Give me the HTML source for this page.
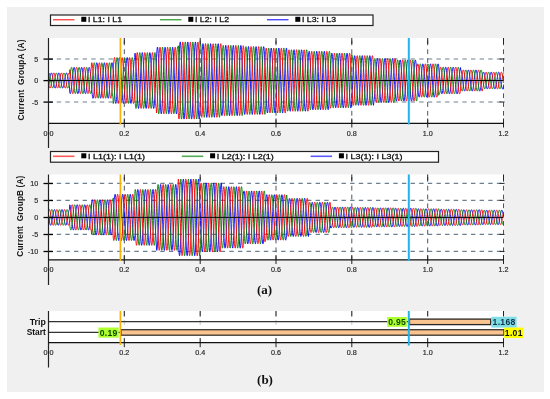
<!DOCTYPE html><html><head><meta charset="utf-8"><title>figure</title><style>html,body{margin:0;padding:0;background:#fff}svg{display:block}text{font-family:"Liberation Sans",sans-serif}</style></head><body>
<svg width="550" height="399" viewBox="0 0 550 399">
<rect x="0" y="0" width="550" height="399" fill="#fff"/>
<rect x="7" y="7" width="537" height="385" fill="#f0f0f0"/>
<rect x="48.5" y="38.0" width="455.5" height="85.0" fill="#fff"/>
<line x1="48.1" y1="59.0" x2="503.5" y2="59.0" stroke="#6d8091" stroke-width="1.1" stroke-dasharray="4.4 4.23"/>
<line x1="48.1" y1="102.0" x2="503.5" y2="102.0" stroke="#6d8091" stroke-width="1.1" stroke-dasharray="4.4 4.23"/>
<line x1="124.3" y1="40.5" x2="124.3" y2="123.0" stroke="#4c5762" stroke-width="1" stroke-dasharray="4.8 4"/>
<line x1="200.2" y1="40.5" x2="200.2" y2="123.0" stroke="#4c5762" stroke-width="1" stroke-dasharray="4.8 4"/>
<line x1="276.0" y1="40.5" x2="276.0" y2="123.0" stroke="#4c5762" stroke-width="1" stroke-dasharray="4.8 4"/>
<line x1="351.8" y1="40.5" x2="351.8" y2="123.0" stroke="#4c5762" stroke-width="1" stroke-dasharray="4.8 4"/>
<line x1="427.7" y1="40.5" x2="427.7" y2="123.0" stroke="#4c5762" stroke-width="1" stroke-dasharray="4.8 4"/>
<line x1="503.5" y1="40.5" x2="503.5" y2="123.0" stroke="#4c5762" stroke-width="1" stroke-dasharray="4.8 4"/>
<g fill="none" stroke-width="0.9" stroke-linejoin="round">
<path d="M48.50 85.76 L48.75 84.52 L49.00 83.10 L49.25 81.58 L49.50 80.01 L49.75 78.46 L50.00 77.00 L50.25 75.69 L50.50 74.58 L50.75 73.73 L51.00 73.16 L51.25 72.91 L51.50 72.99 L51.75 73.38 L52.00 74.08 L52.25 75.06 L52.50 76.26 L52.75 77.65 L53.00 79.16 L53.25 80.73 L53.50 82.28 L53.75 83.77 L54.00 85.11 L54.25 86.25 L54.50 87.15 L54.75 87.76 L55.00 88.07 L55.25 88.05 L55.50 87.71 L55.75 87.06 L56.00 86.12 L56.25 84.95 L56.50 83.59 L56.75 82.10 L57.00 80.53 L57.25 78.97 L57.50 77.47 L57.75 76.10 L58.00 74.92 L58.25 73.98 L58.50 73.32 L58.75 72.96 L59.00 72.93 L59.25 73.21 L59.50 73.82 L59.75 74.70 L60.00 75.84 L60.25 77.17 L60.50 78.65 L60.75 80.20 L61.00 81.77 L61.25 83.28 L61.50 84.68 L61.75 85.90 L62.00 86.88 L62.25 87.59 L62.50 88.00 L62.75 88.09 L63.00 87.86 L63.25 87.31 L63.50 86.46 L63.75 85.37 L64.00 84.06 L64.25 82.61 L64.50 81.06 L64.75 79.49 L65.00 77.96 L65.25 76.54 L65.50 75.29 L65.75 74.27 L66.00 73.50 L66.25 73.04 L66.50 72.90 L66.75 73.08 L67.00 73.58 L67.25 74.38 L67.50 75.43 L67.75 76.71 L68.00 78.14 L68.25 79.68 L68.50 81.25 L68.75 82.79 L69.00 84.23 L69.25 85.51 L69.50 86.58 L69.75 92.46 L70.00 93.36 L70.25 93.70 L70.50 93.47 L70.75 92.70 L71.00 91.40 L71.25 89.63 L71.50 87.48 L71.75 85.02 L72.00 82.38 L72.25 79.65 L72.50 76.96 L72.75 74.42 L73.00 72.14 L73.25 70.22 L73.50 68.74 L73.75 67.76 L74.00 67.32 L74.25 67.45 L74.50 68.14 L74.75 69.35 L75.00 71.04 L75.25 73.14 L75.50 75.55 L75.75 78.17 L76.00 80.89 L76.25 83.60 L76.50 86.17 L76.75 88.50 L77.00 90.49 L77.25 92.05 L77.50 93.12 L77.75 93.65 L78.00 93.61 L78.25 93.02 L78.50 91.89 L78.75 90.27 L79.00 88.23 L79.25 85.87 L79.50 83.27 L79.75 80.56 L80.00 77.84 L80.25 75.24 L80.50 72.86 L80.75 70.81 L81.00 69.18 L81.25 68.02 L81.50 67.40 L81.75 67.34 L82.00 67.85 L82.25 68.89 L82.50 70.43 L82.75 72.40 L83.00 74.72 L83.25 77.28 L83.50 79.98 L83.75 82.71 L84.00 85.34 L84.25 87.76 L84.50 89.87 L84.75 91.58 L85.00 92.82 L85.25 93.53 L85.50 93.69 L85.75 93.28 L86.00 92.32 L86.25 90.86 L86.50 88.95 L86.75 86.69 L87.00 84.16 L87.25 81.47 L87.50 78.74 L87.75 76.09 L88.00 73.63 L88.25 71.46 L88.50 69.67 L88.75 68.35 L89.00 67.55 L89.25 67.30 L89.50 67.62 L89.75 68.48 L90.00 69.87 L90.25 71.70 L90.50 73.91 L90.75 76.41 L91.00 79.07 L91.25 81.80 L91.50 85.86 L91.75 89.24 L92.00 92.24 L92.25 94.74 L92.50 96.63 L92.75 97.84 L93.00 98.30 L93.25 98.00 L93.50 96.95 L93.75 95.20 L94.00 92.82 L94.25 89.91 L94.50 86.60 L94.75 83.03 L95.00 79.35 L95.25 75.73 L95.50 72.30 L95.75 69.23 L96.00 66.63 L96.25 64.64 L96.50 63.31 L96.75 62.73 L97.00 62.90 L97.25 63.83 L97.50 65.47 L97.75 67.75 L98.00 70.57 L98.25 73.83 L98.50 77.36 L98.75 81.03 L99.00 84.68 L99.25 88.15 L99.50 91.29 L99.75 93.97 L100.00 96.08 L100.25 97.52 L100.50 98.23 L100.75 98.18 L101.00 97.38 L101.25 95.85 L101.50 93.67 L101.75 90.93 L102.00 87.74 L102.25 84.24 L102.50 80.58 L102.75 76.92 L103.00 73.41 L103.25 70.20 L103.50 67.44 L103.75 65.23 L104.00 63.68 L104.25 62.84 L104.50 62.76 L104.75 63.44 L105.00 64.84 L105.25 66.92 L105.50 69.58 L105.75 72.70 L106.00 76.16 L106.25 79.80 L106.50 83.48 L106.75 87.02 L107.00 90.29 L107.25 93.14 L107.50 95.45 L107.75 97.11 L108.00 98.07 L108.25 98.28 L108.50 97.73 L108.75 96.44 L109.00 94.47 L109.25 91.90 L109.50 88.84 L109.75 85.43 L110.00 81.81 L110.25 78.13 L110.50 74.55 L110.75 71.23 L111.00 68.30 L111.25 65.90 L111.50 64.12 L111.75 63.04 L112.00 62.70 L112.25 63.13 L112.50 64.30 L112.75 66.16 L113.00 68.64 L113.25 69.02 L113.50 73.37 L113.75 78.02 L114.00 82.77 L114.25 87.43 L114.50 91.79 L114.75 95.67 L115.00 98.90 L115.25 101.35 L115.50 102.90 L115.75 103.49 L116.00 103.11 L116.25 101.75 L116.50 99.49 L116.75 96.41 L117.00 92.66 L117.25 88.38 L117.50 83.77 L117.75 79.02 L118.00 74.33 L118.25 69.91 L118.50 65.93 L118.75 62.58 L119.00 60.00 L119.25 58.29 L119.50 57.54 L119.75 57.76 L120.00 58.96 L120.25 61.07 L120.50 64.02 L120.75 67.68 L121.00 71.88 L121.25 76.45 L121.50 81.19 L121.75 85.90 L122.00 90.38 L122.25 94.44 L122.50 97.91 L122.75 100.63 L123.00 102.49 L123.25 103.41 L123.50 103.34 L123.75 102.31 L124.00 100.34 L124.25 97.52 L124.50 93.98 L124.75 89.85 L125.00 85.33 L125.25 80.61 L125.50 75.87 L125.75 71.34 L126.00 67.20 L126.25 63.62 L126.50 60.77 L126.75 58.76 L127.00 57.68 L127.25 57.58 L127.50 58.45 L127.75 60.27 L128.00 62.95 L128.25 66.39 L128.50 70.43 L128.75 74.89 L129.00 79.60 L129.25 84.35 L129.50 88.93 L129.75 93.15 L130.00 96.83 L130.25 99.81 L130.50 101.97 L130.75 103.21 L131.00 103.47 L131.25 102.76 L131.50 101.09 L131.75 98.55 L132.00 95.23 L132.25 91.28 L132.50 86.87 L132.75 82.19 L133.00 77.44 L133.25 72.82 L133.50 68.52 L133.75 64.74 L134.00 61.63 L134.25 59.33 L134.50 57.93 L134.75 57.50 L135.00 53.17 L135.25 55.01 L135.50 57.94 L135.75 61.84 L136.00 66.53 L136.25 71.82 L136.50 77.48 L136.75 83.27 L137.00 88.94 L137.25 94.25 L137.50 98.97 L137.75 102.90 L138.00 105.88 L138.25 107.77 L138.50 108.49 L138.75 108.02 L139.00 106.37 L139.25 103.62 L139.50 99.87 L139.75 95.30 L140.00 90.10 L140.25 84.48 L140.50 78.70 L140.75 72.99 L141.00 67.60 L141.25 62.77 L141.50 58.69 L141.75 55.54 L142.00 53.47 L142.25 52.54 L142.50 52.82 L142.75 54.27 L143.00 56.85 L143.25 60.44 L143.50 64.89 L143.75 70.00 L144.00 75.56 L144.25 81.34 L144.50 87.08 L144.75 92.53 L145.00 97.47 L145.25 101.69 L145.50 105.00 L145.75 107.27 L146.00 108.38 L146.25 108.31 L146.50 107.05 L146.75 104.65 L147.00 101.22 L147.25 96.91 L147.50 91.89 L147.75 86.38 L148.00 80.63 L148.25 74.87 L148.50 69.35 L148.75 64.30 L149.00 59.95 L149.25 56.48 L149.50 54.03 L149.75 52.72 L150.00 52.59 L150.25 53.66 L150.50 55.87 L150.75 59.14 L151.00 63.32 L151.25 68.24 L151.50 73.67 L151.75 79.40 L152.00 85.18 L152.25 90.76 L152.50 95.90 L152.75 100.38 L153.00 104.01 L153.25 106.63 L153.50 108.14 L153.75 108.47 L154.00 107.60 L154.25 105.57 L154.50 102.47 L154.75 98.43 L155.00 93.63 L155.25 88.26 L155.50 82.56 L155.75 76.77 L156.00 71.15 L156.25 65.92 L156.50 57.61 L156.75 53.10 L157.00 49.76 L157.25 47.73 L157.50 47.10 L157.75 47.90 L158.00 50.10 L158.25 53.59 L158.50 58.24 L158.75 63.83 L159.00 70.14 L159.25 76.89 L159.50 83.80 L159.75 90.56 L160.00 96.90 L160.25 102.53 L160.50 107.22 L160.75 110.77 L161.00 113.03 L161.25 113.89 L161.50 113.33 L161.75 111.36 L162.00 108.07 L162.25 103.61 L162.50 98.16 L162.75 91.95 L163.00 85.25 L163.25 78.35 L163.50 71.54 L163.75 65.11 L164.00 59.35 L164.25 54.48 L164.50 50.73 L164.75 48.25 L165.00 47.15 L165.25 47.48 L165.50 49.22 L165.75 52.29 L166.00 56.57 L166.25 61.88 L166.50 67.98 L166.75 74.61 L167.00 81.50 L167.25 88.34 L167.50 94.85 L167.75 100.75 L168.00 105.78 L168.25 109.73 L168.50 112.43 L168.75 113.76 L169.00 113.67 L169.25 112.17 L169.50 109.31 L169.75 105.22 L170.00 100.07 L170.25 94.09 L170.50 87.52 L170.75 80.65 L171.00 73.78 L171.25 67.20 L171.50 61.18 L171.75 55.99 L172.00 51.85 L172.25 48.93 L172.50 47.36 L172.75 47.21 L173.00 48.48 L173.25 51.12 L173.50 55.02 L173.75 60.01 L174.00 65.87 L174.25 72.36 L174.50 79.19 L174.75 86.09 L175.00 92.74 L175.25 98.87 L175.50 104.21 L175.75 108.54 L176.00 111.67 L176.25 113.47 L176.50 113.86 L176.75 112.83 L177.00 110.41 L177.25 106.71 L177.50 101.89 L177.75 96.16 L178.00 89.76 L178.25 83.34 L178.50 75.36 L178.75 67.60 L179.00 60.40 L179.25 54.05 L179.50 48.83 L179.75 44.97 L180.00 42.63 L180.25 41.90 L180.50 42.83 L180.75 45.36 L181.00 49.40 L181.25 54.77 L181.50 61.24 L181.75 68.53 L182.00 76.33 L182.25 84.31 L182.50 92.13 L182.75 99.45 L183.00 105.96 L183.25 111.39 L183.50 115.49 L183.75 118.09 L184.00 119.09 L184.25 118.44 L184.50 116.17 L184.75 112.37 L185.00 107.21 L185.25 100.90 L185.50 93.73 L185.75 85.99 L186.00 78.01 L186.25 70.15 L186.50 62.72 L186.75 56.05 L187.00 50.43 L187.25 46.10 L187.50 43.23 L187.75 41.96 L188.00 42.34 L188.25 44.35 L188.50 47.90 L188.75 52.85 L189.00 58.98 L189.25 66.03 L189.50 73.70 L189.75 81.65 L190.00 89.56 L190.25 97.09 L190.50 103.90 L190.75 109.71 L191.00 114.28 L191.25 117.40 L191.50 118.94 L191.75 118.84 L192.00 117.10 L192.25 113.79 L192.50 109.07 L192.75 103.12 L193.00 96.20 L193.25 88.61 L193.50 80.68 L193.75 72.74 L194.00 65.13 L194.25 58.17 L194.50 52.17 L194.75 47.39 L195.00 44.02 L195.25 42.20 L195.50 42.03 L195.75 43.50 L196.00 46.55 L196.25 51.05 L196.50 56.82 L196.75 63.59 L197.00 71.09 L197.25 78.99 L197.50 86.95 L197.75 94.64 L198.00 101.73 L198.25 107.90 L198.50 112.91 L198.75 116.53 L199.00 118.61 L199.25 119.06 L199.50 117.86 L199.75 115.06 L200.00 109.46 L200.25 104.13 L200.50 97.80 L200.75 90.73 L201.00 83.22 L201.25 75.59 L201.50 68.17 L201.75 61.28 L202.00 55.22 L202.25 50.23 L202.50 46.54 L202.75 44.30 L203.00 43.60 L203.25 44.49 L203.50 46.91 L203.75 50.77 L204.00 55.90 L204.25 62.09 L204.50 69.06 L204.75 76.52 L205.00 84.15 L205.25 91.62 L205.50 98.62 L205.75 104.84 L206.00 110.02 L206.25 113.95 L206.50 116.44 L206.75 117.39 L207.00 116.77 L207.25 114.60 L207.50 110.96 L207.75 106.03 L208.00 100.01 L208.25 93.15 L208.50 85.75 L208.75 78.12 L209.00 70.60 L209.25 63.50 L209.50 57.13 L209.75 51.76 L210.00 47.61 L210.25 44.87 L210.50 43.66 L210.75 44.02 L211.00 45.94 L211.25 49.34 L211.50 54.06 L211.75 59.92 L212.00 66.66 L212.25 73.99 L212.50 81.60 L212.75 89.17 L213.00 96.36 L213.25 102.87 L213.50 108.43 L213.75 112.79 L214.00 115.77 L214.25 117.25 L214.50 117.15 L214.75 115.49 L215.00 112.33 L215.25 107.81 L215.50 102.12 L215.75 95.51 L216.00 88.25 L216.25 80.67 L216.50 73.08 L216.75 65.80 L217.00 59.16 L217.25 53.42 L217.50 48.85 L217.75 45.62 L218.00 43.89 L218.25 43.72 L218.50 45.13 L218.75 48.05 L219.00 52.35 L219.25 57.86 L219.50 64.34 L219.75 71.50 L220.00 79.06 L220.25 86.67 L220.50 94.02 L220.75 100.79 L221.00 106.70 L221.25 111.48 L221.50 114.94 L221.75 115.25 L222.00 115.66 L222.25 114.57 L222.50 112.02 L222.75 108.12 L223.00 103.04 L223.25 97.00 L223.50 90.25 L223.75 83.09 L224.00 75.82 L224.25 68.74 L224.50 62.17 L224.75 56.38 L225.00 51.62 L225.25 48.10 L225.50 45.96 L225.75 45.30 L226.00 46.15 L226.25 48.46 L226.50 52.14 L226.75 57.04 L227.00 62.94 L227.25 69.58 L227.50 76.70 L227.75 83.98 L228.00 91.11 L228.25 97.78 L228.50 103.72 L228.75 108.66 L229.00 112.40 L229.25 114.78 L229.50 115.69 L229.75 115.10 L230.00 113.02 L230.25 109.56 L230.50 104.85 L230.75 99.11 L231.00 92.56 L231.25 85.51 L231.50 78.23 L231.75 71.06 L232.00 64.29 L232.25 58.21 L232.50 53.08 L232.75 49.13 L233.00 46.52 L233.25 45.36 L233.50 45.70 L233.75 47.53 L234.00 50.77 L234.25 55.28 L234.50 60.87 L234.75 67.30 L235.00 74.29 L235.25 81.55 L235.50 88.77 L235.75 95.63 L236.00 101.84 L236.25 107.14 L236.50 111.30 L236.75 114.15 L237.00 115.55 L237.25 115.46 L237.50 113.88 L237.75 110.86 L238.00 106.55 L238.25 101.12 L238.50 94.82 L238.75 87.90 L239.00 80.66 L239.25 73.42 L239.50 66.48 L239.75 60.14 L240.00 54.67 L240.25 50.30 L240.50 47.23 L240.75 45.58 L241.00 45.42 L241.25 46.76 L241.50 49.54 L241.75 53.65 L242.00 58.90 L242.25 65.08 L242.50 71.92 L242.75 79.12 L243.00 86.39 L243.25 93.40 L243.50 99.20 L243.75 104.64 L244.00 109.05 L244.25 112.23 L244.50 114.07 L244.75 114.46 L245.00 113.41 L245.25 110.94 L245.50 107.18 L245.75 102.27 L246.00 96.44 L246.25 89.92 L246.50 83.00 L246.75 75.97 L247.00 69.14 L247.25 62.79 L247.50 57.20 L247.75 52.61 L248.00 49.21 L248.25 47.14 L248.50 46.50 L248.75 47.32 L249.00 49.55 L249.25 53.11 L249.50 57.84 L249.75 63.53 L250.00 69.96 L250.25 76.83 L250.50 83.86 L250.75 90.75 L251.00 97.19 L251.25 102.93 L251.50 107.70 L251.75 111.32 L252.00 113.61 L252.25 114.49 L252.50 113.92 L252.75 111.92 L253.00 108.57 L253.25 104.02 L253.50 98.47 L253.75 92.15 L254.00 85.34 L254.25 78.31 L254.50 71.38 L254.75 64.84 L255.00 58.97 L255.25 54.02 L255.50 50.20 L255.75 47.67 L256.00 46.55 L256.25 46.89 L256.50 48.65 L256.75 51.78 L257.00 56.14 L257.25 61.54 L257.50 67.75 L257.75 74.51 L258.00 81.52 L258.25 88.48 L258.50 95.11 L258.75 101.11 L259.00 106.23 L259.25 110.25 L259.50 113.00 L259.75 114.36 L260.00 114.27 L260.25 112.74 L260.50 109.83 L260.75 105.66 L261.00 100.42 L261.25 94.33 L261.50 87.65 L261.75 80.66 L262.00 73.66 L262.25 66.96 L262.50 60.83 L262.75 55.55 L263.00 51.33 L263.25 48.36 L263.50 46.77 L263.75 46.61 L264.00 47.91 L264.25 50.60 L264.50 54.56 L264.75 59.64 L265.00 65.61 L265.25 72.58 L265.50 79.23 L265.75 85.93 L266.00 92.41 L266.25 98.37 L266.50 103.57 L266.75 107.79 L267.00 110.83 L267.25 112.59 L267.50 112.96 L267.75 111.95 L268.00 109.60 L268.25 106.00 L268.50 101.31 L268.75 95.74 L269.00 89.51 L269.25 82.89 L269.50 76.17 L269.75 69.64 L270.00 63.57 L270.25 58.23 L270.50 53.84 L270.75 50.59 L271.00 48.61 L271.25 48.00 L271.50 48.78 L271.75 50.92 L272.00 54.32 L272.25 58.84 L272.50 64.28 L272.75 70.42 L273.00 76.99 L273.25 83.71 L273.50 90.29 L273.75 96.46 L274.00 101.94 L274.25 106.50 L274.50 109.96 L274.75 112.15 L275.00 112.99 L275.25 112.44 L275.50 110.53 L275.75 107.33 L276.00 102.99 L276.25 97.68 L276.50 91.64 L276.75 85.12 L277.00 78.41 L277.25 71.78 L277.50 65.53 L277.75 59.92 L278.00 55.18 L278.25 51.53 L278.50 49.12 L278.75 48.05 L279.00 48.37 L279.25 50.06 L279.50 53.05 L279.75 57.22 L280.00 62.38 L280.25 68.31 L280.50 74.77 L280.75 81.47 L281.00 88.13 L281.25 94.47 L281.50 100.20 L281.75 105.10 L282.00 108.94 L282.25 111.57 L282.50 112.87 L282.75 112.78 L283.00 111.32 L283.25 108.53 L283.50 104.55 L283.75 99.54 L284.00 93.72 L284.25 87.33 L284.50 80.65 L284.75 73.96 L285.00 67.55 L285.25 61.70 L285.50 56.65 L285.75 52.62 L286.00 49.78 L286.25 48.26 L286.50 48.11 L286.75 49.35 L287.00 53.41 L287.25 57.00 L287.50 61.60 L287.75 67.01 L288.00 72.99 L288.25 79.30 L288.50 85.65 L288.75 91.79 L289.00 97.44 L289.25 102.37 L289.50 106.36 L289.75 109.25 L290.00 110.91 L290.25 111.27 L290.50 110.31 L290.75 108.08 L291.00 104.67 L291.25 100.23 L291.50 94.94 L291.75 89.04 L292.00 82.77 L292.25 76.40 L292.50 70.21 L292.75 64.46 L293.00 59.40 L293.25 55.23 L293.50 52.15 L293.75 50.28 L294.00 49.70 L294.25 50.44 L294.50 52.46 L294.75 55.69 L295.00 59.97 L295.25 65.13 L295.50 70.95 L295.75 77.17 L296.00 83.54 L296.25 89.78 L296.50 95.62 L296.75 100.82 L297.00 105.14 L297.25 108.42 L297.50 110.50 L297.75 111.29 L298.00 110.77 L298.25 108.96 L298.50 105.93 L298.75 101.81 L299.00 96.78 L299.25 91.06 L299.50 84.88 L299.75 78.52 L300.00 72.24 L300.25 66.31 L300.50 60.99 L300.75 56.51 L301.00 53.05 L301.25 50.76 L301.50 49.75 L301.75 50.05 L302.00 51.65 L302.25 54.49 L302.50 58.43 L302.75 63.33 L303.00 68.95 L303.25 75.07 L303.50 81.42 L303.75 87.73 L304.00 93.74 L304.25 99.17 L304.50 103.81 L304.75 107.45 L305.00 109.94 L305.25 111.17 L305.50 111.09 L305.75 109.70 L306.00 107.07 L306.25 103.29 L306.50 98.55 L306.75 93.03 L307.00 86.97 L307.25 80.64 L307.50 74.30 L307.75 68.23 L308.00 62.68 L308.25 57.90 L308.50 54.08 L308.75 52.81 L309.00 51.43 L309.25 51.30 L309.50 52.41 L309.75 54.73 L310.00 58.15 L310.25 62.52 L310.50 67.67 L310.75 73.36 L311.00 79.35 L311.25 85.40 L311.50 91.24 L311.75 96.61 L312.00 101.30 L312.25 105.10 L312.50 107.85 L312.75 109.43 L313.00 109.77 L313.25 108.86 L313.50 106.74 L313.75 103.49 L314.00 99.26 L314.25 94.24 L314.50 88.62 L314.75 82.66 L315.00 76.60 L315.25 70.71 L315.50 65.24 L315.75 60.42 L316.00 56.46 L316.25 53.53 L316.50 51.75 L316.75 51.20 L317.00 51.90 L317.25 53.83 L317.50 56.90 L317.75 60.97 L318.00 65.88 L318.25 71.41 L318.50 77.34 L318.75 83.39 L319.00 89.33 L319.25 94.89 L319.50 99.83 L319.75 103.94 L320.00 107.06 L320.25 109.04 L320.50 109.79 L320.75 109.30 L321.00 107.57 L321.25 104.69 L321.50 100.77 L321.75 95.99 L322.00 90.54 L322.25 84.67 L322.50 78.61 L322.75 72.64 L323.00 67.00 L323.25 61.94 L323.50 57.68 L323.75 54.39 L324.00 52.21 L324.25 51.25 L324.50 51.53 L324.75 53.06 L325.00 55.75 L325.25 59.51 L325.50 64.16 L325.75 69.51 L326.00 75.33 L326.25 81.38 L326.50 87.38 L326.75 93.09 L327.00 98.26 L327.25 102.68 L327.50 106.14 L327.75 108.51 L328.00 109.68 L328.25 109.60 L328.50 108.28 L328.75 105.77 L329.00 102.18 L329.25 97.67 L329.50 92.42 L329.75 86.66 L330.00 80.63 L330.25 74.61 L330.50 69.59 L330.75 64.65 L331.00 60.39 L331.25 56.99 L331.50 54.60 L331.75 53.32 L332.00 53.19 L332.25 54.24 L332.50 56.40 L332.75 59.60 L333.00 63.69 L333.25 68.50 L333.50 73.82 L333.75 79.43 L334.00 85.08 L334.25 90.54 L334.50 95.57 L334.75 99.95 L335.00 103.51 L335.25 106.07 L335.50 107.55 L335.75 107.87 L336.00 107.02 L336.25 105.03 L336.50 102.00 L336.75 98.05 L337.00 93.34 L337.25 88.09 L337.50 82.52 L337.75 76.85 L338.00 71.35 L338.25 66.23 L338.50 61.73 L338.75 58.02 L339.00 55.28 L339.25 53.62 L339.50 53.10 L339.75 53.76 L340.00 55.56 L340.25 58.43 L340.50 62.24 L340.75 66.83 L341.00 72.00 L341.25 77.54 L341.50 83.21 L341.75 88.76 L342.00 93.95 L342.25 98.57 L342.50 102.42 L342.75 105.34 L343.00 107.18 L343.25 107.89 L343.50 107.43 L343.75 105.82 L344.00 103.12 L344.25 99.46 L344.50 94.98 L344.75 89.89 L345.00 84.40 L345.25 78.74 L345.50 73.15 L345.75 67.88 L346.00 63.15 L346.25 59.16 L346.50 56.08 L346.75 54.05 L347.00 53.14 L347.25 53.41 L347.50 54.84 L347.75 57.36 L348.00 60.87 L348.25 65.22 L348.50 70.23 L348.75 75.67 L349.00 81.32 L349.25 86.93 L349.50 92.27 L349.75 97.11 L350.00 101.24 L350.25 104.48 L350.50 106.69 L350.75 107.79 L351.00 107.72 L351.25 106.48 L351.50 104.13 L351.75 100.78 L352.00 95.09 L352.25 90.63 L352.50 85.73 L352.75 80.61 L353.00 75.49 L353.25 70.58 L353.50 66.10 L353.75 62.23 L354.00 59.14 L354.25 56.96 L354.50 55.80 L354.75 55.68 L355.00 56.63 L355.25 58.60 L355.50 61.51 L355.75 65.22 L356.00 69.59 L356.25 74.43 L356.50 79.53 L356.75 84.66 L357.00 89.62 L357.25 94.19 L357.50 98.18 L357.75 101.41 L358.00 103.74 L358.25 105.08 L358.50 105.37 L358.75 104.60 L359.00 102.80 L359.25 100.04 L359.50 96.45 L359.75 92.17 L360.00 87.40 L360.25 82.33 L360.50 77.19 L360.75 72.18 L361.00 67.53 L361.25 63.44 L361.50 60.07 L361.75 57.58 L362.00 56.07 L362.25 55.60 L362.50 56.20 L362.75 57.84 L363.00 60.44 L363.25 63.90 L363.50 68.07 L363.75 72.78 L364.00 77.81 L364.25 82.96 L364.50 88.00 L364.75 92.73 L365.00 96.93 L365.25 100.42 L365.50 103.07 L365.75 104.75 L366.00 105.39 L366.25 104.97 L366.50 103.51 L366.75 101.06 L367.00 97.73 L367.25 93.66 L367.50 89.03 L367.75 84.04 L368.00 78.90 L368.25 73.82 L368.50 69.03 L368.75 64.73 L369.00 61.10 L369.25 58.31 L369.50 56.46 L369.75 55.64 L370.00 55.88 L370.25 57.18 L370.50 59.47 L370.75 62.66 L371.00 66.62 L371.25 71.16 L371.50 76.11 L371.75 81.24 L372.00 86.35 L372.25 91.20 L372.50 95.60 L372.75 99.35 L373.00 102.29 L373.25 104.30 L373.50 105.30 L373.75 102.45 L374.00 101.45 L374.25 99.56 L374.50 96.86 L374.75 93.45 L375.00 89.49 L375.25 85.14 L375.50 80.60 L375.75 76.05 L376.00 71.70 L376.25 67.72 L376.50 64.28 L376.75 61.54 L377.00 59.61 L377.25 58.57 L377.50 58.47 L377.75 59.32 L378.00 61.06 L378.25 63.64 L378.50 66.94 L378.75 70.82 L379.00 75.11 L379.25 79.64 L379.50 84.20 L379.75 88.60 L380.00 92.65 L380.25 96.19 L380.50 99.06 L380.75 101.13 L381.00 102.32 L381.25 102.58 L381.50 101.89 L381.75 100.29 L382.00 97.84 L382.25 94.65 L382.50 90.86 L382.75 86.62 L383.00 82.13 L383.25 77.56 L383.50 73.12 L383.75 68.99 L384.00 65.36 L384.25 62.37 L384.50 60.16 L384.75 58.82 L385.00 58.40 L385.25 58.93 L385.50 60.38 L385.75 62.70 L386.00 65.77 L386.25 69.47 L386.50 73.65 L386.75 78.11 L387.00 82.68 L387.25 87.16 L387.50 91.35 L387.75 95.08 L388.00 98.18 L388.25 100.53 L388.50 102.02 L388.75 102.59 L389.00 102.22 L389.25 100.92 L389.50 98.75 L389.75 95.79 L390.00 92.18 L390.25 88.07 L390.50 83.64 L390.75 79.08 L391.00 74.57 L391.25 70.32 L391.50 66.50 L391.75 63.29 L392.00 60.80 L392.25 59.16 L392.50 58.44 L392.75 58.65 L393.00 59.80 L393.25 61.83 L393.50 64.67 L393.75 68.18 L394.00 72.21 L394.25 76.60 L394.50 81.16 L394.75 85.69 L395.00 90.00 L395.25 93.90 L395.50 96.09 L395.75 98.53 L396.00 100.19 L396.25 101.01 L396.50 100.96 L396.75 100.03 L397.00 98.27 L397.25 95.75 L397.50 92.57 L397.75 88.88 L398.00 84.83 L398.25 80.59 L398.50 76.36 L398.75 72.29 L399.00 68.58 L399.25 65.38 L399.50 62.83 L399.75 61.03 L400.00 60.06 L400.25 59.97 L400.50 60.75 L400.75 62.38 L401.00 64.79 L401.25 67.86 L401.50 71.48 L401.75 75.48 L402.00 79.69 L402.25 83.94 L402.50 88.05 L402.75 91.83 L403.00 95.12 L403.25 97.80 L403.50 99.73 L403.75 100.84 L404.00 101.08 L404.25 100.44 L404.50 98.95 L404.75 96.66 L405.00 93.69 L405.25 90.16 L405.50 86.21 L405.75 82.02 L406.00 77.76 L406.25 73.62 L406.50 69.77 L406.75 66.38 L407.00 63.60 L407.25 61.54 L407.50 60.29 L407.75 59.90 L408.00 60.40 L408.25 61.75 L408.50 63.90 L408.75 66.77 L409.00 70.22 L409.25 74.11 L409.50 78.28 L409.75 82.54 L410.00 86.71 L410.25 90.61 L410.50 94.09 L410.75 96.98 L411.00 99.17 L411.25 100.56 L411.50 101.10 L411.75 100.75 L412.00 99.53 L412.25 97.51 L412.50 94.75 L412.75 91.39 L413.00 87.56 L413.25 83.43 L413.50 79.17 L413.75 74.97 L414.00 71.01 L414.25 67.45 L414.50 64.45 L414.75 62.14 L415.00 60.61 L415.25 59.93 L415.50 60.13 L415.75 61.21 L416.00 63.10 L416.25 65.74 L416.50 69.01 L416.75 72.78 L417.00 76.87 L417.25 81.00 L417.50 84.42 L417.75 87.68 L418.00 90.62 L418.25 93.14 L418.50 95.11 L418.75 96.46 L419.00 97.13 L419.25 97.09 L419.50 96.33 L419.75 94.90 L420.00 92.86 L420.25 90.28 L420.50 87.29 L420.75 84.01 L421.00 80.58 L421.25 77.14 L421.50 73.85 L421.75 70.84 L422.00 68.24 L422.25 66.17 L422.50 64.72 L422.75 63.93 L423.00 63.86 L423.25 64.49 L423.50 65.81 L423.75 67.76 L424.00 70.25 L424.25 73.18 L424.50 76.43 L424.75 79.85 L425.00 83.29 L425.25 86.62 L425.50 89.68 L425.75 92.36 L426.00 94.52 L426.25 96.09 L426.50 96.99 L426.75 97.18 L427.00 96.66 L427.25 95.45 L427.50 93.60 L427.75 91.20 L428.00 88.33 L428.25 85.13 L428.50 81.73 L428.75 78.28 L429.00 74.92 L429.25 71.80 L429.50 69.06 L429.75 66.80 L430.00 65.13 L430.25 64.11 L430.50 63.80 L430.75 64.20 L431.00 65.30 L431.25 67.05 L431.50 69.37 L431.75 72.17 L432.00 75.32 L432.25 78.70 L432.50 82.15 L432.75 85.53 L433.00 88.70 L433.25 91.52 L433.50 93.86 L433.75 95.64 L434.00 96.76 L434.25 97.20 L434.50 96.91 L434.75 95.93 L435.00 94.29 L435.25 92.05 L435.50 89.33 L435.75 86.22 L436.00 82.87 L436.25 79.42 L436.50 76.02 L436.75 72.81 L437.00 69.92 L437.25 67.49 L437.50 65.62 L437.75 64.38 L438.00 63.83 L438.25 63.99 L438.50 64.86 L438.75 66.40 L439.00 70.90 L439.25 73.03 L439.50 75.48 L439.75 78.14 L440.00 80.90 L440.25 83.65 L440.50 86.26 L440.75 88.62 L441.00 90.64 L441.25 92.23 L441.50 93.31 L441.75 93.84 L442.00 93.81 L442.25 93.21 L442.50 92.06 L442.75 90.42 L443.00 88.35 L443.25 85.95 L443.50 83.32 L443.75 80.56 L444.00 77.80 L444.25 75.16 L444.50 72.75 L444.75 70.67 L445.00 69.00 L445.25 67.83 L445.50 67.21 L445.75 67.14 L446.00 67.66 L446.25 68.71 L446.50 70.28 L446.75 72.28 L447.00 74.63 L447.25 77.23 L447.50 79.98 L447.75 82.74 L448.00 85.41 L448.25 87.87 L448.50 90.01 L448.75 91.75 L449.00 93.01 L449.25 93.73 L449.50 93.89 L449.75 93.47 L450.00 92.50 L450.25 91.01 L450.50 89.08 L450.75 86.78 L451.00 84.21 L451.25 81.49 L451.50 78.72 L451.75 76.02 L452.00 73.52 L452.25 71.32 L452.50 69.51 L452.75 68.17 L453.00 67.35 L453.25 67.10 L453.50 67.42 L453.75 68.30 L454.00 69.70 L454.25 71.57 L454.50 73.81 L454.75 76.34 L455.00 79.05 L455.25 81.82 L455.50 84.54 L455.75 87.08 L456.00 89.34 L456.25 91.22 L456.50 92.65 L456.75 93.55 L457.00 93.90 L457.25 93.67 L457.50 92.88 L457.75 91.56 L458.00 89.77 L458.25 87.58 L458.50 85.09 L458.75 82.41 L459.00 79.64 L459.25 76.91 L459.50 74.33 L459.75 72.01 L460.00 70.06 L460.25 68.56 L460.50 67.56 L460.75 69.92 L461.00 70.02 L461.25 70.57 L461.50 71.55 L461.75 72.91 L462.00 74.59 L462.25 76.53 L462.50 78.63 L462.75 80.82 L463.00 82.99 L463.25 85.06 L463.50 86.93 L463.75 88.52 L464.00 89.78 L464.25 90.63 L464.50 91.06 L464.75 91.03 L465.00 90.55 L465.25 89.64 L465.50 88.34 L465.75 86.71 L466.00 84.81 L466.25 82.73 L466.50 80.55 L466.75 78.37 L467.00 76.28 L467.25 74.37 L467.50 72.72 L467.75 71.41 L468.00 70.48 L468.25 69.98 L468.50 69.94 L468.75 70.34 L469.00 71.18 L469.25 72.41 L469.50 74.00 L469.75 75.86 L470.00 77.92 L470.25 80.09 L470.50 82.27 L470.75 84.38 L471.00 86.33 L471.25 88.03 L471.50 89.40 L471.75 90.39 L472.00 90.96 L472.25 91.09 L472.50 90.76 L472.75 89.99 L473.00 88.82 L473.25 87.29 L473.50 85.47 L473.75 83.44 L474.00 81.28 L474.25 79.09 L474.50 76.96 L474.75 74.98 L475.00 73.24 L475.25 71.80 L475.50 70.74 L475.75 70.10 L476.00 69.90 L476.25 70.16 L476.50 70.85 L476.75 71.96 L477.00 73.43 L477.25 75.21 L477.50 77.21 L477.75 79.36 L478.00 81.55 L478.25 83.69 L478.50 85.70 L478.75 87.49 L479.00 88.98 L479.25 90.11 L479.50 90.82 L479.75 91.10 L480.00 90.92 L480.25 90.29 L480.50 89.25 L480.75 87.83 L481.00 86.10 L481.25 84.13 L481.50 82.01 L481.75 79.82 L482.00 77.66 L482.25 75.62 L482.50 75.18 L482.75 73.96 L483.00 73.01 L483.25 72.39 L483.50 72.11 L483.75 72.20 L484.00 72.63 L484.25 73.41 L484.50 74.48 L484.75 75.82 L485.00 77.35 L485.25 79.02 L485.50 80.75 L485.75 82.47 L486.00 84.11 L486.25 85.59 L486.50 86.86 L486.75 87.85 L487.00 88.53 L487.25 88.87 L487.50 88.84 L487.75 88.46 L488.00 87.75 L488.25 86.72 L488.50 85.42 L488.75 83.92 L489.00 82.27 L489.25 80.54 L489.50 78.81 L489.75 77.15 L490.00 75.64 L490.25 74.34 L490.50 73.29 L490.75 72.56 L491.00 72.17 L491.25 72.13 L491.50 72.45 L491.75 73.11 L492.00 74.09 L492.25 75.35 L492.50 76.82 L492.75 78.45 L493.00 80.17 L493.25 81.90 L493.50 83.58 L493.75 85.12 L494.00 86.46 L494.25 87.55 L494.50 88.34 L494.75 88.79 L495.00 88.89 L495.25 88.63 L495.50 88.02 L495.75 87.09 L496.00 85.88 L496.25 84.44 L496.50 82.83 L496.75 81.12 L497.00 79.38 L497.25 77.69 L497.50 76.13 L497.75 74.74 L498.00 73.61 L498.25 72.77 L498.50 72.26 L498.75 72.10 L499.00 72.30 L499.25 72.85 L499.50 73.73 L499.75 74.90 L500.00 76.31 L500.25 77.90 L500.50 79.59 L500.75 81.33 L501.00 83.03 L501.25 84.62 L501.50 86.04 L501.75 87.22 L502.00 88.11 L502.25 88.68 L502.50 88.90 L502.75 88.76 L503.00 88.26 L503.25 87.43 L503.50 86.31" stroke="#0000ff"/>
<path d="M48.50 73.12 L48.75 72.90 L49.00 73.01 L49.25 73.44 L49.50 74.18 L49.75 75.18 L50.00 76.41 L50.25 77.81 L50.50 79.33 L50.75 80.90 L51.00 82.45 L51.25 83.92 L51.50 85.25 L51.75 86.36 L52.00 87.23 L52.25 87.81 L52.50 88.08 L52.75 88.03 L53.00 87.65 L53.25 86.97 L53.50 86.01 L53.75 84.81 L54.00 83.43 L54.25 81.93 L54.50 80.36 L54.75 78.80 L55.00 77.31 L55.25 75.96 L55.50 74.81 L55.75 73.89 L56.00 73.26 L56.25 72.94 L56.50 72.94 L56.75 73.27 L57.00 73.90 L57.25 74.82 L57.50 75.98 L57.75 77.33 L58.00 78.82 L58.25 80.38 L58.50 81.94 L58.75 83.45 L59.00 84.82 L59.25 86.02 L59.50 86.97 L59.75 87.65 L60.00 88.03 L60.25 88.08 L60.50 87.81 L60.75 87.23 L61.00 86.35 L61.25 85.23 L61.50 83.91 L61.75 82.44 L62.00 80.88 L62.25 79.32 L62.50 77.80 L62.75 76.39 L63.00 75.17 L63.25 74.17 L63.50 73.44 L63.75 73.01 L64.00 72.90 L64.25 73.12 L64.50 73.66 L64.75 74.48 L65.00 75.57 L65.25 76.86 L65.50 78.31 L65.75 79.85 L66.00 81.42 L66.25 82.96 L66.50 84.38 L66.75 85.64 L67.00 86.68 L67.25 87.46 L67.50 87.94 L67.75 88.10 L68.00 87.94 L68.25 87.45 L68.50 86.67 L68.75 85.63 L69.00 84.37 L69.25 82.94 L69.50 81.41 L69.75 79.35 L70.00 76.67 L70.25 74.15 L70.50 71.91 L70.75 70.03 L71.00 68.60 L71.25 67.68 L71.50 67.31 L71.75 67.50 L72.00 68.25 L72.25 69.52 L72.50 71.26 L72.75 73.39 L73.00 75.83 L73.25 78.47 L73.50 81.20 L73.75 83.89 L74.00 86.45 L74.25 88.74 L74.50 90.69 L74.75 92.20 L75.00 93.20 L75.25 93.67 L75.50 93.57 L75.75 92.92 L76.00 91.73 L76.25 90.06 L76.50 87.99 L76.75 85.59 L77.00 82.98 L77.25 80.26 L77.50 77.55 L77.75 74.97 L78.00 72.62 L78.25 70.61 L78.50 69.02 L78.75 67.93 L79.00 67.37 L79.25 67.37 L79.50 67.94 L79.75 69.04 L80.00 70.63 L80.25 72.64 L80.50 74.99 L80.75 77.58 L81.00 80.29 L81.25 83.01 L81.50 85.62 L81.75 88.01 L82.00 90.08 L82.25 91.74 L82.50 92.93 L82.75 93.58 L83.00 93.67 L83.25 93.20 L83.50 92.18 L83.75 90.67 L84.00 88.72 L84.25 86.42 L84.50 83.87 L84.75 81.17 L85.00 78.44 L85.25 75.81 L85.50 73.37 L85.75 71.24 L86.00 69.50 L86.25 68.23 L86.50 67.49 L86.75 67.31 L87.00 67.69 L87.25 68.61 L87.50 70.05 L87.75 71.93 L88.00 74.18 L88.25 76.70 L88.50 79.38 L88.75 82.11 L89.00 84.77 L89.25 87.24 L89.50 89.43 L89.75 91.24 L90.00 92.59 L90.25 93.42 L90.50 93.70 L90.75 93.41 L91.00 92.58 L91.25 91.22 L91.50 92.52 L91.75 89.56 L92.00 86.21 L92.25 82.63 L92.50 78.95 L92.75 75.33 L93.00 71.94 L93.25 68.91 L93.50 66.38 L93.75 64.45 L94.00 63.21 L94.25 62.71 L94.50 62.97 L94.75 63.98 L95.00 65.69 L95.25 68.04 L95.50 70.92 L95.75 74.21 L96.00 77.77 L96.25 81.44 L96.50 85.08 L96.75 88.52 L97.00 91.61 L97.25 94.24 L97.50 96.27 L97.75 97.63 L98.00 98.26 L98.25 98.13 L98.50 97.24 L98.75 95.64 L99.00 93.39 L99.25 90.59 L99.50 87.36 L99.75 83.84 L100.00 80.17 L100.25 76.52 L100.50 73.04 L100.75 69.87 L101.00 67.16 L101.25 65.02 L101.50 63.55 L101.75 62.79 L102.00 62.80 L102.25 63.56 L102.50 65.04 L102.75 67.19 L103.00 69.91 L103.25 73.07 L103.50 76.56 L103.75 80.21 L104.00 83.88 L104.25 87.40 L104.50 90.63 L104.75 93.42 L105.00 95.66 L105.25 97.26 L105.50 98.13 L105.75 98.26 L106.00 97.62 L106.25 96.25 L106.50 94.21 L106.75 91.58 L107.00 88.48 L107.25 85.04 L107.50 81.40 L107.75 77.73 L108.00 74.17 L108.25 70.88 L108.50 68.01 L108.75 65.67 L109.00 63.96 L109.25 62.96 L109.50 62.71 L109.75 63.22 L110.00 64.47 L110.25 66.41 L110.50 68.94 L110.75 71.98 L111.00 75.37 L111.25 78.99 L111.50 82.67 L111.75 86.25 L112.00 89.59 L112.25 92.55 L112.50 94.98 L112.75 96.80 L113.00 97.92 L113.25 103.50 L113.50 103.00 L113.75 101.54 L114.00 99.18 L114.25 96.03 L114.50 92.21 L114.75 87.88 L115.00 83.25 L115.25 78.49 L115.50 73.82 L115.75 69.44 L116.00 65.53 L116.25 62.26 L116.50 59.77 L116.75 58.16 L117.00 57.51 L117.25 57.85 L117.50 59.15 L117.75 61.36 L118.00 64.40 L118.25 68.12 L118.50 72.37 L118.75 76.97 L119.00 81.72 L119.25 86.41 L119.50 90.86 L119.75 94.86 L120.00 98.25 L120.25 100.88 L120.50 102.64 L120.75 103.45 L121.00 103.28 L121.25 102.13 L121.50 100.07 L121.75 97.16 L122.00 93.54 L122.25 89.37 L122.50 84.81 L122.75 80.08 L123.00 75.36 L123.25 70.86 L123.50 66.77 L123.75 63.27 L124.00 60.50 L124.25 58.59 L124.50 57.62 L124.75 57.63 L125.00 58.61 L125.25 60.53 L125.50 63.30 L125.75 66.81 L126.00 70.90 L126.25 75.41 L126.50 80.13 L126.75 84.87 L127.00 89.42 L127.25 93.59 L127.50 97.20 L127.75 100.09 L128.00 102.15 L128.25 103.28 L128.50 103.44 L128.75 102.62 L129.00 100.85 L129.25 98.22 L129.50 94.82 L129.75 90.81 L130.00 86.36 L130.25 81.66 L130.50 76.92 L130.75 72.32 L131.00 68.07 L131.25 64.36 L131.50 61.33 L131.75 59.13 L132.00 57.84 L132.25 57.51 L132.50 58.17 L132.75 59.79 L133.00 62.29 L133.25 65.57 L133.50 69.48 L133.75 73.87 L134.00 78.54 L134.25 83.30 L134.50 87.93 L134.75 92.25 L135.00 99.45 L135.25 103.28 L135.50 106.14 L135.75 107.91 L136.00 108.50 L136.25 107.89 L136.50 106.12 L136.75 103.25 L137.00 99.40 L137.25 94.75 L137.50 89.49 L137.75 83.84 L138.00 78.05 L138.25 72.37 L138.50 67.03 L138.75 62.27 L139.00 58.29 L139.25 55.26 L139.50 53.31 L139.75 52.52 L140.00 52.92 L140.25 54.51 L140.50 57.20 L140.75 60.90 L141.00 65.43 L141.25 70.60 L141.50 76.20 L141.75 81.98 L142.00 87.70 L142.25 93.11 L142.50 97.98 L142.75 102.11 L143.00 105.31 L143.25 107.45 L143.50 108.44 L143.75 108.23 L144.00 106.84 L144.25 104.32 L144.50 100.78 L144.75 96.38 L145.00 91.30 L145.25 85.75 L145.50 79.98 L145.75 74.24 L146.00 68.76 L146.25 63.78 L146.50 59.52 L146.75 56.16 L147.00 53.83 L147.25 52.65 L147.50 52.65 L147.75 53.85 L148.00 56.19 L148.25 59.56 L148.50 63.83 L148.75 68.82 L149.00 74.30 L149.25 80.05 L149.50 85.82 L149.75 91.36 L150.00 96.43 L150.25 100.83 L150.50 104.35 L150.75 106.86 L151.00 108.24 L151.25 108.43 L151.50 107.43 L151.75 105.28 L152.00 102.07 L152.25 97.93 L152.50 93.05 L152.75 87.64 L153.00 81.92 L153.25 76.14 L153.50 70.54 L153.75 65.37 L154.00 60.85 L154.25 57.17 L154.50 54.48 L154.75 52.91 L155.00 52.52 L155.25 53.32 L155.50 55.29 L155.75 58.33 L156.00 62.32 L156.25 67.09 L156.50 70.88 L156.75 77.66 L157.00 84.56 L157.25 91.30 L157.50 97.56 L157.75 103.10 L158.00 107.68 L158.25 111.09 L158.50 113.19 L158.75 113.90 L159.00 113.18 L159.25 111.06 L159.50 107.63 L159.75 103.05 L160.00 97.50 L160.25 91.22 L160.50 84.49 L160.75 77.58 L161.00 70.80 L161.25 64.44 L161.50 58.76 L161.75 54.01 L162.00 50.39 L162.25 48.06 L162.50 47.12 L162.75 47.60 L163.00 49.49 L163.25 52.71 L163.50 57.11 L163.75 62.52 L164.00 68.69 L164.25 75.37 L164.50 82.27 L164.75 89.09 L165.00 95.54 L165.25 101.35 L165.50 106.27 L165.75 110.09 L166.00 112.64 L166.25 113.82 L166.50 113.58 L166.75 111.92 L167.00 108.91 L167.25 104.69 L167.50 99.44 L167.75 93.38 L168.00 86.77 L168.25 79.89 L168.50 73.03 L168.75 66.49 L169.00 60.56 L169.25 55.47 L169.50 51.46 L169.75 48.69 L170.00 47.28 L170.25 47.28 L170.50 48.71 L170.75 51.50 L171.00 55.53 L171.25 60.62 L171.50 66.56 L171.75 73.11 L172.00 79.96 L172.25 86.84 L172.50 93.45 L172.75 99.50 L173.00 104.75 L173.25 108.95 L173.50 111.94 L173.75 113.59 L174.00 113.82 L174.25 112.62 L174.50 110.06 L174.75 106.23 L175.00 101.29 L175.25 95.47 L175.50 89.01 L175.75 82.19 L176.00 75.29 L176.25 68.62 L176.50 62.45 L176.75 57.06 L177.00 52.67 L177.25 49.47 L177.50 47.59 L177.75 47.12 L178.00 48.08 L178.25 45.74 L178.50 49.94 L178.75 55.44 L179.00 62.01 L179.25 69.38 L179.50 77.22 L179.75 85.20 L180.00 92.98 L180.25 100.22 L180.50 106.62 L180.75 111.91 L181.00 115.85 L181.25 118.28 L181.50 119.10 L181.75 118.27 L182.00 115.82 L182.25 111.86 L182.50 106.56 L182.75 100.15 L183.00 92.89 L183.25 85.11 L183.50 77.13 L183.75 69.29 L184.00 61.94 L184.25 55.37 L184.50 49.88 L184.75 45.70 L185.00 43.01 L185.25 41.92 L185.50 42.48 L185.75 44.67 L186.00 48.38 L186.25 53.47 L186.50 59.72 L186.75 66.85 L187.00 74.57 L187.25 82.54 L187.50 90.43 L187.75 97.89 L188.00 104.60 L188.25 110.29 L188.50 114.70 L188.75 117.65 L189.00 119.01 L189.25 118.73 L189.50 116.81 L189.75 113.34 L190.00 108.46 L190.25 102.39 L190.50 95.38 L190.75 87.74 L191.00 79.79 L191.25 71.87 L191.50 64.31 L191.75 57.45 L192.00 51.58 L192.25 46.94 L192.50 43.73 L192.75 42.10 L193.00 42.11 L193.25 43.76 L193.50 46.98 L193.75 51.64 L194.00 57.52 L194.25 64.40 L194.50 71.95 L194.75 79.88 L195.00 87.83 L195.25 95.47 L195.50 102.46 L195.75 108.52 L196.00 113.38 L196.25 116.84 L196.50 118.74 L196.75 119.00 L197.00 117.63 L197.25 114.66 L197.50 110.23 L197.75 104.53 L198.00 97.81 L198.25 90.34 L198.50 82.45 L198.75 74.48 L199.00 66.77 L199.25 59.64 L199.50 53.41 L199.75 48.33 L200.00 46.21 L200.25 44.14 L200.50 43.62 L200.75 44.68 L201.00 47.27 L201.25 51.28 L201.50 56.54 L201.75 62.83 L202.00 69.87 L202.25 77.36 L202.50 84.99 L202.75 92.43 L203.00 99.35 L203.25 105.47 L203.50 110.53 L203.75 114.30 L204.00 116.62 L204.25 117.40 L204.50 116.60 L204.75 114.26 L205.00 110.48 L205.25 105.41 L205.50 99.28 L205.75 92.35 L206.00 84.91 L206.25 77.28 L206.50 69.79 L206.75 62.75 L207.00 56.48 L207.25 51.23 L207.50 47.24 L207.75 44.66 L208.00 43.62 L208.25 44.16 L208.50 46.24 L208.75 49.80 L209.00 54.66 L209.25 60.63 L209.50 67.45 L209.75 74.83 L210.00 82.45 L210.25 89.99 L210.50 97.12 L210.75 103.54 L211.00 108.98 L211.25 113.19 L211.50 116.01 L211.75 117.31 L212.00 117.04 L212.25 115.21 L212.50 111.89 L212.75 107.23 L213.00 101.43 L213.25 94.73 L213.50 87.42 L213.75 79.82 L214.00 72.25 L214.25 65.03 L214.50 58.47 L214.75 52.85 L215.00 48.42 L215.25 45.35 L215.50 43.79 L215.75 43.80 L216.00 45.38 L216.25 48.46 L216.50 52.91 L216.75 58.54 L217.00 65.10 L217.25 72.33 L217.50 79.91 L217.75 87.51 L218.00 94.81 L218.25 101.50 L218.50 107.29 L218.75 111.93 L219.00 115.24 L219.25 117.05 L219.50 117.31 L219.75 115.99 L220.00 113.15 L220.25 108.92 L220.50 103.47 L220.75 97.04 L221.00 89.91 L221.25 82.37 L221.50 74.75 L221.75 67.98 L222.00 61.48 L222.25 55.80 L222.50 51.17 L222.75 47.79 L223.00 45.82 L223.25 45.32 L223.50 46.33 L223.75 48.80 L224.00 52.63 L224.25 57.65 L224.50 63.64 L224.75 70.36 L225.00 77.51 L225.25 84.78 L225.50 91.88 L225.75 98.48 L226.00 104.32 L226.25 109.14 L226.50 112.74 L226.75 114.96 L227.00 115.70 L227.25 114.94 L227.50 112.71 L227.75 109.10 L228.00 104.26 L228.25 98.41 L228.50 91.80 L228.75 84.70 L229.00 77.43 L229.25 70.28 L229.50 63.57 L229.75 57.59 L230.00 52.58 L230.25 48.77 L230.50 46.31 L230.75 45.32 L231.00 45.83 L231.25 47.82 L231.50 51.21 L231.75 55.85 L232.00 61.55 L232.25 68.06 L232.50 75.09 L232.75 82.36 L233.00 89.55 L233.25 96.35 L233.50 102.48 L233.75 107.66 L234.00 111.69 L234.25 114.38 L234.50 115.62 L234.75 115.36 L235.00 113.61 L235.25 110.44 L235.50 106.00 L235.75 100.46 L236.00 94.07 L236.25 87.10 L236.50 79.85 L236.75 72.63 L237.00 65.74 L237.25 59.48 L237.50 54.13 L237.75 49.90 L238.00 46.97 L238.25 45.48 L238.50 45.49 L238.75 47.00 L239.00 49.94 L239.25 54.18 L239.50 59.55 L239.75 65.81 L240.00 72.71 L240.25 79.93 L240.50 87.18 L240.75 94.15 L241.00 100.53 L241.25 106.05 L241.50 110.49 L241.75 113.64 L242.00 115.37 L242.25 115.61 L242.50 114.35 L242.75 111.65 L243.00 107.61 L243.25 102.42 L243.50 95.74 L243.75 89.17 L244.00 82.22 L244.25 75.20 L244.50 68.41 L244.75 62.13 L245.00 56.64 L245.25 52.17 L245.50 48.91 L245.75 47.00 L246.00 46.52 L246.25 47.50 L246.50 49.88 L246.75 53.58 L247.00 58.43 L247.25 64.22 L247.50 70.70 L247.75 77.61 L248.00 84.64 L248.25 91.49 L248.50 97.87 L248.75 103.51 L249.00 108.17 L249.25 111.64 L249.50 113.78 L249.75 114.50 L250.00 113.77 L250.25 111.61 L250.50 108.12 L250.75 103.45 L251.00 97.80 L251.25 91.42 L251.50 84.56 L251.75 77.53 L252.00 70.63 L252.25 64.15 L252.50 58.37 L252.75 53.53 L253.00 49.85 L253.25 47.48 L253.50 46.52 L253.75 47.01 L254.00 48.94 L254.25 52.21 L254.50 56.69 L254.75 62.20 L255.00 68.48 L255.25 75.28 L255.50 82.30 L255.75 89.24 L256.00 95.81 L256.25 101.73 L256.50 106.74 L256.75 110.62 L257.00 113.22 L257.25 114.42 L257.50 114.17 L257.75 112.48 L258.00 109.42 L258.25 105.13 L258.50 99.78 L258.75 93.61 L259.00 86.88 L259.25 79.87 L259.50 72.90 L259.75 66.24 L260.00 60.20 L260.25 55.02 L260.50 50.94 L260.75 48.12 L261.00 46.68 L261.25 46.69 L261.50 48.14 L261.75 50.98 L262.00 55.08 L262.25 60.26 L262.50 66.31 L262.75 72.97 L263.00 79.95 L263.25 86.96 L263.50 93.68 L263.75 99.85 L264.00 105.18 L264.25 109.46 L264.50 112.51 L264.75 114.18 L265.00 114.42 L265.25 111.76 L265.50 109.26 L265.75 105.53 L266.00 100.73 L266.25 95.07 L266.50 88.79 L266.75 82.14 L267.00 75.43 L267.25 68.94 L267.50 62.94 L267.75 57.69 L268.00 53.42 L268.25 50.30 L268.50 48.48 L268.75 48.02 L269.00 48.95 L269.25 51.23 L269.50 54.77 L269.75 59.40 L270.00 64.93 L270.25 71.14 L270.50 77.74 L270.75 84.45 L271.00 91.00 L271.25 97.10 L271.50 102.50 L271.75 106.95 L272.00 110.27 L272.25 112.31 L272.50 113.00 L272.75 112.30 L273.00 110.24 L273.25 106.90 L273.50 102.44 L273.75 97.04 L274.00 90.93 L274.25 84.38 L274.50 77.66 L274.75 71.06 L275.00 64.87 L275.25 59.34 L275.50 54.72 L275.75 51.20 L276.00 48.94 L276.25 48.02 L276.50 48.49 L276.75 50.33 L277.00 53.46 L277.25 57.74 L277.50 63.00 L277.75 69.01 L278.00 75.51 L278.25 82.22 L278.50 88.86 L278.75 95.14 L279.00 100.79 L279.25 105.58 L279.50 109.29 L279.75 111.78 L280.00 112.93 L280.25 112.69 L280.50 111.07 L280.75 108.15 L281.00 104.04 L281.25 98.93 L281.50 93.03 L281.75 86.60 L282.00 79.90 L282.25 73.23 L282.50 66.87 L282.75 61.10 L283.00 56.15 L283.25 52.24 L283.50 49.54 L283.75 48.17 L284.00 48.18 L284.25 49.57 L284.50 52.28 L284.75 56.20 L285.00 61.16 L285.25 66.94 L285.50 73.30 L285.75 79.98 L286.00 86.67 L286.25 93.10 L286.50 98.99 L286.75 104.09 L287.00 106.74 L287.25 109.49 L287.50 111.01 L287.75 111.22 L288.00 110.12 L288.25 107.76 L288.50 104.22 L288.75 99.68 L289.00 94.31 L289.25 88.35 L289.50 82.06 L289.75 75.70 L290.00 69.55 L290.25 63.86 L290.50 58.88 L290.75 54.83 L291.00 51.88 L291.25 50.15 L291.50 49.72 L291.75 50.60 L292.00 52.77 L292.25 56.11 L292.50 60.50 L292.75 65.75 L293.00 71.62 L293.25 77.88 L293.50 84.25 L293.75 90.45 L294.00 96.24 L294.25 101.35 L294.50 105.56 L294.75 108.71 L295.00 110.65 L295.25 111.30 L295.50 110.63 L295.75 108.68 L296.00 105.52 L296.25 101.29 L296.50 96.18 L296.75 90.39 L297.00 84.18 L297.25 77.81 L297.50 71.56 L297.75 65.69 L298.00 60.45 L298.25 56.07 L298.50 52.73 L298.75 50.59 L299.00 49.72 L299.25 50.16 L299.50 51.91 L299.75 54.87 L300.00 58.94 L300.25 63.92 L300.50 69.61 L300.75 75.77 L301.00 82.13 L301.25 88.42 L301.50 94.37 L301.75 99.73 L302.00 104.27 L302.25 107.79 L302.50 110.14 L302.75 111.23 L303.00 111.00 L303.25 109.47 L303.50 106.70 L303.75 102.81 L304.00 97.97 L304.25 92.38 L304.50 86.28 L304.75 79.93 L305.00 73.61 L305.25 67.59 L305.50 62.11 L305.75 57.42 L306.00 53.72 L306.25 51.16 L306.50 49.86 L306.75 49.87 L307.00 51.19 L307.25 53.76 L307.50 57.47 L307.75 62.17 L308.00 67.65 L308.25 73.68 L308.50 80.00 L308.75 86.06 L309.00 91.86 L309.25 97.17 L309.50 101.77 L309.75 105.46 L310.00 108.08 L310.25 109.53 L310.50 109.73 L310.75 108.68 L311.00 106.43 L311.25 103.07 L311.50 98.74 L311.75 93.64 L312.00 87.97 L312.25 81.98 L312.50 75.93 L312.75 70.08 L313.00 64.67 L313.25 59.94 L313.50 56.08 L313.75 53.27 L314.00 51.63 L314.25 51.22 L314.50 52.06 L314.75 54.12 L315.00 57.30 L315.25 61.48 L315.50 66.47 L315.75 72.06 L316.00 78.01 L316.25 84.07 L316.50 89.97 L316.75 95.47 L317.00 100.33 L317.25 104.34 L317.50 107.34 L317.75 109.18 L318.00 109.80 L318.25 109.17 L318.50 107.31 L318.75 104.30 L319.00 100.28 L319.25 95.41 L319.50 89.91 L319.75 84.00 L320.00 77.94 L320.25 71.99 L320.50 66.41 L320.75 61.43 L321.00 57.26 L321.25 54.09 L321.50 52.04 L321.75 51.22 L322.00 51.64 L322.25 53.30 L322.50 56.12 L322.75 59.99 L323.00 64.73 L323.25 70.14 L323.50 76.00 L323.75 82.05 L324.00 88.03 L324.25 93.70 L324.50 98.79 L324.75 103.11 L325.00 106.46 L325.25 108.70 L325.50 109.73 L325.75 109.52 L326.00 108.06 L326.25 105.42 L326.50 101.72 L326.75 97.12 L327.00 91.80 L327.25 86.00 L327.50 79.96 L327.75 73.95 L328.00 68.21 L328.25 63.01 L328.50 58.55 L328.75 55.02 L329.00 52.59 L329.25 51.35 L329.50 51.36 L329.75 52.61 L330.00 55.06 L330.25 58.59 L330.50 64.19 L330.75 69.07 L331.00 74.43 L331.25 80.06 L331.50 85.70 L331.75 91.12 L332.00 96.09 L332.25 100.39 L332.50 103.84 L332.75 106.29 L333.00 107.64 L333.25 107.83 L333.50 106.85 L333.75 104.75 L334.00 101.60 L334.25 97.56 L334.50 92.78 L334.75 87.48 L335.00 81.89 L335.25 76.23 L335.50 70.75 L335.75 65.70 L336.00 61.27 L336.25 57.67 L336.50 55.04 L336.75 53.50 L337.00 53.12 L337.25 53.90 L337.50 55.83 L337.75 58.81 L338.00 62.71 L338.25 67.38 L338.50 72.60 L338.75 78.17 L339.00 83.83 L339.25 89.36 L339.50 94.50 L339.75 99.04 L340.00 102.80 L340.25 105.59 L340.50 107.32 L340.75 107.90 L341.00 107.31 L341.25 105.57 L341.50 102.76 L341.75 99.00 L342.00 94.45 L342.25 89.30 L342.50 83.77 L342.75 78.11 L343.00 72.54 L343.25 67.32 L343.50 62.66 L343.75 58.77 L344.00 55.80 L344.25 53.89 L344.50 53.12 L344.75 53.51 L345.00 55.06 L345.25 57.70 L345.50 61.32 L345.75 65.75 L346.00 70.81 L346.25 76.29 L346.50 81.95 L346.75 87.55 L347.00 92.84 L347.25 97.61 L347.50 101.64 L347.75 104.78 L348.00 106.87 L348.25 107.84 L348.50 107.63 L348.75 106.27 L349.00 103.81 L349.25 100.35 L349.50 96.04 L349.75 91.07 L350.00 85.64 L350.25 80.00 L350.50 74.37 L350.75 69.01 L351.00 64.14 L351.25 59.97 L351.50 56.68 L351.75 54.40 L352.00 55.73 L352.25 55.74 L352.50 56.80 L352.75 58.88 L353.00 61.88 L353.25 65.68 L353.50 70.11 L353.75 74.99 L354.00 80.10 L354.25 85.23 L354.50 90.15 L354.75 94.67 L355.00 98.58 L355.25 101.71 L355.50 103.94 L355.75 105.17 L356.00 105.34 L356.25 104.45 L356.50 102.53 L356.75 99.68 L357.00 96.00 L357.25 91.66 L357.50 86.85 L357.75 81.76 L358.00 76.62 L358.25 71.64 L358.50 67.05 L358.75 63.03 L359.00 59.75 L359.25 57.36 L359.50 55.97 L359.75 55.62 L360.00 56.33 L360.25 58.08 L360.50 60.78 L360.75 64.33 L361.00 68.57 L361.25 73.33 L361.50 78.38 L361.75 83.53 L362.00 88.55 L362.25 93.22 L362.50 97.35 L362.75 100.76 L363.00 103.31 L363.25 104.87 L363.50 105.40 L363.75 104.86 L364.00 103.28 L364.25 100.73 L364.50 97.31 L364.75 93.17 L365.00 88.49 L365.25 83.47 L365.50 78.33 L365.75 73.27 L366.00 68.52 L366.25 64.29 L366.50 60.75 L366.75 58.05 L367.00 56.32 L367.25 55.61 L367.50 55.97 L367.75 57.38 L368.00 59.78 L368.25 63.07 L368.50 67.10 L368.75 71.70 L369.00 76.68 L369.25 81.82 L369.50 86.90 L369.75 91.71 L370.00 96.05 L370.25 99.71 L370.50 102.56 L370.75 104.46 L371.00 105.34 L371.25 105.16 L371.50 103.92 L371.75 101.68 L372.00 98.54 L372.25 94.62 L372.50 90.10 L372.75 85.17 L373.00 80.04 L373.25 74.93 L373.50 70.06 L373.75 67.31 L374.00 63.94 L374.25 61.28 L374.50 59.45 L374.75 58.52 L375.00 58.52 L375.25 59.47 L375.50 61.31 L375.75 63.97 L376.00 67.35 L376.25 71.28 L376.50 75.61 L376.75 80.14 L377.00 84.70 L377.25 89.07 L377.50 93.08 L377.75 96.54 L378.00 99.33 L378.25 101.30 L378.50 102.39 L378.75 102.55 L379.00 101.76 L379.25 100.06 L379.50 97.52 L379.75 94.26 L380.00 90.41 L380.25 86.13 L380.50 81.62 L380.75 77.06 L381.00 72.64 L381.25 68.56 L381.50 64.99 L381.75 62.08 L382.00 59.97 L382.25 58.72 L382.50 58.41 L382.75 59.05 L383.00 60.60 L383.25 63.00 L383.50 66.15 L383.75 69.92 L384.00 74.13 L384.25 78.62 L384.50 83.19 L384.75 87.64 L385.00 91.79 L385.25 95.46 L385.50 98.48 L385.75 100.74 L386.00 102.13 L386.25 102.60 L386.50 102.12 L386.75 100.72 L387.00 98.45 L387.25 95.42 L387.50 91.75 L387.75 87.59 L388.00 83.14 L388.25 78.57 L388.50 74.08 L388.75 69.87 L389.00 66.11 L389.25 62.97 L389.50 60.58 L389.75 59.04 L390.00 58.41 L390.25 58.73 L390.50 59.98 L390.75 62.11 L391.00 65.03 L391.25 68.60 L391.50 72.69 L391.75 77.11 L392.00 81.67 L392.25 86.18 L392.50 90.45 L392.75 94.30 L393.00 97.55 L393.25 100.08 L393.50 101.77 L393.75 102.55 L394.00 102.39 L394.25 101.29 L394.50 99.30 L394.75 96.51 L395.00 93.03 L395.25 89.02 L395.50 84.36 L395.75 80.12 L396.00 75.89 L396.25 71.86 L396.50 68.20 L396.75 65.06 L397.00 62.59 L397.25 60.88 L397.50 60.01 L397.75 60.01 L398.00 60.89 L398.25 62.61 L398.50 65.10 L398.75 68.24 L399.00 71.91 L399.25 75.94 L399.50 80.17 L399.75 84.41 L400.00 88.49 L400.25 92.22 L400.50 95.45 L400.75 98.05 L401.00 99.89 L401.25 100.91 L401.50 101.05 L401.75 100.31 L402.00 98.73 L402.25 96.37 L402.50 93.33 L402.75 89.74 L403.00 85.75 L403.25 81.54 L403.50 77.29 L403.75 73.17 L404.00 69.37 L404.25 66.04 L404.50 63.33 L404.75 61.36 L405.00 60.20 L405.25 59.91 L405.50 60.50 L405.75 61.95 L406.00 64.19 L406.25 67.13 L406.50 70.63 L406.75 74.56 L407.00 78.75 L407.25 83.01 L407.50 87.16 L407.75 91.02 L408.00 94.44 L408.25 97.26 L408.50 99.37 L408.75 100.66 L409.00 101.10 L409.25 100.65 L409.50 99.35 L409.75 97.24 L410.00 94.41 L410.25 90.98 L410.50 87.11 L410.75 82.96 L411.00 78.70 L411.25 74.52 L411.50 70.59 L411.75 67.09 L412.00 64.16 L412.25 61.93 L412.50 60.49 L412.75 59.91 L413.00 60.21 L413.25 61.38 L413.50 63.36 L413.75 66.08 L414.00 69.41 L414.25 73.22 L414.50 77.34 L414.75 81.59 L415.00 85.80 L415.25 89.78 L415.50 93.36 L415.75 96.40 L416.00 98.75 L416.25 100.33 L416.50 101.05 L416.75 100.90 L417.00 99.88 L417.25 94.71 L417.50 92.60 L417.75 89.97 L418.00 86.94 L418.25 83.63 L418.50 80.19 L418.75 76.77 L419.00 73.50 L419.25 70.53 L419.50 67.99 L419.75 65.98 L420.00 64.59 L420.25 63.89 L420.50 63.89 L420.75 64.61 L421.00 66.00 L421.25 68.01 L421.50 70.56 L421.75 73.53 L422.00 76.80 L422.25 80.23 L422.50 83.67 L422.75 86.98 L423.00 90.00 L423.25 92.62 L423.50 94.73 L423.75 96.22 L424.00 97.04 L424.25 97.16 L424.50 96.56 L424.75 95.28 L425.00 93.36 L425.25 90.90 L425.50 87.99 L425.75 84.76 L426.00 81.35 L426.25 77.90 L426.50 74.56 L426.75 71.48 L427.00 68.78 L427.25 66.58 L427.50 64.98 L427.75 64.04 L428.00 63.81 L428.25 64.29 L428.50 65.46 L428.75 67.28 L429.00 69.66 L429.25 72.50 L429.50 75.69 L429.75 79.08 L430.00 82.53 L430.25 85.90 L430.50 89.03 L430.75 91.80 L431.00 94.09 L431.25 95.80 L431.50 96.85 L431.75 97.20 L432.00 96.84 L432.25 95.78 L432.50 94.07 L432.75 91.77 L433.00 89.00 L433.25 85.86 L433.50 82.49 L433.75 79.04 L434.00 75.65 L434.25 72.47 L434.50 69.63 L434.75 67.25 L435.00 65.45 L435.25 64.28 L435.50 63.81 L435.75 64.05 L436.00 65.00 L436.25 66.61 L436.50 68.81 L436.75 71.51 L437.00 74.60 L437.25 77.94 L437.50 81.38 L437.75 84.79 L438.00 88.02 L438.25 90.93 L438.50 93.39 L438.75 95.30 L439.00 93.40 L439.25 93.87 L439.50 93.77 L439.75 93.10 L440.00 91.90 L440.25 90.21 L440.50 88.10 L440.75 85.67 L441.00 83.01 L441.25 80.25 L441.50 77.50 L441.75 74.88 L442.00 72.50 L442.25 70.46 L442.50 68.85 L442.75 67.74 L443.00 67.17 L443.25 67.17 L443.50 67.75 L443.75 68.86 L444.00 70.48 L444.25 72.52 L444.50 74.91 L444.75 77.53 L445.00 80.28 L445.25 83.04 L445.50 85.70 L445.75 88.12 L446.00 90.23 L446.25 91.92 L446.50 93.11 L446.75 93.77 L447.00 93.87 L447.25 93.39 L447.50 92.36 L447.75 90.82 L448.00 88.84 L448.25 86.51 L448.50 83.92 L448.75 81.18 L449.00 78.41 L449.25 75.73 L449.50 73.26 L449.75 71.10 L450.00 69.33 L450.25 68.05 L450.50 67.30 L450.75 67.11 L451.00 67.49 L451.25 68.43 L451.50 69.89 L451.75 71.80 L452.00 74.08 L452.25 76.64 L452.50 79.36 L452.75 82.13 L453.00 84.83 L453.25 87.35 L453.50 89.57 L453.75 91.40 L454.00 92.77 L454.25 93.62 L454.50 93.90 L454.75 93.61 L455.00 92.76 L455.25 91.39 L455.50 89.55 L455.75 87.32 L456.00 84.80 L456.25 82.10 L456.50 79.33 L456.75 76.61 L457.00 74.06 L457.25 71.78 L457.50 69.87 L457.75 68.42 L458.00 67.49 L458.25 67.11 L458.50 67.30 L458.75 68.06 L459.00 69.35 L459.25 71.12 L459.50 73.29 L459.75 75.76 L460.00 78.44 L460.25 81.21 L460.50 83.95 L460.75 85.27 L461.00 87.12 L461.25 88.68 L461.50 89.89 L461.75 90.70 L462.00 91.08 L462.25 91.00 L462.50 90.47 L462.75 89.52 L463.00 88.18 L463.25 86.51 L463.50 84.59 L463.75 82.49 L464.00 80.30 L464.25 78.13 L464.50 76.06 L464.75 74.17 L465.00 72.56 L465.25 71.28 L465.50 70.40 L465.75 69.96 L466.00 69.96 L466.25 70.41 L466.50 71.30 L466.75 72.57 L467.00 74.19 L467.25 76.08 L467.50 78.15 L467.75 80.33 L468.00 82.51 L468.25 84.61 L468.50 86.53 L468.75 88.20 L469.00 89.53 L469.25 90.48 L469.50 91.00 L469.75 91.07 L470.00 90.69 L470.25 89.88 L470.50 88.66 L470.75 87.10 L471.00 85.25 L471.25 83.20 L471.50 81.04 L471.75 78.85 L472.00 76.73 L472.25 74.77 L472.50 73.06 L472.75 71.67 L473.00 70.65 L473.25 70.06 L473.50 69.91 L473.75 70.21 L474.00 70.96 L474.25 72.11 L474.50 73.62 L474.75 75.42 L475.00 77.45 L475.25 79.60 L475.50 81.79 L475.75 83.93 L476.00 85.92 L476.25 87.67 L476.50 89.13 L476.75 90.21 L477.00 90.88 L477.25 91.10 L477.50 90.87 L477.75 90.20 L478.00 89.11 L478.25 87.66 L478.50 85.89 L478.75 83.90 L479.00 81.77 L479.25 79.57 L479.50 77.42 L479.75 75.40 L480.00 73.60 L480.25 72.09 L480.50 70.94 L480.75 70.21 L481.00 69.91 L481.25 70.06 L481.50 70.66 L481.75 71.68 L482.00 73.08 L482.25 74.79 L482.50 77.53 L482.75 79.21 L483.00 80.94 L483.25 82.66 L483.50 84.28 L483.75 85.74 L484.00 86.98 L484.25 87.94 L484.50 88.58 L484.75 88.88 L485.00 88.82 L485.25 88.40 L485.50 87.65 L485.75 86.58 L486.00 85.26 L486.25 83.74 L486.50 82.08 L486.75 80.35 L487.00 78.62 L487.25 76.98 L487.50 75.48 L487.75 74.21 L488.00 73.20 L488.25 72.50 L488.50 72.14 L488.75 72.15 L489.00 72.51 L489.25 73.21 L489.50 74.22 L489.75 75.50 L490.00 77.00 L490.25 78.64 L490.50 80.36 L490.75 82.09 L491.00 83.76 L491.25 85.28 L491.50 86.60 L491.75 87.66 L492.00 88.41 L492.25 88.82 L492.50 88.88 L492.75 88.58 L493.00 87.93 L493.25 86.97 L493.50 85.73 L493.75 84.27 L494.00 82.64 L494.25 80.93 L494.50 79.19 L494.75 77.51 L495.00 75.96 L495.25 74.60 L495.50 73.50 L495.75 72.69 L496.00 72.22 L496.25 72.11 L496.50 72.35 L496.75 72.94 L497.00 73.85 L497.25 75.05 L497.50 76.48 L497.75 78.08 L498.00 79.79 L498.25 81.52 L498.50 83.21 L498.75 84.79 L499.00 86.19 L499.25 87.34 L499.50 88.19 L499.75 88.72 L500.00 88.90 L500.25 88.72 L500.50 88.19 L500.75 87.32 L501.00 86.17 L501.25 84.78 L501.50 83.20 L501.75 81.50 L502.00 79.77 L502.25 78.06 L502.50 76.46 L502.75 75.03 L503.00 73.84 L503.25 72.93 L503.50 72.34" stroke="#008000"/>
<path d="M48.50 82.62 L48.75 84.08 L49.00 85.38 L49.25 86.47 L49.50 87.31 L49.75 87.86 L50.00 88.09 L50.25 88.00 L50.50 87.59 L50.75 86.87 L51.00 85.88 L51.25 84.66 L51.50 83.27 L51.75 81.75 L52.00 80.19 L52.25 78.63 L52.50 77.16 L52.75 75.82 L53.00 74.69 L53.25 73.81 L53.50 73.21 L53.75 72.92 L54.00 72.96 L54.25 73.32 L54.50 73.99 L54.75 74.93 L55.00 76.12 L55.25 77.49 L55.50 78.99 L55.75 80.55 L56.00 82.11 L56.25 83.61 L56.50 84.97 L56.75 86.14 L57.00 87.06 L57.25 87.71 L57.50 88.05 L57.75 88.07 L58.00 87.76 L58.25 87.14 L58.50 86.24 L58.75 85.09 L59.00 83.75 L59.25 82.27 L59.50 80.71 L59.75 79.14 L60.00 77.63 L60.25 76.25 L60.50 75.04 L60.75 74.07 L61.00 73.38 L61.25 72.98 L61.50 72.91 L61.75 73.17 L62.00 73.73 L62.25 74.59 L62.50 75.70 L62.75 77.01 L63.00 78.48 L63.25 80.03 L63.50 81.60 L63.75 83.12 L64.00 84.53 L64.25 85.77 L64.50 86.78 L64.75 87.53 L65.00 87.97 L65.25 88.10 L65.50 87.90 L65.75 87.38 L66.00 86.57 L66.25 85.50 L66.50 84.22 L66.75 82.77 L67.00 81.23 L67.25 79.66 L67.50 78.13 L67.75 76.69 L68.00 75.42 L68.25 74.37 L68.50 73.57 L68.75 73.08 L69.00 72.90 L69.25 73.05 L69.50 73.51 L69.75 69.69 L70.00 71.48 L70.25 73.65 L70.50 76.12 L70.75 78.77 L71.00 81.50 L71.25 84.19 L71.50 86.71 L71.75 88.98 L72.00 90.88 L72.25 92.33 L72.50 93.28 L72.75 93.69 L73.00 93.53 L73.25 92.81 L73.50 91.57 L73.75 89.85 L74.00 87.73 L74.25 85.31 L74.50 82.68 L74.75 79.95 L75.00 77.25 L75.25 74.69 L75.50 72.38 L75.75 70.41 L76.00 68.88 L76.25 67.84 L76.50 67.34 L76.75 67.41 L77.00 68.03 L77.25 69.19 L77.50 70.83 L77.75 72.89 L78.00 75.27 L78.25 77.87 L78.50 80.59 L78.75 83.30 L79.00 85.90 L79.25 88.26 L79.50 90.29 L79.75 91.90 L80.00 93.03 L80.25 93.61 L80.50 93.64 L80.75 93.11 L81.00 92.04 L81.25 90.47 L81.50 88.48 L81.75 86.15 L82.00 83.57 L82.25 80.86 L82.50 78.14 L82.75 75.52 L83.00 73.11 L83.25 71.02 L83.50 69.34 L83.75 68.13 L84.00 67.45 L84.25 67.32 L84.50 67.76 L84.75 68.75 L85.00 70.24 L85.25 72.16 L85.50 74.45 L85.75 76.99 L86.00 79.68 L86.25 82.41 L86.50 85.05 L86.75 87.50 L87.00 89.65 L87.25 91.41 L87.50 92.71 L87.75 93.48 L88.00 93.70 L88.25 93.35 L88.50 92.45 L88.75 91.04 L89.00 89.18 L89.25 86.95 L89.50 84.45 L89.75 81.77 L90.00 79.04 L90.25 76.38 L90.50 73.89 L90.75 71.68 L91.00 69.85 L91.25 68.47 L91.50 63.12 L91.75 62.70 L92.00 63.04 L92.25 64.13 L92.50 65.92 L92.75 68.33 L93.00 71.27 L93.25 74.59 L93.50 78.17 L93.75 81.85 L94.00 85.47 L94.25 88.88 L94.50 91.93 L94.75 94.49 L95.00 96.46 L95.25 97.74 L95.50 98.28 L95.75 98.07 L96.00 97.10 L96.25 95.42 L96.50 93.11 L96.75 90.25 L97.00 86.98 L97.25 83.44 L97.50 79.76 L97.75 76.12 L98.00 72.67 L98.25 69.55 L98.50 66.90 L98.75 64.83 L99.00 63.43 L99.25 62.76 L99.50 62.85 L99.75 63.69 L100.00 65.25 L100.25 67.47 L100.50 70.24 L100.75 73.45 L101.00 76.96 L101.25 80.62 L101.50 84.28 L101.75 87.78 L102.00 90.96 L102.25 93.70 L102.50 95.87 L102.75 97.39 L103.00 98.18 L103.25 98.22 L103.50 97.50 L103.75 96.06 L104.00 93.95 L104.25 91.26 L104.50 88.11 L104.75 84.64 L105.00 80.99 L105.25 77.32 L105.50 73.79 L105.75 70.54 L106.00 67.72 L106.25 65.44 L106.50 63.81 L106.75 62.90 L107.00 62.73 L107.25 63.33 L107.50 64.65 L107.75 66.66 L108.00 69.26 L108.25 72.34 L108.50 75.76 L108.75 79.39 L109.00 83.07 L109.25 86.64 L109.50 89.94 L109.75 92.85 L110.00 95.22 L110.25 96.96 L110.50 98.00 L110.75 98.29 L111.00 97.83 L111.25 96.62 L111.50 94.72 L111.75 92.21 L112.00 89.20 L112.25 85.82 L112.50 82.22 L112.75 78.54 L113.00 74.94 L113.25 68.98 L113.50 65.13 L113.75 61.94 L114.00 59.54 L114.25 58.04 L114.50 57.50 L114.75 57.94 L115.00 59.35 L115.25 61.66 L115.50 64.78 L115.75 68.57 L116.00 72.87 L116.25 77.49 L116.50 82.25 L116.75 86.92 L117.00 91.33 L117.25 95.27 L117.50 98.58 L117.75 101.12 L118.00 102.77 L118.25 103.48 L118.50 103.20 L118.75 101.95 L119.00 99.78 L119.25 96.79 L119.50 93.10 L119.75 88.88 L120.00 84.29 L120.25 79.55 L120.50 74.84 L120.75 70.38 L121.00 66.35 L121.25 62.92 L121.50 60.25 L121.75 58.44 L122.00 57.57 L122.25 57.69 L122.50 58.78 L122.75 60.80 L123.00 63.66 L123.25 67.24 L123.50 71.39 L123.75 75.93 L124.00 80.66 L124.25 85.39 L124.50 89.90 L124.75 94.02 L125.00 97.56 L125.25 100.37 L125.50 102.32 L125.75 103.35 L126.00 103.40 L126.25 102.47 L126.50 100.60 L126.75 97.87 L127.00 94.40 L127.25 90.34 L127.50 85.85 L127.75 81.14 L128.00 76.39 L128.25 71.83 L128.50 67.63 L128.75 63.99 L129.00 61.05 L129.25 58.94 L129.50 57.75 L129.75 57.54 L130.00 58.31 L130.25 60.02 L130.50 62.62 L130.75 65.97 L131.00 69.95 L131.25 74.38 L131.50 79.07 L131.75 83.82 L132.00 88.43 L132.25 92.70 L132.50 96.45 L132.75 99.52 L133.00 101.77 L133.25 103.12 L133.50 103.49 L133.75 102.89 L134.00 101.32 L134.25 98.87 L134.50 95.63 L134.75 91.75 L135.00 88.88 L135.25 83.20 L135.50 77.41 L135.75 71.76 L136.00 66.47 L136.25 61.79 L136.50 57.90 L136.75 54.99 L137.00 53.16 L137.25 52.50 L137.50 53.04 L137.75 54.75 L138.00 57.57 L138.25 61.36 L138.50 65.97 L138.75 71.21 L139.00 76.84 L139.25 82.62 L139.50 88.32 L139.75 93.68 L140.00 98.48 L140.25 102.51 L140.50 105.60 L140.75 107.62 L141.00 108.47 L141.25 108.13 L141.50 106.61 L141.75 103.97 L142.00 100.33 L142.25 95.84 L142.50 90.70 L142.75 85.12 L143.00 79.34 L143.25 73.61 L143.50 68.18 L143.75 63.27 L144.00 59.10 L144.25 55.84 L144.50 53.64 L144.75 52.59 L145.00 52.73 L145.25 54.06 L145.50 56.51 L145.75 60.00 L146.00 64.36 L146.25 69.41 L146.50 74.93 L146.75 80.69 L147.00 86.45 L147.25 91.95 L147.50 96.96 L147.75 101.26 L148.00 104.68 L148.25 107.07 L148.50 108.32 L148.75 108.38 L149.00 107.25 L149.25 104.97 L149.50 101.65 L149.75 97.42 L150.00 92.47 L150.25 87.01 L150.50 81.27 L150.75 75.50 L151.00 69.94 L151.25 64.83 L151.50 60.40 L151.75 56.82 L152.00 54.25 L152.25 52.81 L152.50 52.55 L152.75 53.48 L153.00 55.57 L153.25 58.73 L153.50 62.82 L153.75 67.66 L154.00 73.05 L154.25 78.76 L154.50 84.55 L154.75 90.16 L155.00 95.36 L155.25 99.92 L155.50 103.65 L155.75 106.40 L156.00 108.03 L156.25 108.49 L156.50 113.01 L156.75 110.74 L157.00 107.18 L157.25 102.48 L157.50 96.83 L157.75 90.49 L158.00 83.72 L158.25 76.82 L158.50 70.07 L158.75 63.77 L159.00 58.18 L159.25 53.55 L159.50 50.07 L159.75 47.89 L160.00 47.10 L160.25 47.74 L160.50 49.79 L160.75 53.14 L161.00 57.67 L161.25 63.17 L161.50 69.41 L161.75 76.13 L162.00 83.03 L162.25 89.83 L162.50 96.23 L162.75 101.95 L163.00 106.76 L163.25 110.44 L163.50 112.84 L163.75 113.87 L164.00 113.46 L164.25 111.65 L164.50 108.50 L164.75 104.16 L165.00 98.80 L165.25 92.67 L165.50 86.01 L165.75 79.12 L166.00 72.28 L166.25 65.80 L166.50 59.95 L166.75 54.97 L167.00 51.09 L167.25 48.46 L167.50 47.21 L167.75 47.37 L168.00 48.96 L168.25 51.89 L168.50 56.04 L168.75 61.24 L169.00 67.27 L169.25 73.86 L169.50 80.73 L169.75 87.59 L170.00 94.16 L170.25 100.13 L170.50 105.27 L170.75 109.35 L171.00 112.19 L171.25 113.68 L171.50 113.76 L171.75 112.40 L172.00 109.69 L172.25 105.73 L172.50 100.69 L172.75 94.78 L173.00 88.27 L173.25 81.42 L173.50 74.54 L173.75 67.91 L174.00 61.81 L174.25 56.52 L174.50 52.25 L174.75 49.19 L175.00 47.47 L175.25 47.16 L175.50 48.27 L175.75 50.77 L176.00 54.53 L176.25 59.41 L176.50 65.18 L176.75 71.61 L177.00 78.43 L177.25 85.33 L177.50 92.02 L177.75 98.22 L178.00 103.66 L178.25 112.42 L178.50 116.20 L178.75 118.46 L179.00 119.09 L179.25 118.07 L179.50 115.45 L179.75 111.33 L180.00 105.90 L180.25 99.38 L180.50 92.05 L180.75 84.23 L181.00 76.24 L181.25 68.45 L181.50 61.16 L181.75 54.70 L182.00 49.35 L182.25 45.33 L182.50 42.81 L182.75 41.90 L183.00 42.64 L183.25 45.01 L183.50 48.88 L183.75 54.12 L184.00 60.47 L184.25 67.69 L184.50 75.45 L184.75 83.43 L185.00 91.28 L185.25 98.67 L185.50 105.29 L185.75 110.84 L186.00 115.10 L186.25 117.88 L186.50 119.06 L186.75 118.59 L187.00 116.50 L187.25 112.86 L187.50 107.84 L187.75 101.65 L188.00 94.56 L188.25 86.87 L188.50 78.90 L188.75 71.00 L189.00 63.51 L189.25 56.75 L189.50 51.00 L189.75 46.51 L190.00 43.47 L190.25 42.02 L190.50 42.21 L190.75 44.04 L191.00 47.43 L191.25 52.23 L191.50 58.24 L191.75 65.21 L192.00 72.82 L192.25 80.77 L192.50 88.70 L192.75 96.28 L193.00 103.19 L193.25 109.13 L193.50 113.84 L193.75 117.13 L194.00 118.85 L194.25 118.93 L194.50 117.37 L194.75 114.24 L195.00 109.66 L195.25 103.83 L195.50 97.01 L195.75 89.48 L196.00 81.57 L196.25 73.61 L196.50 65.94 L196.75 58.90 L197.00 52.78 L197.25 47.85 L197.50 44.31 L197.75 42.32 L198.00 41.97 L198.25 43.26 L198.50 46.14 L198.75 50.49 L199.00 56.12 L199.25 62.80 L199.50 70.23 L199.75 78.10 L200.00 85.83 L200.25 93.23 L200.50 100.08 L200.75 106.09 L201.00 111.01 L201.25 114.63 L201.50 116.78 L201.75 117.39 L202.00 116.42 L202.25 113.91 L202.50 109.97 L202.75 104.78 L203.00 98.54 L203.25 91.54 L203.50 84.06 L203.75 76.43 L204.00 68.98 L204.25 62.01 L204.50 55.84 L204.75 50.72 L205.00 46.88 L205.25 44.47 L205.50 43.60 L205.75 44.31 L206.00 46.57 L206.25 50.28 L206.50 55.28 L206.75 61.36 L207.00 68.25 L207.25 75.67 L207.50 83.30 L207.75 90.81 L208.00 97.87 L208.25 104.20 L208.50 109.51 L208.75 113.58 L209.00 116.23 L209.25 117.36 L209.50 116.92 L209.75 114.91 L210.00 111.44 L210.25 106.64 L210.50 100.72 L210.75 93.94 L211.00 86.59 L211.25 78.97 L211.50 71.42 L211.75 64.26 L212.00 57.79 L212.25 52.30 L212.50 48.01 L212.75 45.10 L213.00 43.72 L213.25 43.90 L213.50 45.65 L213.75 48.89 L214.00 53.48 L214.25 59.23 L214.50 65.88 L214.75 73.16 L215.00 80.75 L215.25 88.34 L215.50 95.59 L215.75 102.19 L216.00 107.87 L216.25 112.37 L216.50 115.51 L216.75 117.16 L217.00 117.24 L217.25 115.75 L217.50 112.75 L217.75 108.37 L218.00 102.80 L218.25 96.28 L218.50 89.08 L218.75 81.52 L219.00 73.91 L219.25 66.59 L219.50 59.85 L219.75 54.01 L220.00 49.29 L220.25 45.91 L220.50 44.01 L220.75 43.66 L221.00 44.90 L221.25 47.65 L221.50 51.81 L221.75 58.27 L222.00 64.36 L222.25 71.14 L222.50 78.31 L222.75 85.59 L223.00 92.64 L223.25 99.18 L223.50 104.91 L223.75 109.61 L224.00 113.06 L224.25 115.11 L224.50 115.69 L224.75 114.76 L225.00 112.37 L225.25 108.62 L225.50 103.66 L225.75 97.71 L226.00 91.03 L226.25 83.90 L226.50 76.62 L226.75 69.51 L227.00 62.86 L227.25 56.98 L227.50 52.09 L227.75 48.43 L228.00 46.13 L228.25 45.30 L228.50 45.98 L228.75 48.13 L229.00 51.67 L229.25 56.44 L229.50 62.24 L229.75 68.82 L230.00 75.90 L230.25 83.17 L230.50 90.33 L230.75 97.07 L231.00 103.11 L231.25 108.17 L231.50 112.05 L231.75 114.59 L232.00 115.66 L232.25 115.24 L232.50 113.33 L232.75 110.01 L233.00 105.43 L233.25 99.79 L233.50 93.32 L233.75 86.31 L234.00 79.04 L234.25 71.84 L234.50 65.01 L234.75 58.84 L235.00 53.60 L235.25 49.50 L235.50 46.74 L235.75 45.41 L236.00 45.59 L236.25 47.26 L236.50 50.35 L236.75 54.72 L237.00 60.21 L237.25 66.55 L237.50 73.50 L237.75 80.74 L238.00 87.98 L238.25 94.89 L238.50 101.19 L238.75 106.60 L239.00 110.90 L239.25 113.90 L239.50 115.47 L239.75 115.55 L240.00 114.12 L240.25 111.26 L240.50 107.09 L240.75 101.78 L241.00 95.55 L241.25 88.69 L241.50 81.47 L241.75 74.21 L242.00 67.23 L242.25 60.81 L242.50 55.23 L242.75 50.73 L243.00 47.50 L243.25 45.69 L243.50 46.56 L243.75 47.69 L244.00 50.23 L244.25 54.06 L244.50 59.03 L244.75 64.91 L245.00 71.45 L245.25 78.39 L245.50 85.41 L245.75 92.23 L246.00 98.54 L246.25 104.08 L246.50 108.61 L246.75 111.95 L247.00 113.93 L247.25 114.49 L247.50 113.59 L247.75 111.28 L248.00 107.66 L248.25 102.87 L248.50 97.13 L248.75 90.67 L249.00 83.78 L249.25 76.75 L249.50 69.88 L249.75 63.47 L250.00 57.78 L250.25 53.06 L250.50 49.52 L250.75 47.30 L251.00 46.50 L251.25 47.16 L251.50 49.24 L251.75 52.65 L252.00 57.26 L252.25 62.86 L252.50 69.22 L252.75 76.05 L253.00 83.08 L253.25 90.00 L253.50 96.51 L253.75 102.33 L254.00 107.23 L254.25 110.98 L254.50 113.43 L254.75 114.47 L255.00 114.05 L255.25 112.21 L255.50 109.00 L255.75 104.58 L256.00 99.13 L256.25 92.89 L256.50 86.11 L256.75 79.09 L257.00 72.14 L257.25 65.54 L257.50 59.58 L257.75 54.51 L258.00 50.56 L258.25 47.89 L258.50 46.61 L258.75 46.78 L259.00 48.39 L259.25 51.37 L259.50 55.60 L259.75 60.90 L260.00 67.03 L260.25 73.74 L260.50 80.73 L260.75 87.72 L261.00 94.40 L261.25 100.48 L261.50 105.71 L261.75 109.87 L262.00 112.76 L262.25 114.28 L262.50 114.35 L262.75 112.98 L263.00 110.21 L263.25 106.18 L263.50 101.05 L263.75 95.04 L264.00 88.41 L264.25 81.44 L264.50 74.43 L264.75 67.68 L265.00 61.48 L265.25 57.16 L265.50 53.01 L265.75 50.03 L266.00 48.36 L266.25 48.06 L266.50 49.14 L266.75 51.57 L267.00 55.23 L267.25 59.97 L267.50 65.60 L267.75 71.85 L268.00 78.48 L268.25 85.20 L268.50 91.71 L268.75 97.74 L269.00 103.04 L269.25 107.37 L269.50 110.56 L269.75 112.46 L270.00 112.99 L270.25 112.13 L270.50 109.93 L270.75 106.46 L271.00 101.88 L271.25 96.39 L271.50 90.22 L271.75 83.64 L272.00 76.92 L272.25 70.35 L272.50 64.22 L272.75 58.78 L273.00 54.27 L273.25 50.89 L273.50 48.77 L273.75 48.00 L274.00 48.63 L274.25 50.62 L274.50 53.88 L274.75 58.28 L275.00 63.64 L275.25 69.71 L275.50 76.25 L275.75 82.97 L276.00 89.58 L276.25 95.80 L276.50 101.37 L276.75 106.05 L277.00 109.63 L277.25 111.97 L277.50 112.97 L277.75 112.57 L278.00 110.81 L278.25 107.75 L278.50 103.52 L278.75 98.31 L279.00 92.34 L279.25 85.86 L279.50 79.15 L279.75 72.50 L280.00 66.20 L280.25 60.50 L280.50 55.66 L280.75 51.88 L281.00 49.33 L281.25 48.10 L281.50 48.26 L281.75 49.81 L282.00 52.66 L282.25 56.70 L282.50 61.76 L282.75 67.62 L283.00 74.04 L283.25 80.72 L283.50 87.40 L283.75 93.79 L284.00 99.60 L284.25 104.60 L284.50 108.57 L284.75 111.34 L285.00 112.79 L285.25 112.86 L285.50 111.55 L285.75 108.90 L286.00 105.05 L286.25 100.14 L286.50 94.40 L286.75 88.06 L287.00 81.35 L287.25 75.00 L287.50 68.89 L287.75 63.27 L288.00 58.39 L288.25 54.45 L288.50 51.63 L288.75 50.04 L289.00 49.75 L289.25 50.78 L289.50 53.08 L289.75 56.55 L290.00 61.05 L290.25 66.38 L290.50 72.31 L290.75 78.59 L291.00 84.95 L291.25 91.12 L291.50 96.84 L291.75 101.86 L292.00 105.97 L292.25 108.99 L292.50 110.79 L292.75 111.29 L293.00 110.48 L293.25 108.39 L293.50 105.10 L293.75 100.76 L294.00 95.56 L294.25 89.71 L294.50 83.47 L294.75 77.10 L295.00 70.88 L295.25 65.07 L295.50 59.92 L295.75 55.64 L296.00 52.44 L296.25 50.43 L296.50 49.70 L296.75 50.29 L297.00 52.18 L297.25 55.27 L297.50 59.45 L297.75 64.52 L298.00 70.28 L298.25 76.47 L298.50 82.84 L298.75 89.10 L299.00 95.00 L299.25 100.28 L299.50 104.71 L299.75 108.11 L300.00 110.33 L300.25 111.27 L300.50 110.90 L300.75 109.22 L301.00 106.32 L301.25 102.32 L301.50 97.38 L301.75 91.72 L302.00 85.58 L302.25 79.22 L302.50 72.92 L302.75 66.95 L303.00 61.55 L303.25 56.96 L303.50 53.38 L303.75 50.96 L304.00 49.80 L304.25 49.95 L304.50 51.41 L304.75 54.11 L305.00 57.95 L305.25 62.74 L305.50 68.30 L305.75 74.37 L306.00 80.71 L306.25 87.04 L306.50 93.09 L306.75 98.60 L307.00 103.34 L307.25 107.10 L307.50 109.73 L307.75 111.10 L308.00 111.17 L308.25 109.92 L308.50 107.42 L308.75 102.63 L309.00 98.21 L309.25 93.03 L309.50 87.32 L309.75 81.31 L310.00 75.27 L310.25 69.45 L310.50 64.11 L310.75 59.46 L311.00 55.72 L311.25 53.03 L311.50 51.52 L311.75 51.25 L312.00 52.23 L312.25 54.42 L312.50 57.72 L312.75 62.00 L313.00 67.06 L313.25 72.71 L313.50 78.68 L313.75 84.73 L314.00 90.61 L314.25 96.05 L314.50 100.82 L314.75 104.73 L315.00 107.60 L315.25 109.31 L315.50 109.79 L315.75 109.02 L316.00 107.03 L316.25 103.90 L316.50 99.78 L316.75 94.83 L317.00 89.27 L317.25 83.33 L317.50 77.27 L317.75 71.35 L318.00 65.82 L318.25 60.92 L318.50 56.86 L318.75 53.80 L319.00 51.89 L319.25 51.20 L319.50 51.77 L319.75 53.56 L320.00 56.50 L320.25 60.47 L320.50 65.30 L320.75 70.78 L321.00 76.67 L321.25 82.72 L321.50 88.68 L321.75 94.30 L322.00 99.32 L322.25 103.53 L322.50 106.77 L322.75 108.87 L323.00 109.77 L323.25 109.42 L323.50 107.82 L323.75 105.06 L324.00 101.25 L324.25 96.56 L324.50 91.17 L324.75 85.33 L325.00 79.29 L325.25 73.29 L325.50 67.61 L325.75 62.47 L326.00 58.11 L326.25 54.70 L326.50 52.39 L326.75 51.29 L327.00 51.44 L327.25 52.83 L327.50 55.40 L327.75 59.04 L328.00 63.61 L328.25 68.89 L328.50 74.67 L328.75 80.70 L329.00 86.72 L329.25 92.48 L329.50 97.72 L329.75 102.23 L330.00 105.81 L330.25 108.30 L330.50 107.72 L330.75 107.78 L331.00 106.67 L331.25 104.45 L331.50 101.20 L331.75 97.06 L332.00 92.22 L332.25 86.87 L332.50 81.26 L332.75 75.61 L333.00 70.17 L333.25 65.17 L333.50 60.83 L333.75 57.32 L334.00 54.81 L334.25 53.40 L334.50 53.15 L334.75 54.06 L335.00 56.11 L335.25 59.20 L335.50 63.20 L335.75 67.93 L336.00 73.21 L336.25 78.80 L336.50 84.46 L336.75 89.95 L337.00 95.04 L337.25 99.50 L337.50 103.16 L337.75 105.84 L338.00 107.44 L338.25 107.89 L338.50 107.17 L338.75 105.31 L339.00 102.39 L339.25 98.53 L339.50 93.90 L339.75 88.70 L340.00 83.14 L340.25 77.48 L340.50 71.94 L340.75 66.77 L341.00 62.19 L341.25 58.39 L341.50 55.53 L341.75 53.75 L342.00 53.10 L342.25 53.63 L342.50 55.30 L342.75 58.06 L343.00 61.77 L343.25 66.28 L343.50 71.41 L343.75 76.92 L344.00 82.58 L344.25 88.15 L344.50 93.40 L344.75 98.10 L345.00 102.04 L345.25 105.06 L345.50 107.03 L345.75 107.87 L346.00 107.54 L346.25 106.05 L346.50 103.47 L346.75 99.91 L347.00 95.52 L347.25 90.48 L347.50 85.02 L347.75 79.37 L348.00 73.76 L348.25 68.44 L348.50 63.64 L348.75 59.56 L349.00 56.37 L349.25 54.22 L349.50 53.19 L349.75 53.32 L350.00 54.62 L350.25 57.03 L350.50 60.44 L350.75 64.70 L351.00 69.64 L351.25 75.05 L351.50 80.69 L351.75 86.32 L352.00 90.68 L352.25 95.14 L352.50 98.97 L352.75 102.01 L353.00 104.13 L353.25 105.24 L353.50 105.29 L353.75 104.29 L354.00 102.26 L354.25 99.31 L354.50 95.55 L354.75 91.15 L355.00 86.29 L355.25 81.19 L355.50 76.05 L355.75 71.11 L356.00 66.57 L356.25 62.62 L356.50 59.44 L356.75 57.16 L357.00 55.87 L357.25 55.64 L357.50 56.47 L357.75 58.33 L358.00 61.14 L358.25 64.77 L358.50 69.08 L358.75 73.88 L359.00 78.95 L359.25 84.10 L359.50 89.09 L359.75 93.71 L360.00 97.77 L360.25 101.09 L360.50 103.53 L360.75 104.98 L361.00 105.39 L361.25 104.74 L361.50 103.04 L361.75 100.39 L362.00 96.88 L362.25 92.68 L362.50 87.95 L362.75 82.90 L363.00 77.75 L363.25 72.72 L363.50 68.03 L363.75 63.86 L364.00 60.41 L364.25 57.81 L364.50 56.19 L364.75 55.60 L365.00 56.08 L365.25 57.60 L365.50 60.11 L365.75 63.48 L366.00 67.58 L366.25 72.24 L366.50 77.24 L366.75 82.39 L367.00 87.46 L367.25 92.22 L367.50 96.49 L367.75 100.07 L368.00 102.82 L368.25 104.61 L368.50 105.37 L368.75 105.07 L369.00 103.72 L369.25 101.38 L369.50 98.14 L369.75 94.15 L370.00 89.57 L370.25 84.61 L370.50 79.47 L370.75 74.37 L371.00 69.54 L371.25 65.18 L371.50 61.47 L371.75 58.57 L372.00 56.62 L372.25 55.68 L372.50 55.80 L372.75 56.98 L373.00 59.17 L373.25 62.27 L373.50 66.14 L373.75 71.74 L374.00 76.10 L374.25 80.65 L374.50 85.19 L374.75 89.54 L375.00 93.49 L375.25 96.89 L375.50 99.59 L375.75 101.47 L376.00 102.46 L376.25 102.50 L376.50 101.61 L376.75 99.81 L377.00 97.19 L377.25 93.86 L377.50 89.95 L377.75 85.64 L378.00 81.11 L378.25 76.55 L378.50 72.17 L378.75 68.13 L379.00 64.63 L379.25 61.81 L379.50 59.78 L379.75 58.64 L380.00 58.44 L380.25 59.18 L380.50 60.83 L380.75 63.32 L381.00 66.54 L381.25 70.36 L381.50 74.62 L381.75 79.13 L382.00 83.69 L382.25 88.12 L382.50 92.23 L382.75 95.83 L383.00 98.77 L383.25 100.94 L383.50 102.23 L383.75 102.59 L384.00 102.01 L384.25 100.51 L384.50 98.15 L384.75 95.04 L385.00 91.31 L385.25 87.11 L385.50 82.63 L385.75 78.06 L386.00 73.60 L386.25 69.43 L386.50 65.73 L386.75 62.67 L387.00 60.36 L387.25 58.92 L387.50 58.40 L387.75 58.83 L388.00 60.18 L388.25 62.40 L388.50 65.39 L388.75 69.03 L389.00 73.16 L389.25 77.61 L389.50 82.18 L389.75 86.67 L390.00 90.91 L390.25 94.69 L390.50 97.87 L390.75 100.31 L391.00 101.90 L391.25 102.58 L391.50 102.31 L391.75 101.11 L392.00 99.03 L392.25 96.15 L392.50 92.61 L392.75 88.55 L393.00 84.15 L393.25 79.58 L393.50 75.06 L393.75 70.77 L394.00 66.90 L394.25 63.61 L394.50 61.04 L394.75 59.30 L395.00 58.47 L395.25 58.58 L395.50 61.04 L395.75 62.85 L396.00 65.42 L396.25 68.62 L396.50 72.34 L396.75 76.40 L397.00 80.64 L397.25 84.88 L397.50 88.92 L397.75 92.61 L398.00 95.78 L398.25 98.29 L398.50 100.05 L398.75 100.97 L399.00 101.01 L399.25 100.18 L399.50 98.50 L399.75 96.06 L400.00 92.95 L400.25 89.31 L400.50 85.29 L400.75 81.07 L401.00 76.82 L401.25 72.73 L401.50 68.97 L401.75 65.71 L402.00 63.08 L402.25 61.19 L402.50 60.13 L402.75 59.94 L403.00 60.62 L403.25 62.16 L403.50 64.48 L403.75 67.49 L404.00 71.05 L404.25 75.02 L404.50 79.22 L404.75 83.48 L405.00 87.60 L405.25 91.43 L405.50 94.79 L405.75 97.53 L406.00 99.55 L406.25 100.76 L406.50 101.09 L406.75 100.55 L407.00 99.15 L407.25 96.95 L407.50 94.05 L407.75 90.57 L408.00 86.66 L408.25 82.49 L408.50 78.23 L408.75 74.07 L409.00 70.18 L409.25 66.73 L409.50 63.88 L409.75 61.73 L410.00 60.39 L410.25 59.90 L410.50 60.30 L410.75 61.56 L411.00 63.63 L411.25 66.42 L411.50 69.81 L411.75 73.66 L412.00 77.81 L412.25 82.06 L412.50 86.25 L412.75 90.20 L413.00 93.73 L413.25 96.69 L413.50 98.97 L413.75 100.45 L414.00 101.08 L414.25 100.83 L414.50 99.71 L414.75 97.77 L415.00 95.09 L415.25 91.79 L415.50 88.00 L415.75 83.90 L416.00 79.65 L416.25 75.43 L416.50 71.43 L416.75 67.82 L417.00 64.76 L417.25 65.79 L417.50 64.48 L417.75 63.85 L418.00 63.94 L418.25 64.73 L418.50 66.19 L418.75 68.27 L419.00 70.87 L419.25 73.88 L419.50 77.18 L419.75 80.62 L420.00 84.05 L420.25 87.33 L420.50 90.32 L420.75 92.88 L421.00 94.92 L421.25 96.35 L421.50 97.09 L421.75 97.13 L422.00 96.45 L422.25 95.10 L422.50 93.11 L422.75 90.59 L423.00 87.64 L423.25 84.38 L423.50 80.96 L423.75 77.52 L424.00 74.20 L424.25 71.16 L424.50 68.51 L424.75 66.38 L425.00 64.84 L425.25 63.98 L425.50 63.83 L425.75 64.39 L426.00 65.63 L426.25 67.52 L426.50 69.95 L426.75 72.84 L427.00 76.06 L427.25 79.46 L427.50 82.91 L427.75 86.26 L428.00 89.36 L428.25 92.08 L428.50 94.31 L428.75 95.95 L429.00 96.92 L429.25 97.20 L429.50 96.76 L429.75 95.62 L430.00 93.84 L430.25 91.49 L430.50 88.67 L430.75 85.50 L431.00 82.11 L431.25 78.66 L431.50 75.28 L431.75 72.13 L432.00 69.34 L432.25 67.02 L432.50 65.28 L432.75 64.19 L433.00 63.80 L433.25 64.12 L433.50 65.14 L433.75 66.82 L434.00 69.08 L434.25 71.84 L434.50 74.96 L434.75 78.32 L435.00 81.77 L435.25 85.16 L435.50 88.36 L435.75 91.22 L436.00 93.63 L436.25 95.47 L436.50 96.67 L436.75 97.18 L437.00 96.98 L437.25 96.07 L437.50 94.50 L437.75 92.33 L438.00 89.65 L438.25 86.58 L438.50 83.25 L438.75 79.81 L439.00 77.20 L439.25 74.60 L439.50 72.25 L439.75 70.26 L440.00 68.70 L440.25 67.65 L440.50 67.14 L440.75 67.21 L441.00 67.84 L441.25 69.02 L441.50 70.69 L441.75 72.77 L442.00 75.19 L442.25 77.83 L442.50 80.59 L442.75 83.35 L443.00 85.98 L443.25 88.38 L443.50 90.44 L443.75 92.07 L444.00 93.22 L444.25 93.81 L444.50 93.84 L444.75 93.30 L445.00 92.21 L445.25 90.62 L445.50 88.60 L445.75 86.23 L446.00 83.62 L446.25 80.87 L446.50 78.11 L446.75 75.45 L447.00 73.00 L447.25 70.88 L447.50 69.17 L447.75 67.94 L448.00 67.25 L448.25 67.12 L448.50 67.57 L448.75 68.57 L449.00 70.08 L449.25 72.04 L449.50 74.35 L449.75 76.94 L450.00 79.67 L450.25 82.44 L450.50 85.12 L450.75 87.61 L451.00 89.79 L451.25 91.58 L451.50 92.89 L451.75 93.68 L452.00 93.90 L452.25 93.54 L452.50 92.63 L452.75 91.20 L453.00 89.32 L453.25 87.05 L453.50 84.51 L453.75 81.79 L454.00 79.02 L454.25 76.32 L454.50 73.79 L454.75 71.55 L455.00 69.69 L455.25 68.29 L455.50 67.42 L455.75 67.10 L456.00 67.36 L456.25 68.18 L456.50 69.52 L456.75 71.34 L457.00 73.55 L457.25 76.05 L457.50 78.75 L457.75 81.52 L458.00 84.24 L458.25 86.81 L458.50 89.11 L458.75 91.03 L459.00 92.51 L459.25 93.48 L459.50 93.89 L459.75 93.72 L460.00 93.00 L460.25 91.73 L460.50 89.99 L460.75 86.31 L461.00 84.36 L461.25 82.25 L461.50 80.06 L461.75 77.89 L462.00 75.84 L462.25 73.98 L462.50 72.40 L462.75 71.17 L463.00 70.33 L463.25 69.93 L463.50 69.99 L463.75 70.49 L464.00 71.42 L464.25 72.74 L464.50 74.39 L464.75 76.30 L465.00 78.39 L465.25 80.57 L465.50 82.75 L465.75 84.83 L466.00 86.73 L466.25 88.36 L466.50 89.66 L466.75 90.56 L467.00 91.03 L467.25 91.05 L467.50 90.63 L467.75 89.76 L468.00 88.51 L468.25 86.91 L468.50 85.03 L468.75 82.97 L469.00 80.79 L469.25 78.61 L469.50 76.50 L469.75 74.57 L470.00 72.89 L470.25 71.53 L470.50 70.56 L470.75 70.02 L471.00 69.92 L471.25 70.27 L471.50 71.06 L471.75 72.26 L472.00 73.81 L472.25 75.64 L472.50 77.68 L472.75 79.84 L473.00 82.03 L473.25 84.16 L473.50 86.12 L473.75 87.85 L474.00 89.26 L474.25 90.30 L474.50 90.92 L474.75 91.10 L475.00 90.82 L475.25 90.10 L475.50 88.97 L475.75 87.47 L476.00 85.68 L476.25 83.67 L476.50 81.52 L476.75 79.33 L477.00 77.19 L477.25 75.19 L477.50 73.42 L477.75 71.95 L478.00 70.84 L478.25 70.15 L478.50 69.90 L478.75 70.10 L479.00 70.75 L479.25 71.82 L479.50 73.25 L479.75 75.00 L480.00 76.98 L480.25 79.11 L480.50 81.30 L480.75 83.46 L481.00 85.49 L481.25 87.31 L481.50 88.83 L481.75 90.00 L482.00 90.77 L482.25 91.09 L482.50 88.79 L482.75 88.33 L483.00 87.54 L483.25 86.45 L483.50 85.10 L483.75 83.56 L484.00 81.89 L484.25 80.15 L484.50 78.43 L484.75 76.80 L485.00 75.33 L485.25 74.08 L485.50 73.10 L485.75 72.44 L486.00 72.13 L486.25 72.17 L486.50 72.57 L486.75 73.30 L487.00 74.35 L487.25 75.66 L487.50 77.17 L487.75 78.83 L488.00 80.56 L488.25 82.28 L488.50 83.93 L488.75 85.44 L489.00 86.73 L489.25 87.76 L489.50 88.47 L489.75 88.85 L490.00 88.86 L490.25 88.52 L490.50 87.84 L490.75 86.84 L491.00 85.58 L491.25 84.09 L491.50 82.45 L491.75 80.73 L492.00 79.00 L492.25 77.33 L492.50 75.80 L492.75 74.47 L493.00 73.40 L493.25 72.63 L493.50 72.19 L493.75 72.11 L494.00 72.40 L494.25 73.02 L494.50 73.97 L494.75 75.19 L495.00 76.65 L495.25 78.27 L495.50 79.98 L495.75 81.71 L496.00 83.40 L496.25 84.96 L496.50 86.33 L496.75 87.45 L497.00 88.27 L497.25 88.76 L497.50 88.90 L497.75 88.68 L498.00 88.11 L498.25 87.21 L498.50 86.03 L498.75 84.61 L499.00 83.01 L499.25 81.31 L499.50 79.57 L499.75 77.88 L500.00 76.29 L500.25 74.89 L500.50 73.72 L500.75 72.85 L501.00 72.30 L501.25 72.10 L501.50 72.26 L501.75 72.78 L502.00 73.62 L502.25 74.76 L502.50 76.14 L502.75 77.71 L503.00 79.40 L503.25 81.14 L503.50 82.85" stroke="#ff0000"/>
</g>
<line x1="48.5" y1="80.5" x2="503.5" y2="80.5" stroke="#0a0a0a" stroke-width="1"/>
<line x1="124.3" y1="38.0" x2="124.3" y2="44.0" stroke="#222" stroke-width="1"/>
<line x1="124.3" y1="118.5" x2="124.3" y2="127.5" stroke="#222" stroke-width="1"/>
<line x1="200.2" y1="38.0" x2="200.2" y2="44.0" stroke="#222" stroke-width="1"/>
<line x1="200.2" y1="118.5" x2="200.2" y2="127.5" stroke="#222" stroke-width="1"/>
<line x1="276.0" y1="38.0" x2="276.0" y2="44.0" stroke="#222" stroke-width="1"/>
<line x1="276.0" y1="118.5" x2="276.0" y2="127.5" stroke="#222" stroke-width="1"/>
<line x1="351.8" y1="38.0" x2="351.8" y2="44.0" stroke="#222" stroke-width="1"/>
<line x1="351.8" y1="118.5" x2="351.8" y2="127.5" stroke="#222" stroke-width="1"/>
<line x1="427.7" y1="38.0" x2="427.7" y2="44.0" stroke="#222" stroke-width="1"/>
<line x1="427.7" y1="118.5" x2="427.7" y2="127.5" stroke="#222" stroke-width="1"/>
<line x1="503.5" y1="38.0" x2="503.5" y2="44.0" stroke="#222" stroke-width="1"/>
<line x1="503.5" y1="118.5" x2="503.5" y2="127.5" stroke="#222" stroke-width="1"/>
<line x1="43.5" y1="59.1" x2="53" y2="59.1" stroke="#000" stroke-width="1.3"/>
<line x1="499.5" y1="59.0" x2="504.5" y2="59.0" stroke="#222" stroke-width="1"/>
<text x="38.2" y="61.6" font-size="7.2" fill="#2a2a2a" stroke="#2a2a2a" stroke-width="0.18" text-anchor="end">5</text>
<line x1="43.5" y1="80.6" x2="53" y2="80.6" stroke="#000" stroke-width="1.3"/>
<text x="38.2" y="83.1" font-size="7.2" fill="#2a2a2a" stroke="#2a2a2a" stroke-width="0.18" text-anchor="end">0</text>
<line x1="43.5" y1="102.1" x2="53" y2="102.1" stroke="#000" stroke-width="1.3"/>
<line x1="499.5" y1="102.0" x2="504.5" y2="102.0" stroke="#222" stroke-width="1"/>
<text x="38.2" y="104.6" font-size="7.2" fill="#2a2a2a" stroke="#2a2a2a" stroke-width="0.18" text-anchor="end">-5</text>
<line x1="48.5" y1="38.0" x2="48.5" y2="148.0" stroke="#222" stroke-width="1.2"/>
<line x1="48.5" y1="123.3" x2="504.0" y2="123.3" stroke="#111" stroke-width="1.3"/>
<text x="48.5" y="135.8" font-size="7.2" fill="#2a2a2a" stroke="#2a2a2a" stroke-width="0.18" text-anchor="middle">0.0</text>
<text x="124.3" y="135.8" font-size="7.2" fill="#2a2a2a" stroke="#2a2a2a" stroke-width="0.18" text-anchor="middle">0.2</text>
<text x="200.2" y="135.8" font-size="7.2" fill="#2a2a2a" stroke="#2a2a2a" stroke-width="0.18" text-anchor="middle">0.4</text>
<text x="276.0" y="135.8" font-size="7.2" fill="#2a2a2a" stroke="#2a2a2a" stroke-width="0.18" text-anchor="middle">0.6</text>
<text x="351.8" y="135.8" font-size="7.2" fill="#2a2a2a" stroke="#2a2a2a" stroke-width="0.18" text-anchor="middle">0.8</text>
<text x="427.7" y="135.8" font-size="7.2" fill="#2a2a2a" stroke="#2a2a2a" stroke-width="0.18" text-anchor="middle">1.0</text>
<text x="503.5" y="135.8" font-size="7.2" fill="#2a2a2a" stroke="#2a2a2a" stroke-width="0.18" text-anchor="middle">1.2</text>
<line x1="120.4" y1="38.0" x2="120.4" y2="124.5" stroke="#f7b10a" stroke-width="1.7"/>
<line x1="408.8" y1="38.0" x2="408.8" y2="124.5" stroke="#1fb4ee" stroke-width="2"/>
<text transform="translate(24.3 80.0) rotate(-90)" font-size="8.3" font-weight="bold" fill="#1a1a1a" text-anchor="middle" textLength="81" lengthAdjust="spacing" xml:space="preserve">Current  GroupA (A)</text>
<rect x="48.5" y="174.5" width="455.5" height="85.0" fill="#fff"/>
<line x1="48.1" y1="183.4" x2="503.5" y2="183.4" stroke="#6d8091" stroke-width="1.1" stroke-dasharray="4.4 4.23"/>
<line x1="48.1" y1="200.4" x2="503.5" y2="200.4" stroke="#6d8091" stroke-width="1.1" stroke-dasharray="4.4 4.23"/>
<line x1="48.1" y1="234.4" x2="503.5" y2="234.4" stroke="#6d8091" stroke-width="1.1" stroke-dasharray="4.4 4.23"/>
<line x1="48.1" y1="251.4" x2="503.5" y2="251.4" stroke="#6d8091" stroke-width="1.1" stroke-dasharray="4.4 4.23"/>
<line x1="124.3" y1="177.0" x2="124.3" y2="259.5" stroke="#4c5762" stroke-width="1" stroke-dasharray="4.8 4"/>
<line x1="200.2" y1="177.0" x2="200.2" y2="259.5" stroke="#4c5762" stroke-width="1" stroke-dasharray="4.8 4"/>
<line x1="276.0" y1="177.0" x2="276.0" y2="259.5" stroke="#4c5762" stroke-width="1" stroke-dasharray="4.8 4"/>
<line x1="351.8" y1="177.0" x2="351.8" y2="259.5" stroke="#4c5762" stroke-width="1" stroke-dasharray="4.8 4"/>
<line x1="427.7" y1="177.0" x2="427.7" y2="259.5" stroke="#4c5762" stroke-width="1" stroke-dasharray="4.8 4"/>
<line x1="503.5" y1="177.0" x2="503.5" y2="259.5" stroke="#4c5762" stroke-width="1" stroke-dasharray="4.8 4"/>
<g fill="none" stroke-width="0.9" stroke-linejoin="round">
<path d="M48.50 215.90 L48.75 217.53 L49.00 219.15 L49.25 220.70 L49.50 222.10 L49.75 223.31 L50.00 224.26 L50.25 224.92 L50.50 225.26 L50.75 225.26 L51.00 224.92 L51.25 224.27 L51.50 223.32 L51.75 222.12 L52.00 220.71 L52.25 219.17 L52.50 217.55 L52.75 215.92 L53.00 214.35 L53.25 212.92 L53.50 211.68 L53.75 210.68 L54.00 209.97 L54.25 209.58 L54.50 209.52 L54.75 209.80 L55.00 210.40 L55.25 211.30 L55.50 212.47 L55.75 213.84 L56.00 215.37 L56.25 216.98 L56.50 218.61 L56.75 220.19 L57.00 221.65 L57.25 222.93 L57.50 223.97 L57.75 224.73 L58.00 225.18 L58.25 225.30 L58.50 225.07 L58.75 224.52 L59.00 223.67 L59.25 222.54 L59.50 221.20 L59.75 219.69 L60.00 218.09 L60.25 216.46 L60.50 214.86 L60.75 213.38 L61.00 212.07 L61.25 210.98 L61.50 210.17 L61.75 209.67 L62.00 209.50 L62.25 209.67 L62.50 210.16 L62.75 210.97 L63.00 212.05 L63.25 213.36 L63.50 214.85 L63.75 216.44 L64.00 218.07 L64.25 219.68 L64.50 221.18 L64.75 222.53 L65.00 223.66 L65.25 224.51 L65.50 225.07 L65.75 225.29 L66.00 225.18 L66.25 224.74 L66.50 223.98 L66.75 222.94 L67.00 221.67 L67.25 220.21 L67.50 218.63 L67.75 217.00 L68.00 215.39 L68.25 213.86 L68.50 212.48 L68.75 211.32 L69.00 210.41 L69.25 209.80 L69.50 209.52 L69.75 204.82 L70.00 205.44 L70.25 206.58 L70.50 208.18 L70.75 210.17 L71.00 212.48 L71.25 214.99 L71.50 217.60 L71.75 220.21 L72.00 222.70 L72.25 224.96 L72.50 226.90 L72.75 228.43 L73.00 229.49 L73.25 230.03 L73.50 230.03 L73.75 229.50 L74.00 228.44 L74.25 226.92 L74.50 224.98 L74.75 222.73 L75.00 220.24 L75.25 217.63 L75.50 215.02 L75.75 212.50 L76.00 210.20 L76.25 208.20 L76.50 206.60 L76.75 205.45 L77.00 204.82 L77.25 204.73 L77.50 205.18 L77.75 206.15 L78.00 207.60 L78.25 209.47 L78.50 211.68 L78.75 214.13 L79.00 216.73 L79.25 219.35 L79.50 221.89 L79.75 224.24 L80.00 226.29 L80.25 227.97 L80.50 229.19 L80.75 229.91 L81.00 230.09 L81.25 229.73 L81.50 228.85 L81.75 227.47 L82.00 225.67 L82.25 223.51 L82.50 221.09 L82.75 218.51 L83.00 215.88 L83.25 213.32 L83.50 210.94 L83.75 208.83 L84.00 207.08 L84.25 205.78 L84.50 204.97 L84.75 204.70 L85.00 204.97 L85.25 205.77 L85.50 207.07 L85.75 208.80 L86.00 210.91 L86.25 213.30 L86.50 215.85 L86.75 218.48 L87.00 221.06 L87.25 223.48 L87.50 225.65 L87.75 227.46 L88.00 228.84 L88.25 229.73 L88.50 230.09 L88.75 229.91 L89.00 229.20 L89.25 227.98 L89.50 226.31 L89.75 224.26 L90.00 221.92 L90.25 219.38 L90.50 216.76 L90.75 214.16 L91.00 211.71 L91.25 209.49 L91.50 203.77 L91.75 201.74 L92.00 200.38 L92.25 199.74 L92.50 199.87 L92.75 200.74 L93.00 202.32 L93.25 204.55 L93.50 207.33 L93.75 210.54 L94.00 214.04 L94.25 217.69 L94.50 221.32 L94.75 224.78 L95.00 227.94 L95.25 230.64 L95.50 232.77 L95.75 234.25 L96.00 235.00 L96.25 235.01 L96.50 234.26 L96.75 232.79 L97.00 230.66 L97.25 227.97 L97.50 224.82 L97.75 221.36 L98.00 217.73 L98.25 214.08 L98.50 210.57 L98.75 207.36 L99.00 204.58 L99.25 202.34 L99.50 200.75 L99.75 199.87 L100.00 199.74 L100.25 200.37 L100.50 201.72 L100.75 203.74 L101.00 206.35 L101.25 209.43 L101.50 212.85 L101.75 216.46 L102.00 220.12 L102.25 223.66 L102.50 226.93 L102.75 229.79 L103.00 232.13 L103.25 233.83 L103.50 234.83 L103.75 235.09 L104.00 234.59 L104.25 233.36 L104.50 231.44 L104.75 228.92 L105.00 225.91 L105.25 222.54 L105.50 218.95 L105.75 215.29 L106.00 211.72 L106.25 208.39 L106.50 205.45 L106.75 203.02 L107.00 201.21 L107.25 200.08 L107.50 199.70 L107.75 200.07 L108.00 201.19 L108.25 203.00 L108.50 205.42 L108.75 208.36 L109.00 211.68 L109.25 215.25 L109.50 218.91 L109.75 222.50 L110.00 225.88 L110.25 228.89 L110.50 231.41 L110.75 233.34 L111.00 234.58 L111.25 235.09 L111.50 234.84 L111.75 233.85 L112.00 232.15 L112.25 229.82 L112.50 226.96 L112.75 223.70 L113.00 220.16 L113.25 216.23 L113.50 211.49 L113.75 207.00 L114.00 202.96 L114.25 199.53 L114.50 196.87 L114.75 195.09 L115.00 194.26 L115.25 194.42 L115.50 195.56 L115.75 197.64 L116.00 200.56 L116.25 204.20 L116.50 208.40 L116.75 213.00 L117.00 217.77 L117.25 222.54 L117.50 227.08 L117.75 231.21 L118.00 234.75 L118.25 237.54 L118.50 239.48 L118.75 240.47 L119.00 240.48 L119.25 239.50 L119.50 237.57 L119.75 234.78 L120.00 231.25 L120.25 227.13 L120.50 222.59 L120.75 217.83 L121.00 213.05 L121.25 208.45 L121.50 204.24 L121.75 200.59 L122.00 197.66 L122.25 195.58 L122.50 194.42 L122.75 194.25 L123.00 195.07 L123.25 196.85 L123.50 199.50 L123.75 202.91 L124.00 206.95 L124.25 211.43 L124.50 216.17 L124.75 220.96 L125.00 225.60 L125.25 229.89 L125.50 233.64 L125.75 236.70 L126.00 238.94 L126.25 240.25 L126.50 240.59 L126.75 239.93 L127.00 238.31 L127.25 235.80 L127.50 232.50 L127.75 228.56 L128.00 224.14 L128.25 219.43 L128.50 214.63 L128.75 209.95 L129.00 205.59 L129.25 201.74 L129.50 198.55 L129.75 196.17 L130.00 194.70 L130.25 194.20 L130.50 194.69 L130.75 196.15 L131.00 198.52 L131.25 201.70 L131.50 205.55 L131.75 209.90 L132.00 214.58 L132.25 219.37 L132.50 224.09 L132.75 228.51 L133.00 232.46 L133.25 235.77 L133.50 238.29 L133.75 239.92 L134.00 240.59 L134.25 240.26 L134.50 238.96 L134.75 236.73 L135.00 237.05 L135.25 232.53 L135.50 227.36 L135.75 221.76 L136.00 215.98 L136.25 210.26 L136.50 204.85 L136.75 199.97 L137.00 195.83 L137.25 192.62 L137.50 190.47 L137.75 189.47 L138.00 189.66 L138.25 191.04 L138.50 193.55 L138.75 197.07 L139.00 201.47 L139.25 206.54 L139.50 212.08 L139.75 217.85 L140.00 223.60 L140.25 229.08 L140.50 234.07 L140.75 238.34 L141.00 241.71 L141.25 244.05 L141.50 245.25 L141.75 245.25 L142.00 244.07 L142.25 241.74 L142.50 238.38 L142.75 234.12 L143.00 229.14 L143.25 223.66 L143.50 217.92 L143.75 212.15 L144.00 206.60 L144.25 201.52 L144.50 197.12 L144.75 193.58 L145.00 191.06 L145.25 189.67 L145.50 189.46 L145.75 190.45 L146.00 192.59 L146.25 195.79 L146.50 199.92 L146.75 204.79 L147.00 210.20 L147.25 215.92 L147.50 221.70 L147.75 227.30 L148.00 232.47 L148.25 237.00 L148.50 240.70 L148.75 243.39 L149.00 244.98 L149.25 245.38 L149.50 244.59 L149.75 242.64 L150.00 239.61 L150.25 235.63 L150.50 230.87 L150.75 225.53 L151.00 219.85 L151.25 214.06 L151.50 208.41 L151.75 203.15 L152.00 198.50 L152.25 194.65 L152.50 191.78 L152.75 190.01 L153.00 189.40 L153.25 189.99 L153.50 191.76 L153.75 194.62 L154.00 198.45 L154.25 203.09 L154.50 208.35 L154.75 213.99 L155.00 219.78 L155.25 225.47 L155.50 230.81 L155.75 235.58 L156.00 239.57 L156.25 242.61 L156.50 249.43 L156.75 250.38 L157.00 249.92 L157.25 248.06 L157.50 244.90 L157.75 240.56 L158.00 235.23 L158.25 229.14 L158.50 222.54 L158.75 215.73 L159.00 208.99 L159.25 202.60 L159.50 196.85 L159.75 191.98 L160.00 188.20 L160.25 185.66 L160.50 184.48 L160.75 184.71 L161.00 186.33 L161.25 189.29 L161.50 193.44 L161.75 198.62 L162.00 204.60 L162.25 211.13 L162.50 217.93 L162.75 224.71 L163.00 231.17 L163.25 237.04 L163.50 242.08 L163.75 246.05 L164.00 248.81 L164.25 250.22 L164.50 250.23 L164.75 248.83 L165.00 246.09 L165.25 242.13 L165.50 237.10 L165.75 231.24 L166.00 224.78 L166.25 218.01 L166.50 211.21 L166.75 204.68 L167.00 198.69 L167.25 193.50 L167.50 189.33 L167.75 186.36 L168.00 184.72 L168.25 184.48 L168.50 185.64 L168.75 188.16 L169.00 191.93 L169.25 196.80 L169.50 202.54 L169.75 208.91 L170.00 215.65 L170.25 222.47 L170.50 229.07 L170.75 235.17 L171.00 240.51 L171.25 244.86 L171.50 248.03 L171.75 249.90 L172.00 250.38 L172.25 249.45 L172.50 247.15 L172.75 243.57 L173.00 238.88 L173.25 233.27 L173.50 226.98 L173.75 220.28 L174.00 213.46 L174.25 206.81 L174.50 200.60 L174.75 195.12 L175.00 190.59 L175.25 187.21 L175.50 185.11 L175.75 184.40 L176.00 185.10 L176.25 187.18 L176.50 190.55 L176.75 195.07 L177.00 200.54 L177.25 206.73 L177.50 213.38 L177.75 220.21 L178.00 226.91 L178.25 235.79 L178.50 242.33 L178.75 247.80 L179.00 251.98 L179.25 254.67 L179.50 255.78 L179.75 255.24 L180.00 253.08 L180.25 249.40 L180.50 244.35 L180.75 238.15 L181.00 231.06 L181.25 223.39 L181.50 215.46 L181.75 207.61 L182.00 200.18 L182.25 193.49 L182.50 187.82 L182.75 183.42 L183.00 180.47 L183.25 179.09 L183.50 179.36 L183.75 181.25 L184.00 184.69 L184.25 189.52 L184.50 195.55 L184.75 202.51 L185.00 210.11 L185.25 218.02 L185.50 225.90 L185.75 233.42 L186.00 240.26 L186.25 246.11 L186.50 250.74 L186.75 253.95 L187.00 255.59 L187.25 255.60 L187.50 253.97 L187.75 250.79 L188.00 246.17 L188.25 240.33 L188.50 233.50 L188.75 225.99 L189.00 218.11 L189.25 210.20 L189.50 202.59 L189.75 195.62 L190.00 189.58 L190.25 184.73 L190.50 181.28 L190.75 179.37 L191.00 179.09 L191.25 180.44 L191.50 183.38 L191.75 187.77 L192.00 193.42 L192.25 200.10 L192.50 207.53 L192.75 215.37 L193.00 223.30 L193.25 230.98 L193.50 238.07 L193.75 244.29 L194.00 249.35 L194.25 253.05 L194.50 255.22 L194.75 255.78 L195.00 254.69 L195.25 252.02 L195.50 247.86 L195.75 242.40 L196.00 235.87 L196.25 228.55 L196.50 220.75 L196.75 212.82 L197.00 205.07 L197.25 197.86 L197.50 191.48 L197.75 186.20 L198.00 182.27 L198.25 179.83 L198.50 179.00 L198.75 179.81 L199.00 182.23 L199.25 186.15 L199.50 191.41 L199.75 197.78 L200.00 206.25 L200.25 213.20 L200.50 220.33 L200.75 227.34 L201.00 233.92 L201.25 239.80 L201.50 244.72 L201.75 248.47 L202.00 250.89 L202.25 251.88 L202.50 251.39 L202.75 249.46 L203.00 246.15 L203.25 241.61 L203.50 236.04 L203.75 229.67 L204.00 222.78 L204.25 215.65 L204.50 208.61 L204.75 201.93 L205.00 195.92 L205.25 190.83 L205.50 186.87 L205.75 184.22 L206.00 182.98 L206.25 183.22 L206.50 184.92 L206.75 188.01 L207.00 192.35 L207.25 197.77 L207.50 204.02 L207.75 210.85 L208.00 217.96 L208.25 225.04 L208.50 231.79 L208.75 237.93 L209.00 243.20 L209.25 247.36 L209.50 250.24 L209.75 251.71 L210.00 251.72 L210.25 250.26 L210.50 247.40 L210.75 243.25 L211.00 238.00 L211.25 231.87 L211.50 225.12 L211.75 218.04 L212.00 210.93 L212.25 204.10 L212.50 197.83 L212.75 192.41 L213.00 188.05 L213.25 184.95 L213.50 183.23 L213.75 182.98 L214.00 184.20 L214.25 186.83 L214.50 190.78 L214.75 195.86 L215.00 201.86 L215.25 208.53 L215.50 215.57 L215.75 222.70 L216.00 229.60 L216.25 235.97 L216.50 241.56 L216.75 246.10 L217.00 249.43 L217.25 251.38 L217.50 251.88 L217.75 250.91 L218.00 248.50 L218.25 244.76 L218.50 239.86 L218.75 233.99 L219.00 227.42 L219.25 220.41 L219.50 213.28 L219.75 206.32 L220.00 199.84 L220.25 194.11 L220.50 189.37 L220.75 185.83 L221.00 183.65 L221.25 182.90 L221.50 183.63 L221.75 189.19 L222.00 192.34 L222.25 196.55 L222.50 201.66 L222.75 207.45 L223.00 213.65 L223.25 220.02 L223.50 226.28 L223.75 232.15 L224.00 237.40 L224.25 241.79 L224.50 245.13 L224.75 247.30 L225.00 248.18 L225.25 247.75 L225.50 246.02 L225.75 243.07 L226.00 239.02 L226.25 234.04 L226.50 228.35 L226.75 222.20 L227.00 215.84 L227.25 209.55 L227.50 203.59 L227.75 198.22 L228.00 193.68 L228.25 190.14 L228.50 187.78 L228.75 186.68 L229.00 186.89 L229.25 188.41 L229.50 191.16 L229.75 195.04 L230.00 199.87 L230.25 205.46 L230.50 211.55 L230.75 217.90 L231.00 224.22 L231.25 230.25 L231.50 235.73 L231.75 240.43 L232.00 244.14 L232.25 246.71 L232.50 248.03 L232.75 248.04 L233.00 246.74 L233.25 244.18 L233.50 240.48 L233.75 235.79 L234.00 230.31 L234.25 224.29 L234.50 217.97 L234.75 211.62 L235.00 205.52 L235.25 199.93 L235.50 195.09 L235.75 191.20 L236.00 188.43 L236.25 186.90 L236.50 186.67 L236.75 187.76 L237.00 190.11 L237.25 193.63 L237.50 198.17 L237.75 203.53 L238.00 209.48 L238.25 215.77 L238.50 222.13 L238.75 228.29 L239.00 233.98 L239.25 238.96 L239.50 243.03 L239.75 245.99 L240.00 247.74 L240.25 248.18 L240.50 247.31 L240.75 245.17 L241.00 241.83 L241.25 237.45 L241.50 232.21 L241.75 226.34 L242.00 220.09 L242.25 213.72 L242.50 207.51 L242.75 201.72 L243.00 196.61 L243.25 192.38 L243.50 193.15 L243.75 191.47 L244.00 190.90 L244.25 191.46 L244.50 193.13 L244.75 195.84 L245.00 199.47 L245.25 203.86 L245.50 208.83 L245.75 214.18 L246.00 219.65 L246.25 225.04 L246.50 230.09 L246.75 234.60 L247.00 238.38 L247.25 241.26 L247.50 243.12 L247.75 243.88 L248.00 243.51 L248.25 242.02 L248.50 239.48 L248.75 236.00 L249.00 231.72 L249.25 226.83 L249.50 221.53 L249.75 216.06 L250.00 210.64 L250.25 205.52 L250.50 200.90 L250.75 196.99 L251.00 193.95 L251.25 191.91 L251.50 190.97 L251.75 191.15 L252.00 192.45 L252.25 194.82 L252.50 198.16 L252.75 202.32 L253.00 207.13 L253.25 212.37 L253.50 217.83 L253.75 223.27 L254.00 228.46 L254.25 233.17 L254.50 237.22 L254.75 240.41 L255.00 242.62 L255.25 243.75 L255.50 243.76 L255.75 242.64 L256.00 240.44 L256.25 237.26 L256.50 233.22 L256.75 228.51 L257.00 223.33 L257.25 217.89 L257.50 212.43 L257.75 207.18 L258.00 202.37 L258.25 198.20 L258.50 194.86 L258.75 192.47 L259.00 191.16 L259.25 190.96 L259.50 191.90 L259.75 193.92 L260.00 196.95 L260.25 200.85 L260.50 205.46 L260.75 210.59 L261.00 216.00 L261.25 221.47 L261.50 226.77 L261.75 231.67 L262.00 235.95 L262.25 239.45 L262.50 242.00 L262.75 243.50 L263.00 243.89 L263.25 243.14 L263.50 241.29 L263.75 238.42 L264.00 234.65 L264.25 230.15 L264.50 225.09 L264.75 219.71 L265.00 214.24 L265.25 210.08 L265.50 205.80 L265.75 202.01 L266.00 198.88 L266.25 196.54 L266.50 195.09 L266.75 194.60 L267.00 195.08 L267.25 196.52 L267.50 198.85 L267.75 201.97 L268.00 205.75 L268.25 210.03 L268.50 214.63 L268.75 219.34 L269.00 223.97 L269.25 228.32 L269.50 232.20 L269.75 235.45 L270.00 237.93 L270.25 239.53 L270.50 240.19 L270.75 239.87 L271.00 238.59 L271.25 236.40 L271.50 233.40 L271.75 229.72 L272.00 225.51 L272.25 220.95 L272.50 216.25 L272.75 211.59 L273.00 207.18 L273.25 203.20 L273.50 199.84 L273.75 197.22 L274.00 195.47 L274.25 194.66 L274.50 194.81 L274.75 195.94 L275.00 197.98 L275.25 200.85 L275.50 204.43 L275.75 208.56 L276.00 213.07 L276.25 217.77 L276.50 222.45 L276.75 226.91 L277.00 230.97 L277.25 234.45 L277.50 237.20 L277.75 239.10 L278.00 240.08 L278.25 240.08 L278.50 239.12 L278.75 237.22 L279.00 234.48 L279.25 231.01 L279.50 226.96 L279.75 222.50 L280.00 217.82 L280.25 213.12 L280.50 208.61 L280.75 204.47 L281.00 200.88 L281.25 198.00 L281.50 195.95 L281.75 194.82 L282.00 194.65 L282.25 195.46 L282.50 197.20 L282.75 199.81 L283.00 203.16 L283.25 207.13 L283.50 211.54 L283.75 216.19 L284.00 220.90 L284.25 225.46 L284.50 229.67 L284.75 233.36 L285.00 236.37 L285.25 238.57 L285.50 239.86 L285.75 240.19 L286.00 239.54 L286.25 237.95 L286.50 235.48 L286.75 232.24 L287.00 226.59 L287.25 222.95 L287.50 219.07 L287.75 215.12 L288.00 211.27 L288.25 207.68 L288.50 204.51 L288.75 201.88 L289.00 199.92 L289.25 198.71 L289.50 198.30 L289.75 198.70 L290.00 199.91 L290.25 201.86 L290.50 204.47 L290.75 207.64 L291.00 211.23 L291.25 215.08 L291.50 219.02 L291.75 222.90 L292.00 226.55 L292.25 229.80 L292.50 232.52 L292.75 234.60 L293.00 235.94 L293.25 236.49 L293.50 236.22 L293.75 235.15 L294.00 233.32 L294.25 230.80 L294.50 227.72 L294.75 224.19 L295.00 220.38 L295.25 216.43 L295.50 212.53 L295.75 208.84 L296.00 205.51 L296.25 202.69 L296.50 200.50 L296.75 199.03 L297.00 198.35 L297.25 198.48 L297.50 199.42 L297.75 201.13 L298.00 203.53 L298.25 206.53 L298.50 209.99 L298.75 213.77 L299.00 217.71 L299.25 221.63 L299.50 225.37 L299.75 228.77 L300.00 231.68 L300.25 233.98 L300.50 235.58 L300.75 236.40 L301.00 236.40 L301.25 235.59 L301.50 234.01 L301.75 231.71 L302.00 228.80 L302.25 225.41 L302.50 221.67 L302.75 217.75 L303.00 213.82 L303.25 210.03 L303.50 206.57 L303.75 203.56 L304.00 201.15 L304.25 199.43 L304.50 198.48 L304.75 198.34 L305.00 199.02 L305.25 200.48 L305.50 202.66 L305.75 205.47 L306.00 208.80 L306.25 212.49 L306.50 216.39 L306.75 220.33 L307.00 224.15 L307.25 227.68 L307.50 230.77 L307.75 233.29 L308.00 235.13 L308.25 236.21 L308.50 236.49 L308.75 232.16 L309.00 231.10 L309.25 229.46 L309.50 227.29 L309.75 224.71 L310.00 221.81 L310.25 218.73 L310.50 215.59 L310.75 212.52 L311.00 209.66 L311.25 207.14 L311.50 205.05 L311.75 203.49 L312.00 202.53 L312.25 202.20 L312.50 202.52 L312.75 203.48 L313.00 205.03 L313.25 207.11 L313.50 209.63 L313.75 212.49 L314.00 215.55 L314.25 218.69 L314.50 221.78 L314.75 224.68 L315.00 227.27 L315.25 229.43 L315.50 231.09 L315.75 232.15 L316.00 232.59 L316.25 232.38 L316.50 231.52 L316.75 230.07 L317.00 228.07 L317.25 225.61 L317.50 222.81 L317.75 219.77 L318.00 216.63 L318.25 213.53 L318.50 210.59 L318.75 207.94 L319.00 205.69 L319.25 203.95 L319.50 202.78 L319.75 202.24 L320.00 202.34 L320.25 203.09 L320.50 204.45 L320.75 206.37 L321.00 208.75 L321.25 211.51 L321.50 214.51 L321.75 217.64 L322.00 220.77 L322.25 223.74 L322.50 226.45 L322.75 228.77 L323.00 230.60 L323.25 231.87 L323.50 232.52 L323.75 232.52 L324.00 231.88 L324.25 230.62 L324.50 228.79 L324.75 226.48 L325.00 223.77 L325.25 220.80 L325.50 217.68 L325.75 214.55 L326.00 211.54 L326.25 208.78 L326.50 206.39 L326.75 204.47 L327.00 203.10 L327.25 202.35 L327.50 202.24 L327.75 202.77 L328.00 203.93 L328.25 205.67 L328.50 207.91 L328.75 210.55 L329.00 213.49 L329.25 216.60 L329.50 219.73 L329.75 222.77 L330.00 225.58 L330.25 228.04 L330.50 226.05 L330.75 227.05 L331.00 227.64 L331.25 227.79 L331.50 227.50 L331.75 226.78 L332.00 225.65 L332.25 224.17 L332.50 222.40 L332.75 220.42 L333.00 218.31 L333.25 216.16 L333.50 214.06 L333.75 212.11 L334.00 210.38 L334.25 208.95 L334.50 207.88 L334.75 207.22 L335.00 207.00 L335.25 207.22 L335.50 207.87 L335.75 208.94 L336.00 210.36 L336.25 212.09 L336.50 214.04 L336.75 216.13 L337.00 218.28 L337.25 220.40 L337.50 222.38 L337.75 224.15 L338.00 225.63 L338.25 226.76 L338.50 227.49 L338.75 227.79 L339.00 227.65 L339.25 227.06 L339.50 226.07 L339.75 224.70 L340.00 223.02 L340.25 221.10 L340.50 219.02 L340.75 216.87 L341.00 214.75 L341.25 212.74 L341.50 210.93 L341.75 209.39 L342.00 208.20 L342.25 207.40 L342.50 207.03 L342.75 207.10 L343.00 207.61 L343.25 208.54 L343.50 209.85 L343.75 211.48 L344.00 213.37 L344.25 215.43 L344.50 217.57 L344.75 219.70 L345.00 221.74 L345.25 223.59 L345.50 225.18 L345.75 226.43 L346.00 227.30 L346.25 227.74 L346.50 227.75 L346.75 227.31 L347.00 226.44 L347.25 225.19 L347.50 223.61 L347.75 221.76 L348.00 219.73 L348.25 217.59 L348.50 215.45 L348.75 213.39 L349.00 211.50 L349.25 209.87 L349.50 208.55 L349.75 207.62 L350.00 207.10 L350.25 207.02 L350.50 207.39 L350.75 208.19 L351.00 209.37 L351.25 210.91 L351.50 212.72 L351.75 214.73 L352.00 216.87 L352.25 218.94 L352.50 220.94 L352.75 222.78 L353.00 224.40 L353.25 225.72 L353.50 226.68 L353.75 227.25 L354.00 227.39 L354.25 227.11 L354.50 226.41 L354.75 225.33 L355.00 223.91 L355.25 222.21 L355.50 220.30 L355.75 218.27 L356.00 216.21 L356.25 214.19 L356.50 212.31 L356.75 210.65 L357.00 209.28 L357.25 208.25 L357.50 207.62 L357.75 207.40 L358.00 207.61 L358.25 208.24 L358.50 209.26 L358.75 210.63 L359.00 212.29 L359.25 214.17 L359.50 216.18 L359.75 218.25 L360.00 220.28 L360.25 222.19 L360.50 223.89 L360.75 225.32 L361.00 226.40 L361.25 227.11 L361.50 227.39 L361.75 227.25 L362.00 226.69 L362.25 225.73 L362.50 224.42 L362.75 222.80 L363.00 220.96 L363.25 218.96 L363.50 216.89 L363.75 214.85 L364.00 212.92 L364.25 211.17 L364.50 209.70 L364.75 208.55 L365.00 207.78 L365.25 207.42 L365.50 207.49 L365.75 207.99 L366.00 208.88 L366.25 210.14 L366.50 211.71 L366.75 213.52 L367.00 215.50 L367.25 217.56 L367.50 219.61 L367.75 221.57 L368.00 223.35 L368.25 224.88 L368.50 226.08 L368.75 226.92 L369.00 227.35 L369.25 227.35 L369.50 226.92 L369.75 226.09 L370.00 224.89 L370.25 223.37 L370.50 221.59 L370.75 219.64 L371.00 217.58 L371.25 215.52 L371.50 213.54 L371.75 211.73 L372.00 210.16 L372.25 208.89 L372.50 207.99 L372.75 207.50 L373.00 207.42 L373.25 207.78 L373.50 208.54 L373.75 209.99 L374.00 211.41 L374.25 213.08 L374.50 214.93 L374.75 216.89 L375.00 218.87 L375.25 220.79 L375.50 222.57 L375.75 224.12 L376.00 225.39 L376.25 226.31 L376.50 226.86 L376.75 226.99 L377.00 226.72 L377.25 226.05 L377.50 225.01 L377.75 223.65 L378.00 222.02 L378.25 220.19 L378.50 218.24 L378.75 216.25 L379.00 214.32 L379.25 212.51 L379.50 210.92 L379.75 209.60 L380.00 208.62 L380.25 208.01 L380.50 207.80 L380.75 208.00 L381.00 208.61 L381.25 209.59 L381.50 210.90 L381.75 212.50 L382.00 214.30 L382.25 216.23 L382.50 218.22 L382.75 220.17 L383.00 222.00 L383.25 223.63 L383.50 225.00 L383.75 226.04 L384.00 226.72 L384.25 226.99 L384.50 226.86 L384.75 226.32 L385.00 225.40 L385.25 224.14 L385.50 222.59 L385.75 220.81 L386.00 218.90 L386.25 216.91 L386.50 214.95 L386.75 213.10 L387.00 211.42 L387.25 210.01 L387.50 208.90 L387.75 208.17 L388.00 207.82 L388.25 207.89 L388.50 208.36 L388.75 209.22 L389.00 210.43 L389.25 211.94 L389.50 213.68 L389.75 215.58 L390.00 217.55 L390.25 219.53 L390.50 221.41 L390.75 223.11 L391.00 224.58 L391.25 225.74 L391.50 226.54 L391.75 226.95 L392.00 226.95 L392.25 226.54 L392.50 225.75 L392.75 224.59 L393.00 223.13 L393.25 221.43 L393.50 219.55 L393.75 217.58 L394.00 215.60 L394.25 213.70 L394.50 211.96 L394.75 210.45 L395.00 209.23 L395.25 208.37 L395.50 208.29 L395.75 208.22 L396.00 208.55 L396.25 209.25 L396.50 210.30 L396.75 211.66 L397.00 213.26 L397.25 215.03 L397.50 216.91 L397.75 218.81 L398.00 220.65 L398.25 222.35 L398.50 223.84 L398.75 225.05 L399.00 225.94 L399.25 226.46 L399.50 226.59 L399.75 226.34 L400.00 225.69 L400.25 224.70 L400.50 223.39 L400.75 221.82 L401.00 220.07 L401.25 218.20 L401.50 216.30 L401.75 214.45 L402.00 212.72 L402.25 211.19 L402.50 209.93 L402.75 208.98 L403.00 208.40 L403.25 208.20 L403.50 208.39 L403.75 208.97 L404.00 209.91 L404.25 211.17 L404.50 212.70 L404.75 214.43 L405.00 216.28 L405.25 218.18 L405.50 220.05 L405.75 221.81 L406.00 223.37 L406.25 224.68 L406.50 225.68 L406.75 226.33 L407.00 226.59 L407.25 226.47 L407.50 225.95 L407.75 225.07 L408.00 223.86 L408.25 222.37 L408.50 220.67 L408.75 218.83 L409.00 216.93 L409.25 215.05 L409.50 213.28 L409.75 211.67 L410.00 210.31 L410.25 209.26 L410.50 208.55 L410.75 208.22 L411.00 208.29 L411.25 208.74 L411.50 209.56 L411.75 210.72 L412.00 212.17 L412.25 213.83 L412.50 215.65 L412.75 217.55 L413.00 219.44 L413.25 221.24 L413.50 222.88 L413.75 224.28 L414.00 225.39 L414.25 226.16 L414.50 226.55 L414.75 226.55 L415.00 226.16 L415.25 225.40 L415.50 224.29 L415.75 222.89 L416.00 221.26 L416.25 219.46 L416.50 217.57 L416.75 215.67 L417.00 213.85 L417.25 212.47 L417.50 211.10 L417.75 210.00 L418.00 209.22 L418.25 208.78 L418.50 208.72 L418.75 209.03 L419.00 209.69 L419.25 210.69 L419.50 211.97 L419.75 213.48 L420.00 215.16 L420.25 216.94 L420.50 218.74 L420.75 220.48 L421.00 222.08 L421.25 223.49 L421.50 224.64 L421.75 225.48 L422.00 225.97 L422.25 226.10 L422.50 225.85 L422.75 225.24 L423.00 224.30 L423.25 223.06 L423.50 221.58 L423.75 219.93 L424.00 218.16 L424.25 216.36 L424.50 214.61 L424.75 212.97 L425.00 211.53 L425.25 210.33 L425.50 209.44 L425.75 208.89 L426.00 208.70 L426.25 208.88 L426.50 209.43 L426.75 210.32 L427.00 211.51 L427.25 212.95 L427.50 214.59 L427.75 216.34 L428.00 218.14 L428.25 219.91 L428.50 221.57 L428.75 223.05 L429.00 224.29 L429.25 225.23 L429.50 225.84 L429.75 226.09 L430.00 225.97 L430.25 225.48 L430.50 224.65 L430.75 223.51 L431.00 222.10 L431.25 220.49 L431.50 218.76 L431.75 216.96 L432.00 215.18 L432.25 213.50 L432.50 211.98 L432.75 210.70 L433.00 209.70 L433.25 209.03 L433.50 208.72 L433.75 208.78 L434.00 209.21 L434.25 209.99 L434.50 211.08 L434.75 212.45 L435.00 214.03 L435.25 215.75 L435.50 217.54 L435.75 219.33 L436.00 221.03 L436.25 222.58 L436.50 223.91 L436.75 224.95 L437.00 225.68 L437.25 226.05 L437.50 226.05 L437.75 225.69 L438.00 224.96 L438.25 223.92 L438.50 222.59 L438.75 221.05 L439.00 219.23 L439.25 217.55 L439.50 215.86 L439.75 214.24 L440.00 212.75 L440.25 211.46 L440.50 210.42 L440.75 209.69 L441.00 209.28 L441.25 209.22 L441.50 209.51 L441.75 210.13 L442.00 211.07 L442.25 212.28 L442.50 213.71 L442.75 215.29 L443.00 216.97 L443.25 218.66 L443.50 220.30 L443.75 221.81 L444.00 223.14 L444.25 224.22 L444.50 225.01 L444.75 225.48 L445.00 225.60 L445.25 225.36 L445.50 224.79 L445.75 223.90 L446.00 222.74 L446.25 221.34 L446.50 219.78 L446.75 218.12 L447.00 216.42 L447.25 214.77 L447.50 213.23 L447.75 211.86 L448.00 210.74 L448.25 209.90 L448.50 209.38 L448.75 209.20 L449.00 209.37 L449.25 209.89 L449.50 210.73 L449.75 211.85 L450.00 213.21 L450.25 214.75 L450.50 216.40 L450.75 218.10 L451.00 219.76 L451.25 221.33 L451.50 222.72 L451.75 223.89 L452.00 224.78 L452.25 225.36 L452.50 225.59 L452.75 225.48 L453.00 225.02 L453.25 224.23 L453.50 223.15 L453.75 221.83 L454.00 220.32 L454.25 218.68 L454.50 216.98 L454.75 215.31 L455.00 213.72 L455.25 212.29 L455.50 211.08 L455.75 210.14 L456.00 209.51 L456.25 209.22 L456.50 209.28 L456.75 209.68 L457.00 210.41 L457.25 211.45 L457.50 212.73 L457.75 214.22 L458.00 215.84 L458.25 217.53 L458.50 219.22 L458.75 220.82 L459.00 222.28 L459.25 223.53 L459.50 224.52 L459.75 225.20 L460.00 225.56 L460.25 225.56 L460.50 225.21 L460.75 224.09 L461.00 223.17 L461.25 222.00 L461.50 220.63 L461.75 219.12 L462.00 217.54 L462.25 215.96 L462.50 214.43 L462.75 213.03 L463.00 211.82 L463.25 210.85 L463.50 210.16 L463.75 209.77 L464.00 209.72 L464.25 209.99 L464.50 210.58 L464.75 211.46 L465.00 212.59 L465.25 213.93 L465.50 215.42 L465.75 216.99 L466.00 218.58 L466.25 220.12 L466.50 221.55 L466.75 222.79 L467.00 223.81 L467.25 224.55 L467.50 224.98 L467.75 225.10 L468.00 224.88 L468.25 224.34 L468.50 223.51 L468.75 222.41 L469.00 221.10 L469.25 219.64 L469.50 218.07 L469.75 216.48 L470.00 214.93 L470.25 213.48 L470.50 212.20 L470.75 211.14 L471.00 210.35 L471.25 209.87 L471.50 209.70 L471.75 209.86 L472.00 210.35 L472.25 211.13 L472.50 212.19 L472.75 213.47 L473.00 214.91 L473.25 216.46 L473.50 218.05 L473.75 219.62 L474.00 221.09 L474.25 222.40 L474.50 223.50 L474.75 224.33 L475.00 224.87 L475.25 225.10 L475.50 224.99 L475.75 224.55 L476.00 223.82 L476.25 222.80 L476.50 221.56 L476.75 220.14 L477.00 218.60 L477.25 217.01 L477.50 215.44 L477.75 213.95 L478.00 212.61 L478.25 211.47 L478.50 210.59 L478.75 209.99 L479.00 209.72 L479.25 209.77 L479.50 210.15 L479.75 210.84 L480.00 211.81 L480.25 213.02 L480.50 214.41 L480.75 215.94 L481.00 217.52 L481.25 219.10 L481.50 220.61 L481.75 221.98 L482.00 223.16 L482.25 224.09 L482.50 224.35 L482.75 224.66 L483.00 224.66 L483.25 224.35 L483.50 223.75 L483.75 222.87 L484.00 221.76 L484.25 220.46 L484.50 219.03 L484.75 217.53 L485.00 216.03 L485.25 214.59 L485.50 213.26 L485.75 212.11 L486.00 211.19 L486.25 210.53 L486.50 210.17 L486.75 210.12 L487.00 210.37 L487.25 210.93 L487.50 211.77 L487.75 212.84 L488.00 214.11 L488.25 215.52 L488.50 217.01 L488.75 218.52 L489.00 219.98 L489.25 221.33 L489.50 222.51 L489.75 223.47 L490.00 224.18 L490.25 224.59 L490.50 224.70 L490.75 224.49 L491.00 223.98 L491.25 223.19 L491.50 222.15 L491.75 220.91 L492.00 219.52 L492.25 218.04 L492.50 216.53 L492.75 215.06 L493.00 213.68 L493.25 212.47 L493.50 211.47 L493.75 210.72 L494.00 210.26 L494.25 210.10 L494.50 210.25 L494.75 210.71 L495.00 211.46 L495.25 212.46 L495.50 213.67 L495.75 215.04 L496.00 216.51 L496.25 218.02 L496.50 219.50 L496.75 220.90 L497.00 222.14 L497.25 223.18 L497.50 223.97 L497.75 224.49 L498.00 224.70 L498.25 224.59 L498.50 224.18 L498.75 223.48 L499.00 222.52 L499.25 221.34 L499.50 220.00 L499.75 218.54 L500.00 217.03 L500.25 215.54 L500.50 214.13 L500.75 212.86 L501.00 211.78 L501.25 210.94 L501.50 210.38 L501.75 210.12 L502.00 210.17 L502.25 210.53 L502.50 211.18 L502.75 212.10 L503.00 213.25 L503.25 214.57 L503.50 216.01" stroke="#0000ff"/>
<path d="M48.50 224.87 L48.75 224.18 L49.00 223.20 L49.25 221.97 L49.50 220.55 L49.75 218.99 L50.00 217.36 L50.25 215.74 L50.50 214.19 L50.75 212.77 L51.00 211.55 L51.25 210.59 L51.50 209.91 L51.75 209.55 L52.00 209.53 L52.25 209.85 L52.50 210.49 L52.75 211.42 L53.00 212.61 L53.25 214.01 L53.50 215.54 L53.75 217.16 L54.00 218.79 L54.25 220.36 L54.50 221.81 L54.75 223.06 L55.00 224.07 L55.25 224.80 L55.50 225.21 L55.75 225.29 L56.00 225.03 L56.25 224.44 L56.50 223.55 L56.75 222.40 L57.00 221.04 L57.25 219.52 L57.50 217.91 L57.75 216.28 L58.00 214.69 L58.25 213.22 L58.50 211.93 L58.75 210.88 L59.00 210.10 L59.25 209.64 L59.50 209.50 L59.75 209.71 L60.00 210.24 L60.25 211.08 L60.50 212.19 L60.75 213.52 L61.00 215.02 L61.25 216.62 L61.50 218.25 L61.75 219.85 L62.00 221.34 L62.25 222.67 L62.50 223.76 L62.75 224.59 L63.00 225.11 L63.25 225.30 L63.50 225.15 L63.75 224.67 L64.00 223.88 L64.25 222.81 L64.50 221.51 L64.75 220.04 L65.00 218.45 L65.25 216.82 L65.50 215.21 L65.75 213.70 L66.00 212.34 L66.25 211.20 L66.50 210.33 L66.75 209.75 L67.00 209.51 L67.25 209.60 L67.50 210.03 L67.75 210.77 L68.00 211.79 L68.25 213.06 L68.50 214.51 L68.75 216.08 L69.00 217.71 L69.25 219.33 L69.50 220.86 L69.75 225.19 L70.00 227.09 L70.25 228.57 L70.50 229.57 L70.75 230.06 L71.00 230.00 L71.25 229.40 L71.50 228.29 L71.75 226.72 L72.00 224.75 L72.25 222.46 L72.50 219.95 L72.75 217.34 L73.00 214.73 L73.25 212.23 L73.50 209.96 L73.75 208.00 L74.00 206.45 L74.25 205.36 L74.50 204.79 L74.75 204.75 L75.00 205.26 L75.25 206.29 L75.50 207.79 L75.75 209.70 L76.00 211.94 L76.25 214.42 L76.50 217.02 L76.75 219.64 L77.00 222.16 L77.25 224.48 L77.50 226.50 L77.75 228.13 L78.00 229.30 L78.25 229.96 L78.50 230.08 L78.75 229.66 L79.00 228.72 L79.25 227.29 L79.50 225.44 L79.75 223.25 L80.00 220.81 L80.25 218.22 L80.50 215.59 L80.75 213.05 L81.00 210.69 L81.25 208.61 L81.50 206.92 L81.75 205.67 L82.00 204.92 L82.25 204.70 L82.50 205.03 L82.75 205.89 L83.00 207.24 L83.25 209.02 L83.50 211.16 L83.75 213.57 L84.00 216.15 L84.25 218.77 L84.50 221.34 L84.75 223.74 L85.00 225.87 L85.25 227.63 L85.50 228.96 L85.75 229.79 L86.00 230.10 L86.25 229.86 L86.50 229.09 L86.75 227.82 L87.00 226.10 L87.25 224.01 L87.50 221.64 L87.75 219.09 L88.00 216.47 L88.25 213.88 L88.50 211.45 L88.75 209.27 L89.00 207.43 L89.25 206.03 L89.50 205.11 L89.75 204.71 L90.00 204.86 L90.25 205.55 L90.50 206.74 L90.75 208.38 L91.00 210.42 L91.25 212.75 L91.50 214.44 L91.75 218.09 L92.00 221.71 L92.25 225.15 L92.50 228.26 L92.75 230.90 L93.00 232.97 L93.25 234.37 L93.50 235.04 L93.75 234.96 L94.00 234.13 L94.25 232.58 L94.50 230.39 L94.75 227.64 L95.00 224.45 L95.25 220.96 L95.50 217.32 L95.75 213.68 L96.00 210.20 L96.25 207.03 L96.50 204.30 L96.75 202.13 L97.00 200.62 L97.25 199.82 L97.50 199.77 L97.75 200.48 L98.00 201.91 L98.25 204.00 L98.50 206.67 L98.75 209.79 L99.00 213.24 L99.25 216.87 L99.50 220.52 L99.75 224.04 L100.00 227.27 L100.25 230.08 L100.50 232.35 L100.75 233.98 L101.00 234.90 L101.25 235.07 L101.50 234.49 L101.75 233.18 L102.00 231.19 L102.25 228.61 L102.50 225.55 L102.75 222.15 L103.00 218.54 L103.25 214.88 L103.50 211.33 L103.75 208.04 L104.00 205.15 L104.25 202.79 L104.50 201.05 L104.75 200.00 L105.00 199.70 L105.25 200.16 L105.50 201.36 L105.75 203.24 L106.00 205.72 L106.25 208.71 L106.50 212.07 L106.75 215.65 L107.00 219.31 L107.25 222.89 L107.50 226.23 L107.75 229.20 L108.00 231.66 L108.25 233.51 L108.50 234.67 L108.75 235.10 L109.00 234.77 L109.25 233.69 L109.50 231.92 L109.75 229.53 L110.00 226.62 L110.25 223.31 L110.50 219.76 L110.75 216.10 L111.00 212.50 L111.25 209.10 L111.50 206.06 L111.75 203.51 L112.00 201.55 L112.25 200.27 L112.50 199.72 L112.75 199.93 L113.00 200.88 L113.25 197.92 L113.50 200.93 L113.75 204.64 L114.00 208.90 L114.25 213.52 L114.50 218.31 L114.75 223.06 L115.00 227.56 L115.25 231.63 L115.50 235.10 L115.75 237.80 L116.00 239.64 L116.25 240.52 L116.50 240.42 L116.75 239.33 L117.00 237.30 L117.25 234.42 L117.50 230.82 L117.75 226.64 L118.00 222.07 L118.25 217.29 L118.50 212.52 L118.75 207.96 L119.00 203.81 L119.25 200.23 L119.50 197.39 L119.75 195.40 L120.00 194.36 L120.25 194.30 L120.50 195.22 L120.75 197.10 L121.00 199.84 L121.25 203.34 L121.50 207.43 L121.75 211.95 L122.00 216.71 L122.25 221.49 L122.50 226.10 L122.75 230.34 L123.00 234.02 L123.25 236.99 L123.50 239.13 L123.75 240.34 L124.00 240.56 L124.25 239.80 L124.50 238.08 L124.75 235.47 L125.00 232.09 L125.25 228.09 L125.50 223.62 L125.75 218.89 L126.00 214.10 L126.25 209.45 L126.50 205.14 L126.75 201.35 L127.00 198.25 L127.25 195.96 L127.50 194.60 L127.75 194.21 L128.00 194.81 L128.25 196.37 L128.50 198.84 L128.75 202.10 L129.00 206.01 L129.25 210.41 L129.50 215.11 L129.75 219.90 L130.00 224.59 L130.25 228.98 L130.50 232.86 L130.75 236.09 L131.00 238.52 L131.25 240.04 L131.50 240.60 L131.75 240.16 L132.00 238.75 L132.25 236.43 L132.50 233.30 L132.75 229.48 L133.00 225.15 L133.25 220.49 L133.50 215.69 L133.75 210.97 L134.00 206.52 L134.25 202.54 L134.50 199.20 L134.75 196.63 L135.00 190.30 L135.25 189.43 L135.50 189.76 L135.75 191.27 L136.00 193.89 L136.25 197.52 L136.50 202.00 L136.75 207.14 L137.00 212.72 L137.25 218.50 L137.50 224.23 L137.75 229.66 L138.00 234.58 L138.25 238.76 L138.50 242.03 L138.75 244.24 L139.00 245.31 L139.25 245.18 L139.50 243.87 L139.75 241.42 L140.00 237.95 L140.25 233.60 L140.50 228.55 L140.75 223.03 L141.00 217.27 L141.25 211.52 L141.50 206.01 L141.75 200.99 L142.00 196.68 L142.25 193.25 L142.50 190.85 L142.75 189.59 L143.00 189.52 L143.25 190.63 L143.50 192.90 L143.75 196.21 L144.00 200.43 L144.25 205.37 L144.50 210.82 L144.75 216.56 L145.00 222.34 L145.25 227.90 L145.50 233.01 L145.75 237.46 L146.00 241.05 L146.25 243.63 L146.50 245.08 L146.75 245.36 L147.00 244.43 L147.25 242.36 L147.50 239.21 L147.75 235.13 L148.00 230.30 L148.25 224.91 L148.50 219.20 L148.75 213.42 L149.00 207.80 L149.25 202.60 L149.50 198.03 L149.75 194.28 L150.00 191.53 L150.25 189.88 L150.50 189.41 L150.75 190.13 L151.00 192.02 L151.25 195.00 L151.50 198.93 L151.75 203.65 L152.00 208.96 L152.25 214.63 L152.50 220.42 L152.75 226.08 L153.00 231.37 L153.25 236.06 L153.50 239.96 L153.75 242.89 L154.00 244.73 L154.25 245.40 L154.50 244.87 L154.75 243.17 L155.00 240.37 L155.25 236.59 L155.50 231.98 L155.75 226.75 L156.00 221.13 L156.25 215.34 L156.50 208.26 L156.75 201.93 L157.00 196.27 L157.25 191.51 L157.50 187.85 L157.75 185.46 L158.00 184.44 L158.25 184.82 L158.50 186.60 L158.75 189.69 L159.00 193.97 L159.25 199.25 L159.50 205.31 L159.75 211.88 L160.00 218.69 L160.25 225.44 L160.50 231.85 L160.75 237.65 L161.00 242.57 L161.25 246.42 L161.50 249.03 L161.75 250.29 L162.00 250.14 L162.25 248.59 L162.50 245.71 L162.75 241.62 L163.00 236.49 L163.25 230.54 L163.50 224.04 L163.75 217.25 L164.00 210.46 L164.25 203.98 L164.50 198.06 L164.75 192.98 L165.00 188.94 L165.25 186.11 L165.50 184.62 L165.75 184.54 L166.00 185.85 L166.25 188.52 L166.50 192.42 L166.75 197.39 L167.00 203.22 L167.25 209.65 L167.50 216.41 L167.75 223.22 L168.00 229.77 L168.25 235.80 L168.50 241.04 L168.75 245.27 L169.00 248.31 L169.25 250.03 L169.50 250.35 L169.75 249.26 L170.00 246.81 L170.25 243.11 L170.50 238.30 L170.75 232.60 L171.00 226.25 L171.25 219.53 L171.50 212.71 L171.75 206.09 L172.00 199.96 L172.25 194.57 L172.50 190.16 L172.75 186.91 L173.00 184.96 L173.25 184.41 L173.50 185.26 L173.75 187.49 L174.00 191.00 L174.25 195.63 L174.50 201.20 L174.75 207.46 L175.00 214.14 L175.25 220.96 L175.50 227.63 L175.75 233.87 L176.00 239.40 L176.25 243.99 L176.50 247.44 L176.75 249.61 L177.00 250.40 L177.25 249.78 L177.50 247.77 L177.75 244.47 L178.00 240.01 L178.25 237.40 L178.50 230.23 L178.75 222.51 L179.00 214.57 L179.25 206.76 L179.50 199.40 L179.75 192.81 L180.00 187.27 L180.25 183.02 L180.50 180.24 L180.75 179.04 L181.00 179.49 L181.25 181.56 L181.50 185.16 L181.75 190.14 L182.00 196.28 L182.25 203.33 L182.50 210.98 L182.75 218.90 L183.00 226.76 L183.25 234.22 L183.50 240.96 L183.75 246.69 L184.00 251.17 L184.25 254.21 L184.50 255.67 L184.75 255.50 L185.00 253.70 L185.25 250.34 L185.50 245.58 L185.75 239.61 L186.00 232.70 L186.25 225.12 L186.50 217.22 L186.75 209.33 L187.00 201.78 L187.25 194.90 L187.50 188.98 L187.75 184.28 L188.00 180.99 L188.25 179.26 L188.50 179.16 L188.75 180.69 L189.00 183.80 L189.25 188.34 L189.50 194.12 L189.75 200.90 L190.00 208.38 L190.25 216.25 L190.50 224.17 L190.75 231.80 L191.00 238.81 L191.25 244.91 L191.50 249.83 L191.75 253.37 L192.00 255.36 L192.25 255.74 L192.50 254.47 L192.75 251.62 L193.00 247.31 L193.25 241.72 L193.50 235.09 L193.75 227.70 L194.00 219.87 L194.25 211.94 L194.50 204.24 L194.75 197.10 L195.00 190.83 L195.25 185.70 L195.50 181.92 L195.75 179.66 L196.00 179.01 L196.25 180.00 L196.50 182.59 L196.75 186.67 L197.00 192.07 L197.25 198.55 L197.50 205.83 L197.75 213.61 L198.00 221.55 L198.25 229.31 L198.50 236.56 L198.75 243.00 L199.00 248.34 L199.25 252.35 L199.50 254.88 L199.75 255.80 L200.00 251.25 L200.25 249.15 L200.50 245.70 L200.75 241.04 L201.00 235.37 L201.25 228.93 L201.50 221.99 L201.75 214.86 L202.00 207.84 L202.25 201.23 L202.50 195.31 L202.75 190.33 L203.00 186.51 L203.25 184.01 L203.50 182.94 L203.75 183.34 L204.00 185.20 L204.25 188.43 L204.50 192.91 L204.75 198.43 L205.00 204.76 L205.25 211.63 L205.50 218.75 L205.75 225.81 L206.00 232.51 L206.25 238.57 L206.50 243.72 L206.75 247.74 L207.00 250.47 L207.25 251.78 L207.50 251.63 L207.75 250.01 L208.00 247.00 L208.25 242.72 L208.50 237.36 L208.75 231.14 L209.00 224.34 L209.25 217.24 L209.50 210.15 L209.75 203.37 L210.00 197.19 L210.25 191.87 L210.50 187.64 L210.75 184.69 L211.00 183.13 L211.25 183.04 L211.50 184.42 L211.75 187.21 L212.00 191.29 L212.25 196.48 L212.50 202.57 L212.75 209.30 L213.00 216.37 L213.25 223.48 L213.50 230.34 L213.75 236.64 L214.00 242.12 L214.25 246.54 L214.50 249.71 L214.75 251.51 L215.00 251.85 L215.25 250.71 L215.50 248.15 L215.75 244.27 L216.00 239.25 L216.25 233.29 L216.50 226.65 L216.75 219.62 L217.00 212.49 L217.25 205.58 L217.50 199.16 L217.75 193.53 L218.00 188.92 L218.25 185.52 L218.50 183.49 L218.75 182.91 L219.00 183.80 L219.25 186.13 L219.50 189.80 L219.75 194.64 L220.00 200.46 L220.25 207.00 L220.50 213.99 L220.75 221.12 L221.00 228.10 L221.25 234.62 L221.50 240.40 L221.75 242.21 L222.00 245.44 L222.25 247.46 L222.50 248.20 L222.75 247.62 L223.00 245.75 L223.25 242.67 L223.50 238.50 L223.75 233.44 L224.00 227.69 L224.25 221.50 L224.50 215.13 L224.75 208.86 L225.00 202.96 L225.25 197.67 L225.50 193.23 L225.75 189.82 L226.00 187.59 L226.25 186.63 L226.50 186.99 L226.75 188.65 L227.00 191.54 L227.25 195.53 L227.50 200.46 L227.75 206.11 L228.00 212.25 L228.25 218.60 L228.50 224.91 L228.75 230.89 L229.00 236.30 L229.25 240.90 L229.50 244.49 L229.75 246.92 L230.00 248.10 L230.25 247.96 L230.50 246.51 L230.75 243.82 L231.00 240.00 L231.25 235.22 L231.50 229.67 L231.75 223.60 L232.00 217.26 L232.25 210.93 L232.50 204.87 L232.75 199.35 L233.00 194.61 L233.25 190.83 L233.50 188.20 L233.75 186.81 L234.00 186.73 L234.25 187.96 L234.50 190.45 L234.75 194.09 L235.00 198.73 L235.25 204.16 L235.50 210.17 L235.75 216.48 L236.00 222.83 L236.25 228.95 L236.50 234.57 L236.75 239.47 L237.00 243.41 L237.25 246.25 L237.50 247.85 L237.75 248.15 L238.00 247.14 L238.25 244.85 L238.50 241.39 L238.75 236.91 L239.00 231.59 L239.25 225.66 L239.50 219.38 L239.75 213.02 L240.00 206.84 L240.25 201.12 L240.50 196.09 L240.75 191.97 L241.00 188.94 L241.25 187.13 L241.50 186.61 L241.75 187.40 L242.00 189.48 L242.25 192.76 L242.50 197.08 L242.75 202.28 L243.00 208.12 L243.25 214.36 L243.50 220.26 L243.75 225.62 L244.00 230.62 L244.25 235.06 L244.50 238.75 L244.75 241.52 L245.00 243.26 L245.25 243.90 L245.50 243.40 L245.75 241.79 L246.00 239.14 L246.25 235.56 L246.50 231.20 L246.75 226.25 L247.00 220.93 L247.25 215.45 L247.50 210.06 L247.75 204.98 L248.00 200.43 L248.25 196.61 L248.50 193.67 L248.75 191.75 L249.00 190.93 L249.25 191.24 L249.50 192.67 L249.75 195.15 L250.00 198.59 L250.25 202.83 L250.50 207.69 L250.75 212.97 L251.00 218.44 L251.25 223.86 L251.50 229.01 L251.75 233.66 L252.00 237.61 L252.25 240.71 L252.50 242.80 L252.75 243.81 L253.00 243.69 L253.25 242.45 L253.50 240.13 L253.75 236.85 L254.00 232.73 L254.25 227.96 L254.50 222.73 L254.75 217.28 L255.00 211.83 L255.25 206.62 L255.50 201.87 L255.75 197.79 L256.00 194.54 L256.25 192.27 L256.50 191.08 L256.75 191.01 L257.00 192.07 L257.25 194.21 L257.50 197.34 L257.75 201.33 L258.00 206.01 L258.25 211.18 L258.50 216.61 L258.75 222.07 L259.00 227.34 L259.25 232.18 L259.50 236.38 L259.75 239.78 L260.00 242.22 L260.25 243.60 L260.50 243.86 L260.75 242.99 L261.00 241.02 L261.25 238.04 L261.50 234.18 L261.75 229.61 L262.00 224.51 L262.25 219.11 L262.50 213.63 L262.75 208.32 L263.00 203.39 L263.25 199.06 L263.50 195.52 L263.75 192.91 L264.00 191.35 L264.25 190.91 L264.50 191.59 L264.75 193.38 L265.00 196.20 L265.25 202.36 L265.50 206.21 L265.75 210.53 L266.00 215.15 L266.25 219.86 L266.50 224.47 L266.75 228.78 L267.00 232.60 L267.25 235.77 L267.50 238.15 L267.75 239.65 L268.00 240.20 L268.25 239.77 L268.50 238.39 L268.75 236.10 L269.00 233.02 L269.25 229.27 L269.50 225.02 L269.75 220.43 L270.00 215.72 L270.25 211.08 L270.50 206.71 L270.75 202.80 L271.00 199.51 L271.25 196.98 L271.50 195.33 L271.75 194.63 L272.00 194.89 L272.25 196.12 L272.50 198.26 L272.75 201.21 L273.00 204.86 L273.25 209.05 L273.50 213.59 L273.75 218.29 L274.00 222.96 L274.25 227.39 L274.50 231.39 L274.75 234.79 L275.00 237.45 L275.25 239.26 L275.50 240.12 L275.75 240.02 L276.00 238.95 L276.25 236.96 L276.50 234.13 L276.75 230.59 L277.00 226.48 L277.25 221.99 L277.50 217.30 L277.75 212.61 L278.00 208.13 L278.25 204.04 L278.50 200.53 L278.75 197.73 L279.00 195.78 L279.25 194.75 L279.50 194.69 L279.75 195.61 L280.00 197.45 L280.25 200.14 L280.50 203.58 L280.75 207.60 L281.00 212.05 L281.25 216.72 L281.50 221.42 L281.75 225.95 L282.00 230.11 L282.25 233.73 L282.50 236.66 L282.75 238.76 L283.00 239.94 L283.25 240.16 L283.50 239.41 L283.75 237.72 L284.00 235.16 L284.25 231.84 L284.50 227.90 L284.75 223.52 L285.00 218.87 L285.25 214.16 L285.50 209.59 L285.75 205.35 L286.00 201.62 L286.25 198.58 L286.50 196.33 L286.75 194.99 L287.00 198.30 L287.25 198.80 L287.50 200.09 L287.75 202.12 L288.00 204.80 L288.25 208.02 L288.50 211.64 L288.75 215.51 L289.00 219.46 L289.25 223.32 L289.50 226.93 L289.75 230.13 L290.00 232.79 L290.25 234.79 L290.50 236.04 L290.75 236.50 L291.00 236.14 L291.25 234.98 L291.50 233.07 L291.75 230.49 L292.00 227.35 L292.25 223.78 L292.50 219.94 L292.75 215.99 L293.00 212.11 L293.25 208.45 L293.50 205.17 L293.75 202.41 L294.00 200.30 L294.25 198.91 L294.50 198.32 L294.75 198.54 L295.00 199.57 L295.25 201.36 L295.50 203.84 L295.75 206.90 L296.00 210.40 L296.25 214.21 L296.50 218.15 L296.75 222.06 L297.00 225.77 L297.25 229.12 L297.50 231.97 L297.75 234.20 L298.00 235.71 L298.25 236.44 L298.50 236.35 L298.75 235.45 L299.00 233.79 L299.25 231.42 L299.50 228.45 L299.75 225.01 L300.00 221.24 L300.25 217.31 L300.50 213.39 L300.75 209.63 L301.00 206.21 L301.25 203.26 L301.50 200.93 L301.75 199.29 L302.00 198.43 L302.25 198.38 L302.50 199.14 L302.75 200.69 L303.00 202.94 L303.25 205.82 L303.50 209.19 L303.75 212.91 L304.00 216.83 L304.25 220.77 L304.50 224.56 L304.75 228.05 L305.00 231.08 L305.25 233.53 L305.50 235.29 L305.75 236.28 L306.00 236.47 L306.25 235.84 L306.50 234.42 L306.75 232.28 L307.00 229.50 L307.25 226.20 L307.50 222.52 L307.75 218.63 L308.00 214.68 L308.25 210.85 L308.50 207.30 L308.75 206.88 L309.00 204.85 L309.25 203.36 L309.50 202.46 L309.75 202.20 L310.00 202.60 L310.25 203.62 L310.50 205.24 L310.75 207.37 L311.00 209.94 L311.25 212.82 L311.50 215.90 L311.75 219.04 L312.00 222.11 L312.25 224.98 L312.50 227.53 L312.75 229.65 L313.00 231.24 L313.25 232.23 L313.50 232.60 L313.75 232.31 L314.00 231.39 L314.25 229.87 L314.50 227.82 L314.75 225.32 L315.00 222.48 L315.25 219.42 L315.50 216.28 L315.75 213.19 L316.00 210.27 L316.25 207.67 L316.50 205.47 L316.75 203.79 L317.00 202.69 L317.25 202.22 L317.50 202.39 L317.75 203.21 L318.00 204.64 L318.25 206.61 L318.50 209.04 L318.75 211.83 L319.00 214.86 L319.25 217.99 L319.50 221.11 L319.75 224.06 L320.00 226.73 L320.25 229.00 L320.50 230.77 L320.75 231.97 L321.00 232.55 L321.25 232.48 L321.50 231.77 L321.75 230.44 L322.00 228.55 L322.25 226.19 L322.50 223.45 L322.75 220.46 L323.00 217.33 L323.25 214.21 L323.50 211.22 L323.75 208.49 L324.00 206.15 L324.25 204.29 L324.50 202.99 L324.75 202.30 L325.00 202.26 L325.25 202.87 L325.50 204.10 L325.75 205.90 L326.00 208.19 L326.25 210.87 L326.50 213.83 L326.75 216.95 L327.00 220.08 L327.25 223.10 L327.50 225.88 L327.75 228.29 L328.00 230.24 L328.25 231.64 L328.50 232.43 L328.75 232.58 L329.00 232.08 L329.25 230.95 L329.50 229.24 L329.75 227.03 L330.00 224.40 L330.25 221.48 L330.50 218.07 L330.75 215.92 L331.00 213.84 L331.25 211.90 L331.50 210.20 L331.75 208.81 L332.00 207.79 L332.25 207.18 L332.50 207.00 L332.75 207.27 L333.00 207.97 L333.25 209.08 L333.50 210.54 L333.75 212.29 L334.00 214.27 L334.25 216.37 L334.50 218.52 L334.75 220.63 L335.00 222.59 L335.25 224.33 L335.50 225.78 L335.75 226.87 L336.00 227.55 L336.25 227.80 L336.50 227.60 L336.75 226.97 L337.00 225.93 L337.25 224.53 L337.50 222.82 L337.75 220.87 L338.00 218.78 L338.25 216.63 L338.50 214.52 L338.75 212.52 L339.00 210.74 L339.25 209.24 L339.50 208.09 L339.75 207.33 L340.00 207.01 L340.25 207.13 L340.50 207.69 L340.75 208.67 L341.00 210.02 L341.25 211.68 L341.50 213.59 L341.75 215.66 L342.00 217.81 L342.25 219.94 L342.50 221.96 L342.75 223.78 L343.00 225.33 L343.25 226.55 L343.50 227.37 L343.75 227.77 L344.00 227.72 L344.25 227.23 L344.50 226.32 L344.75 225.03 L345.00 223.42 L345.25 221.54 L345.50 219.49 L345.75 217.35 L346.00 215.21 L346.25 213.17 L346.50 211.31 L346.75 209.70 L347.00 208.43 L347.25 207.54 L347.50 207.07 L347.75 207.04 L348.00 207.46 L348.25 208.30 L348.50 209.53 L348.75 211.10 L349.00 212.93 L349.25 214.96 L349.50 217.09 L349.75 219.23 L350.00 221.30 L350.25 223.20 L350.50 224.85 L350.75 226.18 L351.00 227.14 L351.25 227.68 L351.50 227.78 L351.75 227.44 L352.00 226.31 L352.25 225.19 L352.50 223.73 L352.75 222.01 L353.00 220.08 L353.25 218.04 L353.50 215.98 L353.75 213.97 L354.00 212.11 L354.25 210.48 L354.50 209.14 L354.75 208.16 L355.00 207.57 L355.25 207.40 L355.50 207.66 L355.75 208.34 L356.00 209.40 L356.25 210.80 L356.50 212.49 L356.75 214.39 L357.00 216.41 L357.25 218.48 L357.50 220.50 L357.75 222.39 L358.00 224.07 L358.25 225.46 L358.50 226.50 L358.75 227.16 L359.00 227.40 L359.25 227.21 L359.50 226.60 L359.75 225.60 L360.00 224.25 L360.25 222.61 L360.50 220.74 L360.75 218.73 L361.00 216.66 L361.25 214.63 L361.50 212.71 L361.75 211.00 L362.00 209.55 L362.25 208.45 L362.50 207.72 L362.75 207.41 L363.00 207.53 L363.25 208.07 L363.50 209.00 L363.75 210.30 L364.00 211.90 L364.25 213.74 L364.50 215.73 L364.75 217.79 L365.00 219.84 L365.25 221.78 L365.50 223.54 L365.75 225.03 L366.00 226.20 L366.25 226.99 L366.50 227.37 L366.75 227.32 L367.00 226.85 L367.25 225.98 L367.50 224.74 L367.75 223.18 L368.00 221.38 L368.25 219.41 L368.50 217.35 L368.75 215.30 L369.00 213.33 L369.25 211.54 L369.50 210.00 L369.75 208.77 L370.00 207.92 L370.25 207.47 L370.50 207.44 L370.75 207.84 L371.00 208.65 L371.25 209.83 L371.50 211.34 L371.75 213.10 L372.00 215.05 L372.25 217.10 L372.50 219.16 L372.75 221.15 L373.00 222.98 L373.25 224.56 L373.50 225.85 L373.75 226.39 L374.00 226.89 L374.25 226.98 L374.50 226.67 L374.75 225.96 L375.00 224.88 L375.25 223.48 L375.50 221.82 L375.75 219.98 L376.00 218.02 L376.25 216.03 L376.50 214.11 L376.75 212.33 L377.00 210.76 L377.25 209.47 L377.50 208.53 L377.75 207.96 L378.00 207.80 L378.25 208.05 L378.50 208.70 L378.75 209.72 L379.00 211.07 L379.25 212.69 L379.50 214.51 L379.75 216.45 L380.00 218.44 L380.25 220.38 L380.50 222.19 L380.75 223.80 L381.00 225.13 L381.25 226.14 L381.50 226.77 L381.75 227.00 L382.00 226.82 L382.25 226.24 L382.50 225.28 L382.75 223.98 L383.00 222.40 L383.25 220.61 L383.50 218.68 L383.75 216.69 L384.00 214.74 L384.25 212.90 L384.50 211.25 L384.75 209.87 L385.00 208.80 L385.25 208.11 L385.50 207.81 L385.75 207.92 L386.00 208.44 L386.25 209.34 L386.50 210.58 L386.75 212.12 L387.00 213.88 L387.25 215.79 L387.50 217.78 L387.75 219.74 L388.00 221.61 L388.25 223.29 L388.50 224.72 L388.75 225.84 L389.00 226.60 L389.25 226.97 L389.50 226.92 L389.75 226.47 L390.00 225.64 L390.25 224.44 L390.50 222.95 L390.75 221.22 L391.00 219.33 L391.25 217.36 L391.50 215.38 L391.75 213.50 L392.00 211.78 L392.25 210.30 L392.50 209.12 L392.75 208.30 L393.00 207.86 L393.25 207.84 L393.50 208.22 L393.75 209.00 L394.00 210.13 L394.25 211.58 L394.50 213.27 L394.75 215.15 L395.00 217.11 L395.25 219.09 L395.50 220.85 L395.75 222.53 L396.00 223.99 L396.25 225.17 L396.50 226.02 L396.75 226.50 L397.00 226.59 L397.25 226.28 L397.50 225.60 L397.75 224.57 L398.00 223.23 L398.25 221.64 L398.50 219.87 L398.75 217.99 L399.00 216.09 L399.25 214.25 L399.50 212.54 L399.75 211.03 L400.00 209.80 L400.25 208.90 L400.50 208.36 L400.75 208.20 L401.00 208.44 L401.25 209.06 L401.50 210.04 L401.75 211.33 L402.00 212.88 L402.25 214.63 L402.50 216.49 L402.75 218.39 L403.00 220.25 L403.25 221.99 L403.50 223.53 L403.75 224.81 L404.00 225.77 L404.25 226.38 L404.50 226.60 L404.75 226.43 L405.00 225.87 L405.25 224.95 L405.50 223.70 L405.75 222.19 L406.00 220.47 L406.25 218.62 L406.50 216.72 L406.75 214.85 L407.00 213.09 L407.25 211.51 L407.50 210.18 L407.75 209.16 L408.00 208.50 L408.25 208.21 L408.50 208.32 L408.75 208.81 L409.00 209.68 L409.25 210.87 L409.50 212.34 L409.75 214.03 L410.00 215.86 L410.25 217.76 L410.50 219.64 L410.75 221.43 L411.00 223.04 L411.25 224.42 L411.50 225.49 L411.75 226.22 L412.00 226.57 L412.25 226.53 L412.50 226.10 L412.75 225.29 L413.00 224.15 L413.25 222.72 L413.50 221.06 L413.75 219.25 L414.00 217.36 L414.25 215.47 L414.50 213.66 L414.75 212.01 L415.00 210.59 L415.25 209.46 L415.50 208.68 L415.75 208.26 L416.00 208.24 L416.25 208.61 L416.50 209.35 L416.75 210.44 L417.00 211.82 L417.25 213.66 L417.50 215.36 L417.75 217.14 L418.00 218.93 L418.25 220.66 L418.50 222.25 L418.75 223.63 L419.00 224.75 L419.25 225.55 L419.50 226.00 L419.75 226.09 L420.00 225.80 L420.25 225.15 L420.50 224.18 L420.75 222.91 L421.00 221.41 L421.25 219.73 L421.50 217.96 L421.75 216.16 L422.00 214.42 L422.25 212.80 L422.50 211.38 L422.75 210.22 L423.00 209.36 L423.25 208.85 L423.50 208.70 L423.75 208.93 L424.00 209.51 L424.25 210.44 L424.50 211.66 L424.75 213.13 L425.00 214.78 L425.25 216.54 L425.50 218.34 L425.75 220.10 L426.00 221.74 L426.25 223.20 L426.50 224.41 L426.75 225.32 L427.00 225.89 L427.25 226.10 L427.50 225.94 L427.75 225.41 L428.00 224.54 L428.25 223.36 L428.50 221.93 L428.75 220.31 L429.00 218.56 L429.25 216.76 L429.50 214.99 L429.75 213.32 L430.00 211.83 L430.25 210.57 L430.50 209.61 L430.75 208.98 L431.00 208.71 L431.25 208.81 L431.50 209.28 L431.75 210.10 L432.00 211.22 L432.25 212.62 L432.50 214.21 L432.75 215.95 L433.00 217.74 L433.25 219.52 L433.50 221.21 L433.75 222.74 L434.00 224.04 L434.25 225.05 L434.50 225.74 L434.75 226.07 L435.00 226.03 L435.25 225.62 L435.50 224.86 L435.75 223.78 L436.00 222.43 L436.25 220.87 L436.50 219.15 L436.75 217.36 L437.00 215.57 L437.25 213.86 L437.50 212.30 L437.75 210.96 L438.00 209.90 L438.25 209.15 L438.50 208.76 L438.75 208.74 L439.00 209.56 L439.25 210.22 L439.50 211.19 L439.75 212.43 L440.00 213.88 L440.25 215.47 L440.50 217.15 L440.75 218.85 L441.00 220.47 L441.25 221.97 L441.50 223.27 L441.75 224.33 L442.00 225.08 L442.25 225.51 L442.50 225.59 L442.75 225.32 L443.00 224.71 L443.25 223.79 L443.50 222.59 L443.75 221.18 L444.00 219.60 L444.25 217.93 L444.50 216.23 L444.75 214.59 L445.00 213.07 L445.25 211.73 L445.50 210.63 L445.75 209.82 L446.00 209.34 L446.25 209.20 L446.50 209.41 L446.75 209.97 L447.00 210.84 L447.25 211.99 L447.50 213.37 L447.75 214.93 L448.00 216.59 L448.25 218.29 L448.50 219.94 L448.75 221.49 L449.00 222.87 L449.25 224.01 L449.50 224.86 L449.75 225.40 L450.00 225.60 L450.25 225.45 L450.50 224.95 L450.75 224.13 L451.00 223.02 L451.25 221.67 L451.50 220.14 L451.75 218.49 L452.00 216.80 L452.25 215.13 L452.50 213.56 L452.75 212.15 L453.00 210.97 L453.25 210.06 L453.50 209.46 L453.75 209.21 L454.00 209.30 L454.25 209.75 L454.50 210.52 L454.75 211.58 L455.00 212.89 L455.25 214.40 L455.50 216.03 L455.75 217.72 L456.00 219.40 L456.25 220.99 L456.50 222.43 L456.75 223.66 L457.00 224.61 L457.25 225.26 L457.50 225.57 L457.75 225.54 L458.00 225.15 L458.25 224.43 L458.50 223.42 L458.75 222.14 L459.00 220.67 L459.25 219.05 L459.50 217.36 L459.75 215.68 L460.00 214.06 L460.25 212.60 L460.50 211.33 L460.75 210.76 L461.00 210.10 L461.25 209.75 L461.50 209.73 L461.75 210.04 L462.00 210.66 L462.25 211.57 L462.50 212.73 L462.75 214.09 L463.00 215.59 L463.25 217.17 L463.50 218.76 L463.75 220.29 L464.00 221.69 L464.25 222.92 L464.50 223.90 L464.75 224.61 L465.00 225.01 L465.25 225.09 L465.50 224.83 L465.75 224.26 L466.00 223.40 L466.25 222.28 L466.50 220.95 L466.75 219.47 L467.00 217.90 L467.25 216.30 L467.50 214.76 L467.75 213.33 L468.00 212.07 L468.25 211.04 L468.50 210.29 L468.75 209.83 L469.00 209.70 L469.25 209.90 L469.50 210.42 L469.75 211.24 L470.00 212.32 L470.25 213.62 L470.50 215.08 L470.75 216.64 L471.00 218.23 L471.25 219.79 L471.50 221.24 L471.75 222.53 L472.00 223.60 L472.25 224.41 L472.50 224.91 L472.75 225.10 L473.00 224.95 L473.25 224.49 L473.50 223.72 L473.75 222.68 L474.00 221.41 L474.25 219.97 L474.50 218.42 L474.75 216.83 L475.00 215.27 L475.25 213.79 L475.50 212.47 L475.75 211.36 L476.00 210.51 L476.25 209.95 L476.50 209.71 L476.75 209.80 L477.00 210.21 L477.25 210.94 L477.50 211.93 L477.75 213.17 L478.00 214.58 L478.25 216.11 L478.50 217.70 L478.75 219.28 L479.00 220.77 L479.25 222.12 L479.50 223.27 L479.75 224.17 L480.00 224.78 L480.25 225.07 L480.50 225.04 L480.75 224.68 L481.00 224.01 L481.25 223.05 L481.50 221.85 L481.75 220.47 L482.00 218.95 L482.25 217.36 L482.50 215.87 L482.75 214.43 L483.00 213.12 L483.25 212.00 L483.50 211.10 L483.75 210.48 L484.00 210.15 L484.25 210.13 L484.50 210.42 L484.75 211.01 L485.00 211.88 L485.25 212.97 L485.50 214.26 L485.75 215.69 L486.00 217.18 L486.25 218.69 L486.50 220.14 L486.75 221.47 L487.00 222.63 L487.25 223.57 L487.50 224.24 L487.75 224.62 L488.00 224.69 L488.25 224.45 L488.50 223.91 L488.75 223.09 L489.00 222.02 L489.25 220.76 L489.50 219.36 L489.75 217.87 L490.00 216.36 L490.25 214.90 L490.50 213.54 L490.75 212.35 L491.00 211.37 L491.25 210.65 L491.50 210.22 L491.75 210.10 L492.00 210.29 L492.25 210.78 L492.50 211.56 L492.75 212.58 L493.00 213.82 L493.25 215.20 L493.50 216.68 L493.75 218.19 L494.00 219.66 L494.25 221.04 L494.50 222.27 L494.75 223.28 L495.00 224.04 L495.25 224.52 L495.50 224.70 L495.75 224.56 L496.00 224.12 L496.25 223.39 L496.50 222.40 L496.75 221.20 L497.00 219.84 L497.25 218.37 L497.50 216.86 L497.75 215.38 L498.00 213.98 L498.25 212.72 L498.50 211.67 L498.75 210.86 L499.00 210.33 L499.25 210.11 L499.50 210.19 L499.75 210.59 L500.00 211.27 L500.25 212.22 L500.50 213.39 L500.75 214.73 L501.00 216.18 L501.25 217.69 L501.50 219.18 L501.75 220.60 L502.00 221.88 L502.25 222.97 L502.50 223.82 L502.75 224.40 L503.00 224.68 L503.25 224.64 L503.50 224.30" stroke="#008000"/>
<path d="M48.50 211.43 L48.75 210.50 L49.00 209.85 L49.25 209.53 L49.50 209.55 L49.75 209.90 L50.00 210.58 L50.25 211.54 L50.50 212.76 L50.75 214.17 L51.00 215.72 L51.25 217.35 L51.50 218.97 L51.75 220.53 L52.00 221.95 L52.25 223.18 L52.50 224.17 L52.75 224.86 L53.00 225.24 L53.25 225.28 L53.50 224.98 L53.75 224.36 L54.00 223.44 L54.25 222.26 L54.50 220.88 L54.75 219.34 L55.00 217.73 L55.25 216.10 L55.50 214.52 L55.75 213.07 L56.00 211.80 L56.25 210.78 L56.50 210.03 L56.75 209.60 L57.00 209.51 L57.25 209.75 L57.50 210.32 L57.75 211.19 L58.00 212.33 L58.25 213.68 L58.50 215.19 L58.75 216.80 L59.00 218.43 L59.25 220.02 L59.50 221.50 L59.75 222.80 L60.00 223.87 L60.25 224.66 L60.50 225.15 L60.75 225.30 L61.00 225.11 L61.25 224.60 L61.50 223.78 L61.75 222.68 L62.00 221.36 L62.25 219.87 L62.50 218.27 L62.75 216.64 L63.00 215.04 L63.25 213.54 L63.50 212.20 L63.75 211.09 L64.00 210.25 L64.25 209.71 L64.50 209.50 L64.75 209.63 L65.00 210.09 L65.25 210.87 L65.50 211.92 L65.75 213.21 L66.00 214.68 L66.25 216.26 L66.50 217.89 L66.75 219.50 L67.00 221.02 L67.25 222.39 L67.50 223.54 L67.75 224.43 L68.00 225.02 L68.25 225.29 L68.50 225.21 L68.75 224.81 L69.00 224.08 L69.25 223.07 L69.50 221.82 L69.75 222.19 L70.00 219.67 L70.25 217.05 L70.50 214.45 L70.75 211.97 L71.00 209.72 L71.25 207.81 L71.50 206.30 L71.75 205.27 L72.00 204.76 L72.25 204.78 L72.50 205.35 L72.75 206.43 L73.00 207.98 L73.25 209.94 L73.50 212.21 L73.75 214.70 L74.00 217.31 L74.25 219.93 L74.50 222.43 L74.75 224.72 L75.00 226.70 L75.25 228.28 L75.50 229.39 L75.75 230.00 L76.00 230.06 L76.25 229.58 L76.50 228.58 L76.75 227.11 L77.00 225.22 L77.25 222.99 L77.50 220.52 L77.75 217.93 L78.00 215.31 L78.25 212.77 L78.50 210.44 L78.75 208.40 L79.00 206.75 L79.25 205.56 L79.50 204.87 L79.75 204.71 L80.00 205.10 L80.25 206.02 L80.50 207.42 L80.75 209.24 L81.00 211.42 L81.25 213.85 L81.50 216.44 L81.75 219.06 L82.00 221.62 L82.25 223.99 L82.50 226.08 L82.75 227.80 L83.00 229.08 L83.25 229.85 L83.50 230.10 L83.75 229.80 L84.00 228.97 L84.25 227.65 L84.50 225.89 L84.75 223.76 L85.00 221.37 L85.25 218.80 L85.50 216.17 L85.75 213.60 L86.00 211.19 L86.25 209.04 L86.50 207.26 L86.75 205.90 L87.00 205.04 L87.25 204.70 L87.50 204.91 L87.75 205.65 L88.00 206.90 L88.25 208.59 L88.50 210.66 L88.75 213.02 L89.00 215.56 L89.25 218.19 L89.50 220.78 L89.75 223.22 L90.00 225.42 L90.25 227.27 L90.50 228.71 L90.75 229.65 L91.00 230.08 L91.25 229.96 L91.50 233.99 L91.75 232.37 L92.00 230.11 L92.25 227.30 L92.50 224.07 L92.75 220.56 L93.00 216.91 L93.25 213.28 L93.50 209.83 L93.75 206.70 L94.00 204.03 L94.25 201.93 L94.50 200.49 L94.75 199.78 L95.00 199.81 L95.25 200.60 L95.50 202.11 L95.75 204.27 L96.00 207.00 L96.25 210.16 L96.50 213.64 L96.75 217.28 L97.00 220.92 L97.25 224.41 L97.50 227.61 L97.75 230.36 L98.00 232.56 L98.25 234.12 L98.50 234.96 L98.75 235.04 L99.00 234.38 L99.25 232.99 L99.50 230.93 L99.75 228.29 L100.00 225.19 L100.25 221.75 L100.50 218.13 L100.75 214.48 L101.00 210.95 L101.25 207.70 L101.50 204.86 L101.75 202.56 L102.00 200.89 L102.25 199.93 L102.50 199.72 L102.75 200.26 L103.00 201.53 L103.25 203.49 L103.50 206.03 L103.75 209.07 L104.00 212.46 L104.25 216.06 L104.50 219.72 L104.75 223.27 L105.00 226.58 L105.25 229.50 L105.50 231.90 L105.75 233.68 L106.00 234.76 L106.25 235.10 L106.50 234.68 L106.75 233.53 L107.00 231.68 L107.25 229.23 L107.50 226.27 L107.75 222.93 L108.00 219.35 L108.25 215.69 L108.50 212.11 L108.75 208.74 L109.00 205.75 L109.25 203.26 L109.50 201.37 L109.75 200.17 L110.00 199.71 L110.25 200.00 L110.50 201.03 L110.75 202.76 L111.00 205.12 L111.25 208.01 L111.50 211.30 L111.75 214.84 L112.00 218.50 L112.25 222.11 L112.50 225.52 L112.75 228.58 L113.00 231.16 L113.25 238.05 L113.50 239.79 L113.75 240.56 L114.00 240.34 L114.25 239.15 L114.50 237.02 L114.75 234.06 L115.00 230.38 L115.25 226.15 L115.50 221.54 L115.75 216.76 L116.00 212.00 L116.25 207.48 L116.50 203.38 L116.75 199.88 L117.00 197.12 L117.25 195.24 L117.50 194.30 L117.75 194.35 L118.00 195.39 L118.25 197.36 L118.50 200.19 L118.75 203.76 L119.00 207.91 L119.25 212.47 L119.50 217.24 L119.75 222.01 L120.00 226.59 L120.25 230.78 L120.50 234.39 L120.75 237.27 L121.00 239.31 L121.25 240.41 L121.50 240.53 L121.75 239.65 L122.00 237.83 L122.25 235.13 L122.50 231.68 L122.75 227.61 L123.00 223.11 L123.25 218.36 L123.50 213.57 L123.75 208.95 L124.00 204.69 L124.25 200.97 L124.50 197.95 L124.75 195.76 L125.00 194.50 L125.25 194.22 L125.50 194.93 L125.75 196.60 L126.00 199.16 L126.25 202.50 L126.50 206.48 L126.75 210.92 L127.00 215.64 L127.25 220.43 L127.50 225.10 L127.75 229.44 L128.00 233.26 L128.25 236.40 L128.50 238.73 L128.75 240.15 L129.00 240.60 L129.25 240.05 L129.50 238.54 L129.75 236.12 L130.00 232.90 L130.25 229.02 L130.50 224.65 L130.75 219.96 L131.00 215.16 L131.25 210.46 L131.50 206.06 L131.75 202.14 L132.00 198.87 L132.25 196.39 L132.50 194.82 L132.75 194.21 L133.00 194.59 L133.25 195.94 L133.50 198.22 L133.75 201.31 L134.00 205.09 L134.25 209.40 L134.50 214.05 L134.75 218.84 L135.00 224.85 L135.25 230.24 L135.50 235.08 L135.75 239.17 L136.00 242.33 L136.25 244.42 L136.50 245.35 L136.75 245.09 L137.00 243.65 L137.25 241.08 L137.50 237.50 L137.75 233.07 L138.00 227.96 L138.25 222.40 L138.50 216.63 L138.75 210.89 L139.00 205.43 L139.25 200.48 L139.50 196.25 L139.75 192.93 L140.00 190.65 L140.25 189.52 L140.50 189.58 L140.75 190.83 L141.00 193.22 L141.25 196.64 L141.50 200.94 L141.75 205.95 L142.00 211.45 L142.25 217.21 L142.50 222.97 L142.75 228.49 L143.00 233.54 L143.25 237.90 L143.50 241.39 L143.75 243.84 L144.00 245.17 L144.25 245.31 L144.50 244.26 L144.75 242.06 L145.00 238.80 L145.25 234.63 L145.50 229.72 L145.75 224.29 L146.00 218.56 L146.25 212.78 L146.50 207.20 L146.75 202.06 L147.00 197.57 L147.25 193.93 L147.50 191.29 L147.75 189.77 L148.00 189.43 L148.25 190.28 L148.50 192.30 L148.75 195.39 L149.00 199.42 L149.25 204.22 L149.50 209.58 L149.75 215.28 L150.00 221.06 L150.25 226.69 L150.50 231.93 L150.75 236.54 L151.00 240.33 L151.25 243.15 L151.50 244.86 L151.75 245.40 L152.00 244.74 L152.25 242.91 L152.50 240.00 L152.75 236.11 L153.00 231.43 L153.25 226.14 L153.50 220.49 L153.75 214.70 L154.00 209.02 L154.25 203.71 L154.50 198.98 L154.75 195.03 L155.00 192.05 L155.25 190.15 L155.50 189.41 L155.75 189.87 L156.00 191.50 L156.25 194.25 L156.50 194.51 L156.75 199.89 L157.00 206.02 L157.25 212.63 L157.50 219.45 L157.75 226.18 L158.00 232.53 L158.25 238.24 L158.50 243.06 L158.75 246.78 L159.00 249.24 L159.25 250.34 L159.50 250.04 L159.75 248.34 L160.00 245.31 L160.25 241.09 L160.50 235.86 L160.75 229.84 L161.00 223.29 L161.25 216.49 L161.50 209.72 L161.75 203.29 L162.00 197.45 L162.25 192.47 L162.50 188.56 L162.75 185.88 L163.00 184.54 L163.25 184.61 L163.50 186.09 L163.75 188.90 L164.00 192.93 L164.25 198.00 L164.50 203.91 L164.75 210.39 L165.00 217.17 L165.25 223.96 L165.50 230.47 L165.75 236.43 L166.00 241.56 L166.25 245.67 L166.50 248.57 L166.75 250.13 L167.00 250.30 L167.25 249.05 L167.50 246.46 L167.75 242.62 L168.00 237.71 L168.25 231.92 L168.50 225.52 L168.75 218.77 L169.00 211.96 L169.25 205.38 L169.50 199.32 L169.75 194.03 L170.00 189.73 L170.25 186.63 L170.50 184.83 L170.75 184.43 L171.00 185.44 L171.25 187.82 L171.50 191.46 L171.75 196.21 L172.00 201.86 L172.25 208.18 L172.50 214.90 L172.75 221.72 L173.00 228.35 L173.25 234.52 L173.50 239.96 L173.75 244.43 L174.00 247.74 L174.25 249.76 L174.50 250.40 L174.75 249.62 L175.00 247.47 L175.25 244.03 L175.50 239.45 L175.75 233.93 L176.00 227.71 L176.25 221.04 L176.50 214.22 L176.75 207.53 L177.00 201.26 L177.25 195.69 L177.50 191.04 L177.75 187.52 L178.00 185.28 L178.25 179.01 L178.50 179.64 L178.75 181.89 L179.00 185.65 L179.25 190.77 L179.50 197.03 L179.75 204.16 L180.00 211.85 L180.25 219.78 L180.50 227.62 L180.75 235.01 L181.00 241.65 L181.25 247.26 L181.50 251.58 L181.75 254.45 L182.00 255.73 L182.25 255.38 L182.50 253.40 L182.75 249.88 L183.00 244.97 L183.25 238.89 L183.50 231.88 L183.75 224.26 L184.00 216.34 L184.25 208.47 L184.50 200.98 L184.75 194.19 L185.00 188.40 L185.25 183.84 L185.50 180.72 L185.75 179.17 L186.00 179.25 L186.25 180.96 L186.50 184.23 L186.75 188.92 L187.00 194.83 L187.25 201.70 L187.50 209.24 L187.75 217.13 L188.00 225.04 L188.25 232.61 L188.50 239.54 L188.75 245.52 L189.00 250.30 L189.25 253.67 L189.50 255.49 L189.75 255.68 L190.00 254.23 L190.25 251.21 L190.50 246.75 L190.75 241.03 L191.00 234.30 L191.25 226.85 L191.50 218.99 L191.75 211.07 L192.00 203.41 L192.25 196.36 L192.50 190.20 L192.75 185.21 L193.00 181.59 L193.25 179.50 L193.50 179.04 L193.75 180.21 L194.00 182.98 L194.25 187.21 L194.50 192.74 L194.75 199.32 L195.00 206.67 L195.25 214.49 L195.50 222.42 L195.75 230.15 L196.00 237.32 L196.25 243.65 L196.50 248.85 L196.75 252.71 L197.00 255.06 L197.25 255.80 L197.50 254.90 L197.75 252.39 L198.00 248.39 L198.25 243.06 L198.50 236.64 L198.75 229.39 L199.00 221.63 L199.25 213.69 L199.50 205.91 L199.75 198.62 L200.00 194.70 L200.25 189.84 L200.50 186.16 L200.75 183.82 L201.00 182.91 L201.25 183.48 L201.50 185.49 L201.75 188.87 L202.00 193.47 L202.25 199.10 L202.50 205.50 L202.75 212.42 L203.00 219.54 L203.25 226.58 L203.50 233.22 L203.75 239.19 L204.00 244.22 L204.25 248.11 L204.50 250.69 L204.75 251.84 L205.00 251.52 L205.25 249.74 L205.50 246.58 L205.75 242.17 L206.00 236.70 L206.25 230.41 L206.50 223.56 L206.75 216.45 L207.00 209.38 L207.25 202.65 L207.50 196.55 L207.75 191.34 L208.00 187.25 L208.25 184.44 L208.50 183.05 L208.75 183.12 L209.00 184.66 L209.25 187.60 L209.50 191.81 L209.75 197.12 L210.00 203.30 L210.25 210.07 L210.50 217.16 L210.75 224.26 L211.00 231.07 L211.25 237.29 L211.50 242.66 L211.75 246.96 L212.00 249.98 L212.25 251.62 L212.50 251.79 L212.75 250.49 L213.00 247.78 L213.25 243.77 L213.50 238.63 L213.75 232.58 L214.00 225.89 L214.25 218.83 L214.50 211.71 L214.75 204.83 L215.00 198.49 L215.25 192.96 L215.50 188.48 L215.75 185.23 L216.00 183.35 L216.25 182.93 L216.50 183.99 L216.75 186.47 L217.00 190.28 L217.25 195.24 L217.50 201.16 L217.75 207.76 L218.00 214.78 L218.25 221.91 L218.50 228.85 L218.75 235.30 L219.00 240.98 L219.25 245.66 L219.50 249.12 L219.75 251.23 L220.00 251.90 L220.25 251.09 L220.50 248.84 L220.75 245.24 L221.00 240.46 L221.25 234.68 L221.50 228.17 L221.75 220.80 L222.00 214.43 L222.25 208.19 L222.50 202.34 L222.75 197.14 L223.00 192.80 L223.25 189.51 L223.50 187.42 L223.75 186.61 L224.00 187.11 L224.25 188.91 L224.50 191.93 L224.75 196.04 L225.00 201.06 L225.25 206.78 L225.50 212.95 L225.75 219.31 L226.00 225.59 L226.25 231.52 L226.50 236.85 L226.75 241.35 L227.00 244.82 L227.25 247.12 L227.50 248.15 L227.75 247.86 L228.00 246.27 L228.25 243.45 L228.50 239.51 L228.75 234.63 L229.00 229.01 L229.25 222.90 L229.50 216.55 L229.75 210.24 L230.00 204.23 L230.25 198.78 L230.50 194.14 L230.75 190.48 L231.00 187.98 L231.25 186.73 L231.50 186.80 L231.75 188.17 L232.00 190.80 L232.25 194.56 L232.50 199.30 L232.75 204.81 L233.00 210.86 L233.25 217.19 L233.50 223.53 L233.75 229.60 L234.00 235.16 L234.25 239.95 L234.50 243.79 L234.75 246.49 L235.00 247.95 L235.25 248.10 L235.50 246.94 L235.75 244.52 L236.00 240.94 L236.25 236.35 L236.50 230.95 L236.75 224.98 L237.00 218.68 L237.25 212.32 L237.50 206.18 L237.75 200.52 L238.00 195.58 L238.25 191.58 L238.50 188.68 L238.75 187.00 L239.00 186.63 L239.25 187.57 L239.50 189.79 L239.75 193.19 L240.00 197.62 L240.25 202.90 L240.50 208.80 L240.75 215.06 L241.00 221.43 L241.25 227.62 L241.50 233.38 L241.75 238.45 L242.00 242.63 L242.25 245.72 L242.50 247.61 L242.75 248.20 L243.00 247.47 L243.25 245.46 L243.50 238.79 L243.75 235.11 L244.00 230.68 L244.25 225.68 L244.50 220.32 L244.75 214.84 L245.00 209.47 L245.25 204.44 L245.50 199.96 L245.75 196.23 L246.00 193.41 L246.25 191.61 L246.50 190.91 L246.75 191.34 L247.00 192.89 L247.25 195.49 L247.50 199.02 L247.75 203.34 L248.00 208.26 L248.25 213.57 L248.50 219.05 L248.75 224.45 L249.00 229.55 L249.25 234.14 L249.50 238.00 L249.75 240.99 L250.00 242.97 L250.25 243.85 L250.50 243.61 L250.75 242.24 L251.00 239.81 L251.25 236.43 L251.50 232.23 L251.75 227.39 L252.00 222.13 L252.25 216.67 L252.50 211.24 L252.75 206.07 L253.00 201.38 L253.25 197.38 L253.50 194.24 L253.75 192.09 L254.00 191.02 L254.25 191.07 L254.50 192.25 L254.75 194.51 L255.00 197.75 L255.25 201.82 L255.50 206.57 L255.75 211.77 L256.00 217.22 L256.25 222.67 L256.50 227.90 L256.75 232.68 L257.00 236.81 L257.25 240.10 L257.50 242.43 L257.75 243.68 L258.00 243.82 L258.25 242.82 L258.50 240.74 L258.75 237.65 L259.00 233.71 L259.25 229.06 L259.50 223.92 L259.75 218.50 L260.00 213.03 L260.25 207.75 L260.50 202.88 L260.75 198.63 L261.00 195.18 L261.25 192.69 L261.50 191.25 L261.75 190.93 L262.00 191.74 L262.25 193.64 L262.50 196.57 L262.75 200.38 L263.00 204.92 L263.25 210.00 L263.50 215.39 L263.75 220.87 L264.00 226.20 L264.25 231.15 L264.50 235.51 L264.75 239.10 L265.00 241.77 L265.25 239.76 L265.50 240.20 L265.75 239.66 L266.00 238.18 L266.25 235.80 L266.50 232.64 L266.75 228.82 L267.00 224.52 L267.25 219.91 L267.50 215.20 L267.75 210.58 L268.00 206.25 L268.25 202.40 L268.50 199.19 L268.75 196.76 L269.00 195.21 L269.25 194.61 L269.50 194.98 L269.75 196.31 L270.00 198.55 L270.25 201.59 L270.50 205.30 L270.75 209.54 L271.00 214.11 L271.25 218.82 L271.50 223.47 L271.75 227.86 L272.00 231.80 L272.25 235.13 L272.50 237.70 L272.75 239.40 L273.00 240.16 L273.25 239.95 L273.50 238.77 L273.75 236.68 L274.00 233.77 L274.25 230.16 L274.50 226.00 L274.75 221.47 L275.00 216.77 L275.25 212.10 L275.50 207.65 L275.75 203.62 L276.00 200.18 L276.25 197.47 L276.50 195.62 L276.75 194.70 L277.00 194.75 L277.25 195.77 L277.50 197.71 L277.75 200.49 L278.00 204.00 L278.25 208.08 L278.50 212.56 L278.75 217.24 L279.00 221.93 L279.25 226.43 L279.50 230.55 L279.75 234.10 L280.00 236.93 L280.25 238.93 L280.50 240.01 L280.75 240.13 L281.00 239.27 L281.25 237.48 L281.50 234.83 L281.75 231.43 L282.00 227.43 L282.25 223.01 L282.50 218.34 L282.75 213.64 L283.00 209.09 L283.25 204.91 L283.50 201.25 L283.75 198.29 L284.00 196.14 L284.25 194.90 L284.50 194.62 L284.75 195.32 L285.00 196.96 L285.25 199.48 L285.50 202.76 L285.75 206.67 L286.00 211.03 L286.25 215.67 L286.50 220.38 L286.75 224.97 L287.00 227.31 L287.25 230.46 L287.50 233.04 L287.75 234.96 L288.00 236.13 L288.25 236.50 L288.50 236.05 L288.75 234.80 L289.00 232.81 L289.25 230.16 L289.50 226.97 L289.75 223.36 L290.00 219.51 L290.25 215.56 L290.50 211.69 L290.75 208.06 L291.00 204.83 L291.25 202.14 L291.50 200.11 L291.75 198.81 L292.00 198.31 L292.25 198.62 L292.50 199.74 L292.75 201.61 L293.00 204.15 L293.25 207.27 L293.50 210.81 L293.75 214.64 L294.00 218.59 L294.25 222.48 L294.50 226.16 L294.75 229.46 L295.00 232.25 L295.25 234.40 L295.50 235.83 L295.75 236.47 L296.00 236.29 L296.25 235.31 L296.50 233.55 L296.75 231.11 L297.00 228.09 L297.25 224.60 L297.50 220.81 L297.75 216.87 L298.00 212.96 L298.25 209.23 L298.50 205.86 L298.75 202.97 L299.00 200.71 L299.25 199.16 L299.50 198.38 L299.75 198.42 L300.00 199.28 L300.25 200.90 L300.50 203.24 L300.75 206.17 L301.00 209.59 L301.25 213.34 L301.50 217.27 L301.75 221.20 L302.00 224.97 L302.25 228.41 L302.50 231.39 L302.75 233.76 L303.00 235.44 L303.25 236.34 L303.50 236.44 L303.75 235.72 L304.00 234.22 L304.25 232.00 L304.50 229.15 L304.75 225.81 L305.00 222.10 L305.25 218.19 L305.50 214.25 L305.75 210.44 L306.00 206.93 L306.25 203.87 L306.50 201.39 L306.75 199.59 L307.00 198.55 L307.25 198.32 L307.50 198.90 L307.75 200.28 L308.00 202.39 L308.25 205.13 L308.50 208.41 L308.75 213.15 L309.00 216.25 L309.25 219.39 L309.50 222.44 L309.75 225.29 L310.00 227.79 L310.25 229.85 L310.50 231.38 L310.75 232.31 L311.00 232.60 L311.25 232.24 L311.50 231.25 L311.75 229.67 L312.00 227.56 L312.25 225.02 L312.50 222.15 L312.75 219.08 L313.00 215.93 L313.25 212.85 L313.50 209.97 L313.75 207.40 L314.00 205.26 L314.25 203.64 L314.50 202.60 L314.75 202.20 L315.00 202.45 L315.25 203.34 L315.50 204.83 L315.75 206.86 L316.00 209.34 L316.25 212.16 L316.50 215.20 L316.75 218.34 L317.00 221.44 L317.25 224.37 L317.50 227.00 L317.75 229.22 L318.00 230.93 L318.25 232.07 L318.50 232.57 L318.75 232.43 L319.00 231.65 L319.25 230.26 L319.50 228.31 L319.75 225.90 L320.00 223.13 L320.25 220.11 L320.50 216.98 L320.75 213.86 L321.00 210.90 L321.25 208.21 L321.50 205.92 L321.75 204.12 L322.00 202.88 L322.25 202.27 L322.50 202.30 L322.75 202.98 L323.00 204.27 L323.25 206.13 L323.50 208.47 L323.75 211.19 L324.00 214.17 L324.25 217.30 L324.50 220.42 L324.75 223.42 L325.00 226.16 L325.25 228.53 L325.50 230.42 L325.75 231.76 L326.00 232.48 L326.25 232.55 L326.50 231.98 L326.75 230.79 L327.00 229.02 L327.25 226.75 L327.50 224.09 L327.75 221.14 L328.00 218.03 L328.25 214.89 L328.50 211.86 L328.75 209.07 L329.00 206.63 L329.25 204.66 L329.50 203.23 L329.75 202.40 L330.00 202.22 L330.25 202.68 L330.50 208.08 L330.75 209.22 L331.00 210.72 L331.25 212.50 L331.50 214.50 L331.75 216.61 L332.00 218.76 L332.25 220.85 L332.50 222.80 L332.75 224.51 L333.00 225.92 L333.25 226.96 L333.50 227.60 L333.75 227.80 L334.00 227.55 L334.25 226.88 L334.50 225.79 L334.75 224.35 L335.00 222.61 L335.25 220.65 L335.50 218.55 L335.75 216.40 L336.00 214.29 L336.25 212.31 L336.50 210.56 L336.75 209.09 L337.00 207.98 L337.25 207.28 L337.50 207.00 L337.75 207.17 L338.00 207.78 L338.25 208.80 L338.50 210.19 L338.75 211.88 L339.00 213.81 L339.25 215.90 L339.50 218.05 L339.75 220.17 L340.00 222.17 L340.25 223.97 L340.50 225.49 L340.75 226.66 L341.00 227.43 L341.25 227.78 L341.50 227.69 L341.75 227.15 L342.00 226.20 L342.25 224.87 L342.50 223.22 L342.75 221.32 L343.00 219.26 L343.25 217.11 L343.50 214.98 L343.75 212.95 L344.00 211.11 L344.25 209.54 L344.50 208.31 L344.75 207.47 L345.00 207.05 L345.25 207.07 L345.50 207.53 L345.75 208.42 L346.00 209.69 L346.25 211.29 L346.50 213.15 L346.75 215.19 L347.00 217.33 L347.25 219.47 L347.50 221.52 L347.75 223.40 L348.00 225.02 L348.25 226.31 L348.50 227.22 L348.75 227.72 L349.00 227.77 L349.25 227.38 L349.50 226.56 L349.75 225.35 L350.00 223.80 L350.25 221.98 L350.50 219.96 L350.75 217.83 L351.00 215.68 L351.25 213.61 L351.50 211.70 L351.75 210.03 L352.00 209.02 L352.25 208.07 L352.50 207.53 L352.75 207.41 L353.00 207.72 L353.25 208.44 L353.50 209.54 L353.75 210.98 L354.00 212.69 L354.25 214.61 L354.50 216.64 L354.75 218.71 L355.00 220.72 L355.25 222.59 L355.50 224.24 L355.75 225.59 L356.00 226.60 L356.25 227.21 L356.50 227.40 L356.75 227.16 L357.00 226.51 L357.25 225.47 L357.50 224.08 L357.75 222.41 L358.00 220.52 L358.25 218.50 L358.50 216.43 L358.75 214.41 L359.00 212.51 L359.25 210.82 L359.50 209.41 L359.75 208.35 L360.00 207.67 L360.25 207.40 L360.50 207.57 L360.75 208.15 L361.00 209.13 L361.25 210.46 L361.50 212.09 L361.75 213.95 L362.00 215.96 L362.25 218.02 L362.50 220.06 L362.75 221.99 L363.00 223.72 L363.25 225.18 L363.50 226.30 L363.75 227.05 L364.00 227.38 L364.25 227.29 L364.50 226.77 L364.75 225.86 L365.00 224.58 L365.25 223.00 L365.50 221.17 L365.75 219.19 L366.00 217.12 L366.25 215.07 L366.50 213.12 L366.75 211.36 L367.00 209.85 L367.25 208.66 L367.50 207.85 L367.75 207.44 L368.00 207.46 L368.25 207.91 L368.50 208.76 L368.75 209.98 L369.00 211.52 L369.25 213.31 L369.50 215.28 L369.75 217.33 L370.00 219.39 L370.25 221.36 L370.50 223.17 L370.75 224.72 L371.00 225.97 L371.25 226.84 L371.50 227.32 L371.75 227.37 L372.00 226.99 L372.25 226.21 L372.50 225.04 L372.75 223.55 L373.00 221.80 L373.25 219.86 L373.50 217.81 L373.75 215.82 L374.00 213.90 L374.25 212.14 L374.50 210.60 L374.75 209.35 L375.00 208.45 L375.25 207.93 L375.50 207.81 L375.75 208.10 L376.00 208.79 L376.25 209.85 L376.50 211.23 L376.75 212.88 L377.00 214.72 L377.25 216.67 L377.50 218.66 L377.75 220.59 L378.00 222.38 L378.25 223.96 L378.50 225.26 L378.75 226.23 L379.00 226.81 L379.25 227.00 L379.50 226.77 L379.75 226.15 L380.00 225.15 L380.25 223.82 L380.50 222.21 L380.75 220.40 L381.00 218.46 L381.25 216.47 L381.50 214.53 L381.75 212.71 L382.00 211.08 L382.25 209.73 L382.50 208.71 L382.75 208.06 L383.00 207.80 L383.25 207.96 L383.50 208.52 L383.75 209.46 L384.00 210.74 L384.25 212.31 L384.50 214.09 L384.75 216.01 L385.00 218.00 L385.25 219.95 L385.50 221.80 L385.75 223.46 L386.00 224.86 L386.25 225.95 L386.50 226.66 L386.75 226.98 L387.00 226.89 L387.25 226.40 L387.50 225.52 L387.75 224.29 L388.00 222.77 L388.25 221.02 L388.50 219.11 L388.75 217.13 L389.00 215.17 L389.25 213.29 L389.50 211.60 L389.75 210.15 L390.00 209.01 L390.25 208.23 L390.50 207.84 L390.75 207.86 L391.00 208.29 L391.25 209.11 L391.50 210.28 L391.75 211.76 L392.00 213.48 L392.25 215.36 L392.50 217.33 L392.75 219.31 L393.00 221.20 L393.25 222.93 L393.50 224.43 L393.75 225.62 L394.00 226.47 L394.25 226.92 L394.50 226.97 L394.75 226.61 L395.00 225.85 L395.25 224.74 L395.50 223.06 L395.75 221.45 L396.00 219.66 L396.25 217.78 L396.50 215.88 L396.75 214.05 L397.00 212.36 L397.25 210.88 L397.50 209.69 L397.75 208.82 L398.00 208.32 L398.25 208.21 L398.50 208.49 L398.75 209.15 L399.00 210.17 L399.25 211.49 L399.50 213.07 L399.75 214.83 L400.00 216.70 L400.25 218.60 L400.50 220.45 L400.75 222.17 L401.00 223.69 L401.25 224.94 L401.50 225.86 L401.75 226.42 L402.00 226.60 L402.25 226.38 L402.50 225.78 L402.75 224.82 L403.00 223.55 L403.25 222.01 L403.50 220.27 L403.75 218.41 L404.00 216.51 L404.25 214.65 L404.50 212.90 L404.75 211.35 L405.00 210.05 L405.25 209.07 L405.50 208.45 L405.75 208.20 L406.00 208.35 L406.25 208.89 L406.50 209.79 L406.75 211.02 L407.00 212.52 L407.25 214.23 L407.50 216.07 L407.75 217.97 L408.00 219.85 L408.25 221.62 L408.50 223.21 L408.75 224.55 L409.00 225.59 L409.25 226.28 L409.50 226.58 L409.75 226.50 L410.00 226.02 L410.25 225.18 L410.50 224.01 L410.75 222.55 L411.00 220.87 L411.25 219.04 L411.50 217.15 L411.75 215.26 L412.00 213.47 L412.25 211.84 L412.50 210.45 L412.75 209.36 L413.00 208.61 L413.25 208.24 L413.50 208.26 L413.75 208.67 L414.00 209.45 L414.25 210.58 L414.50 211.99 L414.75 213.64 L415.00 215.45 L415.25 217.34 L415.50 219.23 L415.75 221.05 L416.00 222.70 L416.25 224.14 L416.50 225.28 L416.75 226.09 L417.00 226.53 L417.25 226.07 L417.50 225.75 L417.75 225.06 L418.00 224.05 L418.25 222.75 L418.50 221.23 L418.75 219.54 L419.00 217.76 L419.25 215.96 L419.50 214.23 L419.75 212.63 L420.00 211.24 L420.25 210.11 L420.50 209.29 L420.75 208.81 L421.00 208.71 L421.25 208.97 L421.50 209.60 L421.75 210.56 L422.00 211.81 L422.25 213.30 L422.50 214.97 L422.75 216.74 L423.00 218.54 L423.25 220.29 L423.50 221.91 L423.75 223.35 L424.00 224.53 L424.25 225.40 L424.50 225.93 L424.75 226.10 L425.00 225.90 L425.25 225.33 L425.50 224.42 L425.75 223.21 L426.00 221.76 L426.25 220.12 L426.50 218.36 L426.75 216.56 L427.00 214.80 L427.25 213.15 L427.50 211.68 L427.75 210.45 L428.00 209.52 L428.25 208.93 L428.50 208.70 L428.75 208.85 L429.00 209.35 L429.25 210.21 L429.50 211.37 L429.75 212.78 L430.00 214.40 L430.25 216.14 L430.50 217.94 L430.75 219.71 L431.00 221.39 L431.25 222.89 L431.50 224.16 L431.75 225.14 L432.00 225.79 L432.25 226.09 L432.50 226.00 L432.75 225.56 L433.00 224.76 L433.25 223.65 L433.50 222.27 L433.75 220.68 L434.00 218.95 L434.25 217.16 L434.50 215.38 L434.75 213.68 L435.00 212.14 L435.25 210.83 L435.50 209.80 L435.75 209.09 L436.00 208.74 L436.25 208.76 L436.50 209.14 L436.75 209.89 L437.00 210.95 L437.25 212.29 L437.50 213.84 L437.75 215.55 L438.00 217.34 L438.25 219.13 L438.50 220.85 L438.75 222.42 L439.00 223.40 L439.25 224.42 L439.50 225.14 L439.75 225.53 L440.00 225.57 L440.25 225.27 L440.50 224.62 L440.75 223.67 L441.00 222.45 L441.25 221.01 L441.50 219.42 L441.75 217.74 L442.00 216.05 L442.25 214.41 L442.50 212.91 L442.75 211.59 L443.00 210.53 L443.25 209.75 L443.50 209.31 L443.75 209.21 L444.00 209.46 L444.25 210.05 L444.50 210.95 L444.75 212.13 L445.00 213.54 L445.25 215.11 L445.50 216.78 L445.75 218.47 L446.00 220.12 L446.25 221.65 L446.50 223.01 L446.75 224.12 L447.00 224.94 L447.25 225.44 L447.50 225.60 L447.75 225.41 L448.00 224.87 L448.25 224.02 L448.50 222.88 L448.75 221.51 L449.00 219.96 L449.25 218.30 L449.50 216.61 L449.75 214.95 L450.00 213.39 L450.25 212.00 L450.50 210.85 L450.75 209.98 L451.00 209.42 L451.25 209.20 L451.50 209.34 L451.75 209.82 L452.00 210.62 L452.25 211.71 L452.50 213.05 L452.75 214.57 L453.00 216.22 L453.25 217.91 L453.50 219.58 L453.75 221.16 L454.00 222.58 L454.25 223.78 L454.50 224.70 L454.75 225.31 L455.00 225.59 L455.25 225.51 L455.50 225.09 L455.75 224.34 L456.00 223.29 L456.25 221.99 L456.50 220.49 L456.75 218.86 L457.00 217.17 L457.25 215.49 L457.50 213.89 L457.75 212.44 L458.00 211.21 L458.25 210.23 L458.50 209.57 L458.75 209.24 L459.00 209.25 L459.25 209.62 L459.50 210.32 L459.75 211.32 L460.00 212.58 L460.25 214.05 L460.50 215.66 L460.75 217.35 L461.00 218.93 L461.25 220.45 L461.50 221.84 L461.75 223.04 L462.00 224.00 L462.25 224.67 L462.50 225.04 L462.75 225.08 L463.00 224.79 L463.25 224.18 L463.50 223.29 L463.75 222.14 L464.00 220.79 L464.25 219.29 L464.50 217.72 L464.75 216.13 L465.00 214.60 L465.25 213.18 L465.50 211.95 L465.75 210.94 L466.00 210.22 L466.25 209.80 L466.50 209.71 L466.75 209.94 L467.00 210.50 L467.25 211.35 L467.50 212.46 L467.75 213.77 L468.00 215.25 L468.25 216.82 L468.50 218.41 L468.75 219.96 L469.00 221.39 L469.25 222.66 L469.50 223.71 L469.75 224.48 L470.00 224.95 L470.25 225.10 L470.50 224.92 L470.75 224.42 L471.00 223.61 L471.25 222.55 L471.50 221.26 L471.75 219.80 L472.00 218.25 L472.25 216.66 L472.50 215.10 L472.75 213.63 L473.00 212.33 L473.25 211.25 L473.50 210.43 L473.75 209.91 L474.00 209.70 L474.25 209.83 L474.50 210.28 L474.75 211.03 L475.00 212.06 L475.25 213.31 L475.50 214.74 L475.75 216.29 L476.00 217.88 L476.25 219.45 L476.50 220.93 L476.75 222.26 L477.00 223.39 L477.25 224.25 L477.50 224.83 L477.75 225.09 L478.00 225.02 L478.25 224.62 L478.50 223.91 L478.75 222.93 L479.00 221.71 L479.25 220.30 L479.50 218.77 L479.75 217.19 L480.00 215.61 L480.25 214.11 L480.50 212.75 L480.75 211.58 L481.00 210.67 L481.25 210.04 L481.50 209.73 L481.75 209.75 L482.00 210.09 L482.25 210.75 L482.50 211.99 L482.75 213.11 L483.00 214.42 L483.25 215.85 L483.50 217.35 L483.75 218.85 L484.00 220.29 L484.25 221.61 L484.50 222.75 L484.75 223.65 L485.00 224.29 L485.25 224.64 L485.50 224.68 L485.75 224.40 L486.00 223.83 L486.25 222.98 L486.50 221.89 L486.75 220.61 L487.00 219.20 L487.25 217.70 L487.50 216.20 L487.75 214.74 L488.00 213.40 L488.25 212.23 L488.50 211.28 L488.75 210.59 L489.00 210.20 L489.25 210.11 L489.50 210.33 L489.75 210.86 L490.00 211.66 L490.25 212.71 L490.50 213.96 L490.75 215.36 L491.00 216.85 L491.25 218.35 L491.50 219.82 L491.75 221.19 L492.00 222.39 L492.25 223.38 L492.50 224.11 L492.75 224.56 L493.00 224.70 L493.25 224.53 L493.50 224.05 L493.75 223.29 L494.00 222.28 L494.25 221.06 L494.50 219.68 L494.75 218.20 L495.00 216.70 L495.25 215.22 L495.50 213.83 L495.75 212.60 L496.00 211.57 L496.25 210.79 L496.50 210.29 L496.75 210.10 L497.00 210.22 L497.25 210.65 L497.50 211.36 L497.75 212.34 L498.00 213.53 L498.25 214.88 L498.50 216.35 L498.75 217.85 L499.00 219.34 L499.25 220.75 L499.50 222.01 L499.75 223.08 L500.00 223.90 L500.25 224.44 L500.50 224.69 L500.75 224.62 L501.00 224.24 L501.25 223.57 L501.50 222.64 L501.75 221.48 L502.00 220.15 L502.25 218.70 L502.50 217.20 L502.75 215.70 L503.00 214.28 L503.25 212.99 L503.50 211.89" stroke="#ff0000"/>
</g>
<line x1="48.5" y1="217.4" x2="503.5" y2="217.4" stroke="#0a0a0a" stroke-width="1"/>
<line x1="124.3" y1="174.5" x2="124.3" y2="180.5" stroke="#222" stroke-width="1"/>
<line x1="124.3" y1="255.0" x2="124.3" y2="264.0" stroke="#222" stroke-width="1"/>
<line x1="200.2" y1="174.5" x2="200.2" y2="180.5" stroke="#222" stroke-width="1"/>
<line x1="200.2" y1="255.0" x2="200.2" y2="264.0" stroke="#222" stroke-width="1"/>
<line x1="276.0" y1="174.5" x2="276.0" y2="180.5" stroke="#222" stroke-width="1"/>
<line x1="276.0" y1="255.0" x2="276.0" y2="264.0" stroke="#222" stroke-width="1"/>
<line x1="351.8" y1="174.5" x2="351.8" y2="180.5" stroke="#222" stroke-width="1"/>
<line x1="351.8" y1="255.0" x2="351.8" y2="264.0" stroke="#222" stroke-width="1"/>
<line x1="427.7" y1="174.5" x2="427.7" y2="180.5" stroke="#222" stroke-width="1"/>
<line x1="427.7" y1="255.0" x2="427.7" y2="264.0" stroke="#222" stroke-width="1"/>
<line x1="503.5" y1="174.5" x2="503.5" y2="180.5" stroke="#222" stroke-width="1"/>
<line x1="503.5" y1="255.0" x2="503.5" y2="264.0" stroke="#222" stroke-width="1"/>
<line x1="43.5" y1="183.5" x2="53" y2="183.5" stroke="#000" stroke-width="1.3"/>
<line x1="499.5" y1="183.4" x2="504.5" y2="183.4" stroke="#222" stroke-width="1"/>
<text x="38.2" y="186.0" font-size="7.2" fill="#2a2a2a" stroke="#2a2a2a" stroke-width="0.18" text-anchor="end">10</text>
<line x1="43.5" y1="200.5" x2="53" y2="200.5" stroke="#000" stroke-width="1.3"/>
<line x1="499.5" y1="200.4" x2="504.5" y2="200.4" stroke="#222" stroke-width="1"/>
<text x="38.2" y="203.0" font-size="7.2" fill="#2a2a2a" stroke="#2a2a2a" stroke-width="0.18" text-anchor="end">5</text>
<line x1="43.5" y1="217.5" x2="53" y2="217.5" stroke="#000" stroke-width="1.3"/>
<text x="38.2" y="220.0" font-size="7.2" fill="#2a2a2a" stroke="#2a2a2a" stroke-width="0.18" text-anchor="end">0</text>
<line x1="43.5" y1="234.5" x2="53" y2="234.5" stroke="#000" stroke-width="1.3"/>
<line x1="499.5" y1="234.4" x2="504.5" y2="234.4" stroke="#222" stroke-width="1"/>
<text x="38.2" y="237.0" font-size="7.2" fill="#2a2a2a" stroke="#2a2a2a" stroke-width="0.18" text-anchor="end">-5</text>
<line x1="43.5" y1="251.5" x2="53" y2="251.5" stroke="#000" stroke-width="1.3"/>
<line x1="499.5" y1="251.4" x2="504.5" y2="251.4" stroke="#222" stroke-width="1"/>
<text x="38.2" y="254.0" font-size="7.2" fill="#2a2a2a" stroke="#2a2a2a" stroke-width="0.18" text-anchor="end">-10</text>
<line x1="48.5" y1="174.5" x2="48.5" y2="285.0" stroke="#222" stroke-width="1.2"/>
<line x1="48.5" y1="259.8" x2="504.0" y2="259.8" stroke="#111" stroke-width="1.3"/>
<text x="48.5" y="272.3" font-size="7.2" fill="#2a2a2a" stroke="#2a2a2a" stroke-width="0.18" text-anchor="middle">0.0</text>
<text x="124.3" y="272.3" font-size="7.2" fill="#2a2a2a" stroke="#2a2a2a" stroke-width="0.18" text-anchor="middle">0.2</text>
<text x="200.2" y="272.3" font-size="7.2" fill="#2a2a2a" stroke="#2a2a2a" stroke-width="0.18" text-anchor="middle">0.4</text>
<text x="276.0" y="272.3" font-size="7.2" fill="#2a2a2a" stroke="#2a2a2a" stroke-width="0.18" text-anchor="middle">0.6</text>
<text x="351.8" y="272.3" font-size="7.2" fill="#2a2a2a" stroke="#2a2a2a" stroke-width="0.18" text-anchor="middle">0.8</text>
<text x="427.7" y="272.3" font-size="7.2" fill="#2a2a2a" stroke="#2a2a2a" stroke-width="0.18" text-anchor="middle">1.0</text>
<text x="503.5" y="272.3" font-size="7.2" fill="#2a2a2a" stroke="#2a2a2a" stroke-width="0.18" text-anchor="middle">1.2</text>
<line x1="120.4" y1="174.5" x2="120.4" y2="261.0" stroke="#f7b10a" stroke-width="1.7"/>
<line x1="408.8" y1="174.5" x2="408.8" y2="261.0" stroke="#1fb4ee" stroke-width="2"/>
<text transform="translate(22.8 216.2) rotate(-90)" font-size="8.3" font-weight="bold" fill="#1a1a1a" text-anchor="middle" textLength="81" lengthAdjust="spacing" xml:space="preserve">Current  GroupB (A)</text>
<rect x="50.5" y="15.0" width="322.5" height="10.5" fill="#fff" stroke="#222" stroke-width="1.2"/>
<line x1="53.0" y1="19.8" x2="74.5" y2="19.8" stroke="#ff0000" stroke-width="1"/>
<rect x="81.3" y="16.8" width="5" height="5" fill="#000"/>
<text x="88.0" y="22.4" font-size="7.4" fill="#111" stroke="#111" stroke-width="0.3" textLength="34" lengthAdjust="spacingAndGlyphs">I L1: I L1</text>
<line x1="160.0" y1="19.8" x2="181.5" y2="19.8" stroke="#008000" stroke-width="1"/>
<rect x="188.3" y="16.8" width="5" height="5" fill="#000"/>
<text x="195.0" y="22.4" font-size="7.4" fill="#111" stroke="#111" stroke-width="0.3" textLength="34" lengthAdjust="spacingAndGlyphs">I L2: I L2</text>
<line x1="267.0" y1="19.8" x2="288.5" y2="19.8" stroke="#0000ff" stroke-width="1"/>
<rect x="295.3" y="16.8" width="5" height="5" fill="#000"/>
<text x="302.0" y="22.4" font-size="7.4" fill="#111" stroke="#111" stroke-width="0.3" textLength="34" lengthAdjust="spacingAndGlyphs">I L3: I L3</text>
<rect x="50.5" y="151.5" width="388.0" height="10.7" fill="#fff" stroke="#222" stroke-width="1.2"/>
<line x1="53.0" y1="156.3" x2="74.5" y2="156.3" stroke="#ff5a5a" stroke-width="1.6"/>
<rect x="81.3" y="153.3" width="5" height="5" fill="#000"/>
<text x="88.0" y="159.0" font-size="7.4" fill="#111" stroke="#111" stroke-width="0.3" textLength="57" lengthAdjust="spacingAndGlyphs">I L1(1): I L1(1)</text>
<line x1="181.8" y1="156.3" x2="203.3" y2="156.3" stroke="#55aa55" stroke-width="1.6"/>
<rect x="210.1" y="153.3" width="5" height="5" fill="#000"/>
<text x="216.8" y="159.0" font-size="7.4" fill="#111" stroke="#111" stroke-width="0.3" textLength="57" lengthAdjust="spacingAndGlyphs">I L2(1): I L2(1)</text>
<line x1="310.6" y1="156.3" x2="332.1" y2="156.3" stroke="#5a5aff" stroke-width="1.6"/>
<rect x="338.9" y="153.3" width="5" height="5" fill="#000"/>
<text x="345.6" y="159.0" font-size="7.4" fill="#111" stroke="#111" stroke-width="0.3" textLength="57" lengthAdjust="spacingAndGlyphs">I L3(1): I L3(1)</text>
<text x="264.5" y="294" font-size="13" font-weight="bold" fill="#111" text-anchor="middle" style="font-family:'Liberation Serif',serif">(a)</text>
<text x="265" y="383.5" font-size="13" font-weight="bold" fill="#111" text-anchor="middle" style="font-family:'Liberation Serif',serif">(b)</text>
<rect x="48.5" y="311.0" width="455.5" height="31.5" fill="#fff"/>
<line x1="124.3" y1="311.3" x2="124.3" y2="342.5" stroke="#bcc6ce" stroke-width="1" stroke-dasharray="4.8 4"/>
<line x1="200.2" y1="311.3" x2="200.2" y2="342.5" stroke="#bcc6ce" stroke-width="1" stroke-dasharray="4.8 4"/>
<line x1="276.0" y1="311.3" x2="276.0" y2="342.5" stroke="#bcc6ce" stroke-width="1" stroke-dasharray="4.8 4"/>
<line x1="351.8" y1="311.3" x2="351.8" y2="342.5" stroke="#bcc6ce" stroke-width="1" stroke-dasharray="4.8 4"/>
<line x1="427.7" y1="311.3" x2="427.7" y2="342.5" stroke="#bcc6ce" stroke-width="1" stroke-dasharray="4.8 4"/>
<line x1="503.5" y1="311.3" x2="503.5" y2="342.5" stroke="#bcc6ce" stroke-width="1" stroke-dasharray="4.8 4"/>
<line x1="48.5" y1="321.7" x2="503.5" y2="321.7" stroke="#333" stroke-width="1.3"/>
<line x1="48.5" y1="332.4" x2="503.5" y2="332.4" stroke="#333" stroke-width="1.3"/>
<line x1="124.3" y1="311.0" x2="124.3" y2="316.5" stroke="#222" stroke-width="1"/>
<line x1="124.3" y1="338.2" x2="124.3" y2="347.2" stroke="#222" stroke-width="1"/>
<line x1="200.2" y1="311.0" x2="200.2" y2="316.5" stroke="#222" stroke-width="1"/>
<line x1="200.2" y1="338.2" x2="200.2" y2="347.2" stroke="#222" stroke-width="1"/>
<line x1="276.0" y1="311.0" x2="276.0" y2="316.5" stroke="#222" stroke-width="1"/>
<line x1="276.0" y1="338.2" x2="276.0" y2="347.2" stroke="#222" stroke-width="1"/>
<line x1="351.8" y1="311.0" x2="351.8" y2="316.5" stroke="#222" stroke-width="1"/>
<line x1="351.8" y1="338.2" x2="351.8" y2="347.2" stroke="#222" stroke-width="1"/>
<line x1="427.7" y1="311.0" x2="427.7" y2="316.5" stroke="#222" stroke-width="1"/>
<line x1="427.7" y1="338.2" x2="427.7" y2="347.2" stroke="#222" stroke-width="1"/>
<line x1="503.5" y1="311.0" x2="503.5" y2="316.5" stroke="#222" stroke-width="1"/>
<line x1="503.5" y1="338.2" x2="503.5" y2="347.2" stroke="#222" stroke-width="1"/>
<rect x="121" y="329.7" width="383" height="5.5" fill="#f9c490" stroke="#3a3430" stroke-width="1.3"/>
<rect x="409.5" y="319.1" width="81.2" height="5.5" fill="#f9c490" stroke="#2a2622" stroke-width="1.3"/>
<line x1="48.5" y1="311.0" x2="48.5" y2="367.5" stroke="#222" stroke-width="1.2"/>
<line x1="48.5" y1="342.7" x2="504.0" y2="342.7" stroke="#111" stroke-width="1.3"/>
<text x="48.5" y="355.3" font-size="7.2" fill="#2a2a2a" stroke="#2a2a2a" stroke-width="0.18" text-anchor="middle">0.0</text>
<text x="124.3" y="355.3" font-size="7.2" fill="#2a2a2a" stroke="#2a2a2a" stroke-width="0.18" text-anchor="middle">0.2</text>
<text x="200.2" y="355.3" font-size="7.2" fill="#2a2a2a" stroke="#2a2a2a" stroke-width="0.18" text-anchor="middle">0.4</text>
<text x="276.0" y="355.3" font-size="7.2" fill="#2a2a2a" stroke="#2a2a2a" stroke-width="0.18" text-anchor="middle">0.6</text>
<text x="351.8" y="355.3" font-size="7.2" fill="#2a2a2a" stroke="#2a2a2a" stroke-width="0.18" text-anchor="middle">0.8</text>
<text x="427.7" y="355.3" font-size="7.2" fill="#2a2a2a" stroke="#2a2a2a" stroke-width="0.18" text-anchor="middle">1.0</text>
<text x="503.5" y="355.3" font-size="7.2" fill="#2a2a2a" stroke="#2a2a2a" stroke-width="0.18" text-anchor="middle">1.2</text>
<line x1="120.4" y1="311.0" x2="120.4" y2="345.0" stroke="#f7b10a" stroke-width="1.7"/>
<line x1="408.8" y1="311.0" x2="408.8" y2="345.5" stroke="#1fb4ee" stroke-width="2"/>
<text x="45.8" y="324.6" font-size="8.8" font-weight="bold" fill="#111" text-anchor="end">Trip</text>
<text x="45.8" y="335.3" font-size="8.4" font-weight="bold" fill="#111" text-anchor="end">Start</text>
<rect x="98.4" y="327.5" width="20.3" height="10.2" fill="#adff2f"/>
<text x="108.7" y="335.7" font-size="8.6" font-weight="bold" fill="#0f4a00" text-anchor="middle" letter-spacing="0.3">0.19</text>
<rect x="387.2" y="317.0" width="19.6" height="9.8" fill="#adff2f"/>
<text x="397.1" y="325.0" font-size="8.6" font-weight="bold" fill="#0f4a00" text-anchor="middle" letter-spacing="0.3">0.95</text>
<rect x="491.3" y="316.8" width="25.3" height="10.8" fill="#7fdde6"/>
<text x="504.1" y="325.3" font-size="8.6" font-weight="bold" fill="#12324a" text-anchor="middle" letter-spacing="0.3">1.168</text>
<rect x="504.2" y="327.6" width="18.8" height="10.5" fill="#ffff00"/>
<text x="513.8" y="336.0" font-size="8.6" font-weight="bold" fill="#111" text-anchor="middle" letter-spacing="0.3">1.01</text>
</svg></body></html>
